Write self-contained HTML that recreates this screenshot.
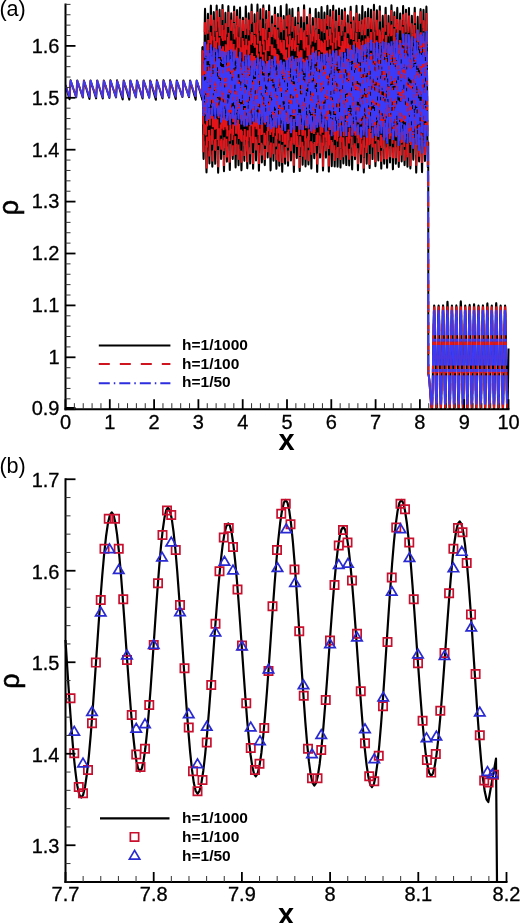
<!DOCTYPE html><html><head><meta charset="utf-8"><title>Density profiles</title><style>html,body{margin:0;padding:0;background:#fff;}svg{display:block;}</style></head><body><svg width="520" height="923" viewBox="0 0 520 923">
<rect width="520" height="923" fill="#fff"/>
<clipPath id="clipA"><rect x="65" y="0" width="445" height="409.2"/></clipPath>
<g fill="none" stroke-linejoin="round" clip-path="url(#clipA)">
<polyline points="65.5,85.52 65.57,85.74 65.63,85.97 65.7,86.2 65.77,86.42 65.83,86.65 65.9,86.87 65.97,87.1 66.03,87.32 66.1,87.55 66.16,87.78 66.23,88 66.3,88.23 66.36,88.45 66.43,88.68 66.5,88.9 66.56,89.13 66.63,89.36 66.7,89.58 66.76,89.81 66.83,90.03 66.9,90.26 66.96,90.48 67.03,90.71 67.09,90.94 67.16,91.16 67.23,91.39 67.29,91.61 67.36,91.84 67.43,92.06 67.49,92.29 67.56,92.52 67.63,92.74 67.69,92.97 67.76,93.19 67.83,93.42 67.89,93.65 67.96,93.87 68.03,94.1 68.09,94.32 68.16,94.55 68.22,94.77 68.29,95 68.36,95.23 68.42,95.45 68.49,95.68 68.56,95.9 68.62,96.13 68.69,96.35 68.76,96.58 68.82,96.81 68.89,97.03 68.96,97.26 69.02,97.48 69.09,97.71 69.15,97.93 69.22,98.16 69.29,98.39 69.35,98.61 69.42,98.84 69.49,99.06 69.55,99.29 69.62,99.17 69.69,97.89 69.75,96.61 69.82,95.33 69.89,94.05 69.95,92.77 70.02,91.49 70.09,90.21 70.15,88.93 70.22,87.65 70.28,86.38 70.35,85.1 70.42,83.82 70.48,82.54 70.55,81.26 70.62,80.35 70.68,80.55 70.75,80.75 70.82,80.95 70.88,81.16 70.95,81.36 71.02,81.56 71.08,81.76 71.15,81.96 71.21,82.16 71.28,82.36 71.35,82.57 71.41,82.77 71.48,82.97 71.55,83.17 71.61,83.37 71.68,83.57 71.75,83.77 71.81,83.97 71.88,84.18 71.95,84.38 72.01,84.58 72.08,84.78 72.14,84.98 72.21,85.18 72.28,85.38 72.34,85.59 72.41,85.79 72.48,85.99 72.54,86.19 72.61,86.39 72.68,86.59 72.74,86.79 72.81,86.99 72.88,87.2 72.94,87.4 73.01,87.6 73.08,87.8 73.14,88 73.21,88.2 73.27,88.4 73.34,88.61 73.41,88.81 73.47,89.01 73.54,89.21 73.61,89.41 73.67,89.61 73.74,89.81 73.81,90.01 73.87,90.22 73.94,90.42 74.01,90.62 74.07,90.82 74.14,91.02 74.2,91.22 74.27,91.42 74.34,91.63 74.4,91.83 74.47,92.03 74.54,92.23 74.6,92.43 74.67,92.63 74.74,92.83 74.8,93.03 74.87,93.24 74.94,93.44 75,93.64 75.07,93.84 75.14,94.04 75.2,94.24 75.27,94.44 75.33,94.65 75.4,94.85 75.47,95.05 75.53,95.25 75.6,95.45 75.67,95.65 75.73,95.85 75.8,96.05 75.87,96.26 75.93,96.46 76,96.66 76.07,96.86 76.13,97.06 76.2,97.26 76.26,96.97 76.33,95.83 76.4,94.69 76.46,93.55 76.53,92.41 76.6,91.27 76.66,90.13 76.73,88.99 76.8,87.85 76.86,86.7 76.93,85.56 77,84.42 77.06,83.28 77.13,82.14 77.2,81 77.26,80.38 77.33,80.58 77.39,80.79 77.46,80.99 77.53,81.2 77.59,81.4 77.66,81.6 77.73,81.81 77.79,82.01 77.86,82.22 77.93,82.42 77.99,82.63 78.06,82.83 78.13,83.03 78.19,83.24 78.26,83.44 78.32,83.65 78.39,83.85 78.46,84.05 78.52,84.26 78.59,84.46 78.66,84.67 78.72,84.87 78.79,85.08 78.86,85.28 78.92,85.48 78.99,85.69 79.06,85.89 79.12,86.1 79.19,86.3 79.26,86.5 79.32,86.71 79.39,86.91 79.45,87.12 79.52,87.32 79.59,87.53 79.65,87.73 79.72,87.93 79.79,88.14 79.85,88.34 79.92,88.55 79.99,88.75 80.05,88.96 80.12,89.16 80.19,89.36 80.25,89.57 80.32,89.77 80.38,89.98 80.45,90.18 80.52,90.38 80.58,90.59 80.65,90.79 80.72,91 80.78,91.2 80.85,91.41 80.92,91.61 80.98,91.81 81.05,92.02 81.12,92.22 81.18,92.43 81.25,92.63 81.32,92.83 81.38,93.04 81.45,93.24 81.51,93.45 81.58,93.65 81.65,93.86 81.71,94.06 81.78,94.26 81.85,94.47 81.91,94.67 81.98,94.88 82.05,95.08 82.11,95.29 82.18,95.49 82.25,95.69 82.31,95.9 82.38,96.1 82.44,96.31 82.51,96.51 82.58,96.71 82.64,96.92 82.71,97.12 82.78,97.33 82.84,97.53 82.91,97.05 82.98,95.9 83.04,94.74 83.11,93.58 83.18,92.42 83.24,91.27 83.31,90.11 83.38,88.95 83.44,87.8 83.51,86.64 83.57,85.48 83.64,84.33 83.71,83.17 83.77,82.01 83.84,80.85 83.91,80.42 83.97,80.64 84.04,80.86 84.11,81.08 84.17,81.3 84.24,81.52 84.31,81.75 84.37,81.97 84.44,82.19 84.5,82.41 84.57,82.63 84.64,82.85 84.7,83.07 84.77,83.3 84.84,83.52 84.9,83.74 84.97,83.96 85.04,84.18 85.1,84.4 85.17,84.63 85.24,84.85 85.3,85.07 85.37,85.29 85.44,85.51 85.5,85.73 85.57,85.96 85.63,86.18 85.7,86.4 85.77,86.62 85.83,86.84 85.9,87.06 85.97,87.29 86.03,87.51 86.1,87.73 86.17,87.95 86.23,88.17 86.3,88.39 86.37,88.62 86.43,88.84 86.5,89.06 86.56,89.28 86.63,89.5 86.7,89.72 86.76,89.95 86.83,90.17 86.9,90.39 86.96,90.61 87.03,90.83 87.1,91.05 87.16,91.27 87.23,91.5 87.3,91.72 87.36,91.94 87.43,92.16 87.49,92.38 87.56,92.6 87.63,92.83 87.69,93.05 87.76,93.27 87.83,93.49 87.89,93.71 87.96,93.93 88.03,94.16 88.09,94.38 88.16,94.6 88.23,94.82 88.29,95.04 88.36,95.26 88.43,95.49 88.49,95.71 88.56,95.93 88.62,96.15 88.69,96.37 88.76,96.59 88.82,96.82 88.89,97.04 88.96,97.26 89.02,97.48 89.09,97.7 89.16,97.92 89.22,98.14 89.29,98.37 89.36,98.59 89.42,98.81 89.49,99.03 89.55,98.31 89.62,97.06 89.69,95.8 89.75,94.54 89.82,93.29 89.89,92.03 89.95,90.78 90.02,89.52 90.09,88.27 90.15,87.01 90.22,85.75 90.29,84.5 90.35,83.24 90.42,81.99 90.49,80.73 90.55,80.44 90.62,80.65 90.68,80.87 90.75,81.08 90.82,81.29 90.88,81.51 90.95,81.72 91.02,81.93 91.08,82.15 91.15,82.36 91.22,82.57 91.28,82.79 91.35,83 91.42,83.21 91.48,83.43 91.55,83.64 91.61,83.85 91.68,84.07 91.75,84.28 91.81,84.49 91.88,84.71 91.95,84.92 92.01,85.13 92.08,85.35 92.15,85.56 92.21,85.77 92.28,85.99 92.35,86.2 92.41,86.41 92.48,86.63 92.55,86.84 92.61,87.06 92.68,87.27 92.74,87.48 92.81,87.7 92.88,87.91 92.94,88.12 93.01,88.34 93.08,88.55 93.14,88.76 93.21,88.98 93.28,89.19 93.34,89.4 93.41,89.62 93.48,89.83 93.54,90.04 93.61,90.26 93.67,90.47 93.74,90.68 93.81,90.9 93.87,91.11 93.94,91.32 94.01,91.54 94.07,91.75 94.14,91.96 94.21,92.18 94.27,92.39 94.34,92.6 94.41,92.82 94.47,93.03 94.54,93.24 94.61,93.46 94.67,93.67 94.74,93.88 94.8,94.1 94.87,94.31 94.94,94.52 95,94.74 95.07,94.95 95.14,95.16 95.2,95.38 95.27,95.59 95.34,95.8 95.4,96.02 95.47,96.23 95.54,96.44 95.6,96.66 95.67,96.87 95.73,97.08 95.8,97.3 95.87,97.51 95.93,97.72 96,97.94 96.07,98.15 96.13,98.36 96.2,97.48 96.27,96.27 96.33,95.06 96.4,93.85 96.47,92.64 96.53,91.43 96.6,90.22 96.67,89.02 96.73,87.81 96.8,86.6 96.86,85.39 96.93,84.18 97,82.97 97.06,81.76 97.13,80.55 97.2,80.47 97.26,80.69 97.33,80.9 97.4,81.12 97.46,81.33 97.53,81.55 97.6,81.76 97.66,81.98 97.73,82.19 97.79,82.4 97.86,82.62 97.93,82.83 97.99,83.05 98.06,83.26 98.13,83.48 98.19,83.69 98.26,83.91 98.33,84.12 98.39,84.34 98.46,84.55 98.53,84.77 98.59,84.98 98.66,85.2 98.72,85.41 98.79,85.63 98.86,85.84 98.92,86.06 98.99,86.27 99.06,86.49 99.12,86.7 99.19,86.92 99.26,87.13 99.32,87.35 99.39,87.56 99.46,87.78 99.52,87.99 99.59,88.21 99.66,88.42 99.72,88.64 99.79,88.85 99.85,89.07 99.92,89.28 99.99,89.5 100.05,89.71 100.12,89.93 100.19,90.14 100.25,90.36 100.32,90.57 100.39,90.79 100.45,91 100.52,91.22 100.59,91.43 100.65,91.65 100.72,91.86 100.78,92.08 100.85,92.29 100.92,92.51 100.98,92.72 101.05,92.94 101.12,93.15 101.18,93.37 101.25,93.58 101.32,93.8 101.38,94.01 101.45,94.23 101.52,94.44 101.58,94.66 101.65,94.87 101.72,95.09 101.78,95.3 101.85,95.52 101.91,95.73 101.98,95.95 102.05,96.16 102.11,96.38 102.18,96.59 102.25,96.81 102.31,97.02 102.38,97.24 102.45,97.45 102.51,97.67 102.58,97.88 102.65,98.1 102.71,98.31 102.78,98.53 102.84,97.44 102.91,96.22 102.98,95.01 103.04,93.79 103.11,92.57 103.18,91.35 103.24,90.13 103.31,88.91 103.38,87.7 103.44,86.48 103.51,85.26 103.58,84.04 103.64,82.82 103.71,81.61 103.78,80.39 103.84,80.49 103.91,80.7 103.97,80.91 104.04,81.12 104.11,81.33 104.17,81.53 104.24,81.74 104.31,81.95 104.37,82.16 104.44,82.37 104.51,82.57 104.57,82.78 104.64,82.99 104.71,83.2 104.77,83.41 104.84,83.61 104.9,83.82 104.97,84.03 105.04,84.24 105.1,84.45 105.17,84.65 105.24,84.86 105.3,85.07 105.37,85.28 105.44,85.49 105.5,85.69 105.57,85.9 105.64,86.11 105.7,86.32 105.77,86.53 105.84,86.73 105.9,86.94 105.97,87.15 106.03,87.36 106.1,87.57 106.17,87.77 106.23,87.98 106.3,88.19 106.37,88.4 106.43,88.61 106.5,88.81 106.57,89.02 106.63,89.23 106.7,89.44 106.77,89.65 106.83,89.85 106.9,90.06 106.96,90.27 107.03,90.48 107.1,90.69 107.16,90.89 107.23,91.1 107.3,91.31 107.36,91.52 107.43,91.73 107.5,91.94 107.56,92.14 107.63,92.35 107.7,92.56 107.76,92.77 107.83,92.98 107.9,93.18 107.96,93.39 108.03,93.6 108.09,93.81 108.16,94.02 108.23,94.22 108.29,94.43 108.36,94.64 108.43,94.85 108.49,95.06 108.56,95.26 108.63,95.47 108.69,95.68 108.76,95.89 108.83,96.1 108.89,96.3 108.96,96.51 109.02,96.72 109.09,96.93 109.16,97.14 109.22,97.34 109.29,97.55 109.36,97.76 109.42,97.91 109.49,96.73 109.56,95.55 109.62,94.37 109.69,93.19 109.76,92.01 109.82,90.84 109.89,89.66 109.96,88.48 110.02,87.3 110.09,86.12 110.15,84.94 110.22,83.76 110.29,82.58 110.35,81.4 110.42,80.31 110.49,80.52 110.55,80.72 110.62,80.92 110.69,81.13 110.75,81.33 110.82,81.53 110.89,81.74 110.95,81.94 111.02,82.14 111.08,82.35 111.15,82.55 111.22,82.75 111.28,82.96 111.35,83.16 111.42,83.36 111.48,83.57 111.55,83.77 111.62,83.97 111.68,84.18 111.75,84.38 111.82,84.58 111.88,84.79 111.95,84.99 112.02,85.19 112.08,85.4 112.15,85.6 112.21,85.8 112.28,86.01 112.35,86.21 112.41,86.41 112.48,86.62 112.55,86.82 112.61,87.02 112.68,87.23 112.75,87.43 112.81,87.63 112.88,87.84 112.95,88.04 113.01,88.24 113.08,88.45 113.14,88.65 113.21,88.85 113.28,89.06 113.34,89.26 113.41,89.46 113.48,89.67 113.54,89.87 113.61,90.07 113.68,90.28 113.74,90.48 113.81,90.68 113.88,90.89 113.94,91.09 114.01,91.29 114.07,91.5 114.14,91.7 114.21,91.9 114.27,92.11 114.34,92.31 114.41,92.51 114.47,92.72 114.54,92.92 114.61,93.12 114.67,93.33 114.74,93.53 114.81,93.73 114.87,93.94 114.94,94.14 115.01,94.34 115.07,94.55 115.14,94.75 115.2,94.95 115.27,95.16 115.34,95.36 115.4,95.56 115.47,95.77 115.54,95.97 115.6,96.17 115.67,96.38 115.74,96.58 115.8,96.78 115.87,96.99 115.94,97.19 116,97.39 116.07,97.36 116.13,96.2 116.2,95.05 116.27,93.9 116.33,92.75 116.4,91.59 116.47,90.44 116.53,89.29 116.6,88.14 116.67,86.98 116.73,85.83 116.8,84.68 116.87,83.53 116.93,82.38 117,81.22 117.07,80.35 117.13,80.57 117.2,80.8 117.26,81.03 117.33,81.25 117.4,81.48 117.46,81.71 117.53,81.94 117.6,82.16 117.66,82.39 117.73,82.62 117.8,82.84 117.86,83.07 117.93,83.3 118,83.53 118.06,83.75 118.13,83.98 118.19,84.21 118.26,84.43 118.33,84.66 118.39,84.89 118.46,85.11 118.53,85.34 118.59,85.57 118.66,85.8 118.73,86.02 118.79,86.25 118.86,86.48 118.93,86.7 118.99,86.93 119.06,87.16 119.13,87.39 119.19,87.61 119.26,87.84 119.32,88.07 119.39,88.29 119.46,88.52 119.52,88.75 119.59,88.98 119.66,89.2 119.72,89.43 119.79,89.66 119.86,89.88 119.92,90.11 119.99,90.34 120.06,90.57 120.12,90.79 120.19,91.02 120.25,91.25 120.32,91.47 120.39,91.7 120.45,91.93 120.52,92.16 120.59,92.38 120.65,92.61 120.72,92.84 120.79,93.06 120.85,93.29 120.92,93.52 120.99,93.75 121.05,93.97 121.12,94.2 121.19,94.43 121.25,94.65 121.32,94.88 121.38,95.11 121.45,95.34 121.52,95.56 121.58,95.79 121.65,96.02 121.72,96.24 121.78,96.47 121.85,96.7 121.92,96.93 121.98,97.15 122.05,97.38 122.12,97.61 122.18,97.83 122.25,98.06 122.31,98.29 122.38,98.52 122.45,98.74 122.51,98.97 122.58,99.2 122.65,99.42 122.71,99.18 122.78,97.89 122.85,96.6 122.91,95.32 122.98,94.03 123.05,92.74 123.11,91.45 123.18,90.17 123.25,88.88 123.31,87.59 123.38,86.31 123.44,85.02 123.51,83.73 123.58,82.44 123.64,81.16 123.71,80.38 123.78,80.61 123.84,80.84 123.91,81.06 123.98,81.29 124.04,81.52 124.11,81.75 124.18,81.98 124.24,82.21 124.31,82.44 124.37,82.67 124.44,82.9 124.51,83.13 124.57,83.36 124.64,83.59 124.71,83.82 124.77,84.05 124.84,84.28 124.91,84.51 124.97,84.73 125.04,84.96 125.11,85.19 125.17,85.42 125.24,85.65 125.31,85.88 125.37,86.11 125.44,86.34 125.5,86.57 125.57,86.8 125.64,87.03 125.7,87.26 125.77,87.49 125.84,87.72 125.9,87.95 125.97,88.18 126.04,88.4 126.1,88.63 126.17,88.86 126.24,89.09 126.3,89.32 126.37,89.55 126.43,89.78 126.5,90.01 126.57,90.24 126.63,90.47 126.7,90.7 126.77,90.93 126.83,91.16 126.9,91.39 126.97,91.62 127.03,91.85 127.1,92.07 127.17,92.3 127.23,92.53 127.3,92.76 127.36,92.99 127.43,93.22 127.5,93.45 127.56,93.68 127.63,93.91 127.7,94.14 127.76,94.37 127.83,94.6 127.9,94.83 127.96,95.06 128.03,95.29 128.1,95.52 128.16,95.75 128.23,95.97 128.3,96.2 128.36,96.43 128.43,96.66 128.49,96.89 128.56,97.12 128.63,97.35 128.69,97.58 128.76,97.81 128.83,98.04 128.89,98.27 128.96,98.5 129.03,98.73 129.09,98.96 129.16,99.19 129.23,99.42 129.29,99.64 129.36,99.19 129.42,97.89 129.49,96.59 129.56,95.29 129.62,93.99 129.69,92.69 129.76,91.39 129.82,90.09 129.89,88.79 129.96,87.49 130.02,86.19 130.09,84.89 130.16,83.59 130.22,82.29 130.29,80.99 130.36,80.39 130.42,80.6 130.49,80.8 130.55,81 130.62,81.2 130.69,81.4 130.75,81.61 130.82,81.81 130.89,82.01 130.95,82.21 131.02,82.41 131.09,82.61 131.15,82.82 131.22,83.02 131.29,83.22 131.35,83.42 131.42,83.62 131.48,83.82 131.55,84.03 131.62,84.23 131.68,84.43 131.75,84.63 131.82,84.83 131.88,85.03 131.95,85.24 132.02,85.44 132.08,85.64 132.15,85.84 132.22,86.04 132.28,86.24 132.35,86.45 132.42,86.65 132.48,86.85 132.55,87.05 132.61,87.25 132.68,87.46 132.75,87.66 132.81,87.86 132.88,88.06 132.95,88.26 133.01,88.46 133.08,88.67 133.15,88.87 133.21,89.07 133.28,89.27 133.35,89.47 133.41,89.67 133.48,89.88 133.54,90.08 133.61,90.28 133.68,90.48 133.74,90.68 133.81,90.88 133.88,91.09 133.94,91.29 134.01,91.49 134.08,91.69 134.14,91.89 134.21,92.1 134.28,92.3 134.34,92.5 134.41,92.7 134.48,92.9 134.54,93.1 134.61,93.31 134.67,93.51 134.74,93.71 134.81,93.91 134.87,94.11 134.94,94.31 135.01,94.52 135.07,94.72 135.14,94.92 135.21,95.12 135.27,95.32 135.34,95.52 135.41,95.73 135.47,95.93 135.54,96.13 135.6,96.33 135.67,96.53 135.74,96.74 135.8,96.94 135.87,97.14 135.94,97.34 136,96.76 136.07,95.61 136.14,94.47 136.2,93.33 136.27,92.18 136.34,91.04 136.4,89.9 136.47,88.75 136.54,87.61 136.6,86.47 136.67,85.32 136.73,84.18 136.8,83.04 136.87,81.89 136.93,80.75 137,80.43 137.07,80.65 137.13,80.86 137.2,81.08 137.27,81.29 137.33,81.51 137.4,81.72 137.47,81.94 137.53,82.15 137.6,82.37 137.66,82.59 137.73,82.8 137.8,83.02 137.86,83.23 137.93,83.45 138,83.66 138.06,83.88 138.13,84.09 138.2,84.31 138.26,84.53 138.33,84.74 138.4,84.96 138.46,85.17 138.53,85.39 138.59,85.6 138.66,85.82 138.73,86.03 138.79,86.25 138.86,86.47 138.93,86.68 138.99,86.9 139.06,87.11 139.13,87.33 139.19,87.54 139.26,87.76 139.33,87.97 139.39,88.19 139.46,88.41 139.53,88.62 139.59,88.84 139.66,89.05 139.72,89.27 139.79,89.48 139.86,89.7 139.92,89.91 139.99,90.13 140.06,90.34 140.12,90.56 140.19,90.78 140.26,90.99 140.32,91.21 140.39,91.42 140.46,91.64 140.52,91.85 140.59,92.07 140.65,92.28 140.72,92.5 140.79,92.72 140.85,92.93 140.92,93.15 140.99,93.36 141.05,93.58 141.12,93.79 141.19,94.01 141.25,94.22 141.32,94.44 141.39,94.66 141.45,94.87 141.52,95.09 141.59,95.3 141.65,95.52 141.72,95.73 141.78,95.95 141.85,96.16 141.92,96.38 141.98,96.6 142.05,96.81 142.12,97.03 142.18,97.24 142.25,97.46 142.32,97.67 142.38,97.89 142.45,98.1 142.52,98.32 142.58,98.54 142.65,97.72 142.71,96.49 142.78,95.27 142.85,94.05 142.91,92.83 142.98,91.61 143.05,90.39 143.11,89.17 143.18,87.95 143.25,86.72 143.31,85.5 143.38,84.28 143.45,83.06 143.51,81.84 143.58,80.62 143.65,80.45 143.71,80.66 143.78,80.86 143.84,81.06 143.91,81.27 143.98,81.47 144.04,81.68 144.11,81.88 144.18,82.09 144.24,82.29 144.31,82.49 144.38,82.7 144.44,82.9 144.51,83.11 144.58,83.31 144.64,83.51 144.71,83.72 144.77,83.92 144.84,84.13 144.91,84.33 144.97,84.54 145.04,84.74 145.11,84.94 145.17,85.15 145.24,85.35 145.31,85.56 145.37,85.76 145.44,85.97 145.51,86.17 145.57,86.37 145.64,86.58 145.71,86.78 145.77,86.99 145.84,87.19 145.9,87.4 145.97,87.6 146.04,87.8 146.1,88.01 146.17,88.21 146.24,88.42 146.3,88.62 146.37,88.83 146.44,89.03 146.5,89.23 146.57,89.44 146.64,89.64 146.7,89.85 146.77,90.05 146.83,90.26 146.9,90.46 146.97,90.66 147.03,90.87 147.1,91.07 147.17,91.28 147.23,91.48 147.3,91.68 147.37,91.89 147.43,92.09 147.5,92.3 147.57,92.5 147.63,92.71 147.7,92.91 147.77,93.11 147.83,93.32 147.9,93.52 147.96,93.73 148.03,93.93 148.1,94.14 148.16,94.34 148.23,94.54 148.3,94.75 148.36,94.95 148.43,95.16 148.5,95.36 148.56,95.57 148.63,95.77 148.7,95.97 148.76,96.18 148.83,96.38 148.89,96.59 148.96,96.79 149.03,97 149.09,97.2 149.16,97.4 149.23,97.61 149.29,96.65 149.36,95.49 149.43,94.33 149.49,93.18 149.56,92.02 149.63,90.86 149.69,89.7 149.76,88.55 149.83,87.39 149.89,86.23 149.96,85.07 150.02,83.92 150.09,82.76 150.16,81.6 150.22,80.44 150.29,80.5 150.36,80.73 150.42,80.96 150.49,81.19 150.56,81.42 150.62,81.65 150.69,81.88 150.76,82.11 150.82,82.34 150.89,82.57 150.95,82.8 151.02,83.03 151.09,83.27 151.15,83.5 151.22,83.73 151.29,83.96 151.35,84.19 151.42,84.42 151.49,84.65 151.55,84.88 151.62,85.11 151.69,85.34 151.75,85.57 151.82,85.8 151.88,86.03 151.95,86.26 152.02,86.49 152.08,86.72 152.15,86.95 152.22,87.18 152.28,87.41 152.35,87.64 152.42,87.87 152.48,88.1 152.55,88.33 152.62,88.56 152.68,88.79 152.75,89.02 152.82,89.25 152.88,89.48 152.95,89.71 153.01,89.94 153.08,90.17 153.15,90.4 153.21,90.63 153.28,90.86 153.35,91.09 153.41,91.32 153.48,91.56 153.55,91.79 153.61,92.02 153.68,92.25 153.75,92.48 153.81,92.71 153.88,92.94 153.94,93.17 154.01,93.4 154.08,93.63 154.14,93.86 154.21,94.09 154.28,94.32 154.34,94.55 154.41,94.78 154.48,95.01 154.54,95.24 154.61,95.47 154.68,95.7 154.74,95.93 154.81,96.16 154.88,96.39 154.94,96.62 155.01,96.85 155.07,97.08 155.14,97.31 155.21,97.54 155.27,97.77 155.34,98 155.41,98.23 155.47,98.46 155.54,98.69 155.61,98.92 155.67,99.15 155.74,99.38 155.81,99.61 155.87,99.84 155.94,98.55 156,97.25 156.07,95.94 156.14,94.64 156.2,93.33 156.27,92.03 156.34,90.72 156.4,89.42 156.47,88.11 156.54,86.81 156.6,85.5 156.67,84.2 156.74,82.9 156.8,81.59 156.87,80.3 156.94,80.52 157,80.73 157.07,80.95 157.13,81.16 157.2,81.38 157.27,81.59 157.33,81.81 157.4,82.02 157.47,82.24 157.53,82.45 157.6,82.67 157.67,82.88 157.73,83.1 157.8,83.31 157.87,83.53 157.93,83.74 158,83.96 158.06,84.17 158.13,84.39 158.2,84.6 158.26,84.82 158.33,85.03 158.4,85.25 158.46,85.46 158.53,85.68 158.6,85.9 158.66,86.11 158.73,86.33 158.8,86.54 158.86,86.76 158.93,86.97 159,87.19 159.06,87.4 159.13,87.62 159.19,87.83 159.26,88.05 159.33,88.26 159.39,88.48 159.46,88.69 159.53,88.91 159.59,89.12 159.66,89.34 159.73,89.55 159.79,89.77 159.86,89.98 159.93,90.2 159.99,90.41 160.06,90.63 160.12,90.84 160.19,91.06 160.26,91.27 160.32,91.49 160.39,91.7 160.46,91.92 160.52,92.13 160.59,92.35 160.66,92.56 160.72,92.78 160.79,92.99 160.86,93.21 160.92,93.42 160.99,93.64 161.06,93.85 161.12,94.07 161.19,94.28 161.25,94.5 161.32,94.71 161.39,94.93 161.45,95.14 161.52,95.36 161.59,95.57 161.65,95.79 161.72,96 161.79,96.22 161.85,96.43 161.92,96.65 161.99,96.87 162.05,97.08 162.12,97.3 162.18,97.51 162.25,97.73 162.32,97.94 162.38,98.16 162.45,98.37 162.52,98.4 162.58,97.19 162.65,95.97 162.72,94.75 162.78,93.53 162.85,92.31 162.92,91.09 162.98,89.87 163.05,88.65 163.12,87.43 163.18,86.22 163.25,85 163.31,83.78 163.38,82.56 163.45,81.34 163.51,80.33 163.58,80.54 163.65,80.74 163.71,80.95 163.78,81.15 163.85,81.36 163.91,81.56 163.98,81.77 164.05,81.98 164.11,82.18 164.18,82.39 164.24,82.59 164.31,82.8 164.38,83 164.44,83.21 164.51,83.41 164.58,83.62 164.64,83.83 164.71,84.03 164.78,84.24 164.84,84.44 164.91,84.65 164.98,84.85 165.04,85.06 165.11,85.27 165.18,85.47 165.24,85.68 165.31,85.88 165.37,86.09 165.44,86.29 165.51,86.5 165.57,86.71 165.64,86.91 165.71,87.12 165.77,87.32 165.84,87.53 165.91,87.73 165.97,87.94 166.04,88.14 166.11,88.35 166.17,88.56 166.24,88.76 166.3,88.97 166.37,89.17 166.44,89.38 166.5,89.58 166.57,89.79 166.64,90 166.7,90.2 166.77,90.41 166.84,90.61 166.9,90.82 166.97,91.02 167.04,91.23 167.1,91.43 167.17,91.64 167.23,91.85 167.3,92.05 167.37,92.26 167.43,92.46 167.5,92.67 167.57,92.87 167.63,93.08 167.7,93.29 167.77,93.49 167.83,93.7 167.9,93.9 167.97,94.11 168.03,94.31 168.1,94.52 168.17,94.73 168.23,94.93 168.3,95.14 168.36,95.34 168.43,95.55 168.5,95.75 168.56,95.96 168.63,96.16 168.7,96.37 168.76,96.58 168.83,96.78 168.9,96.99 168.96,97.19 169.03,97.4 169.1,97.6 169.16,97.45 169.23,96.29 169.29,95.12 169.36,93.96 169.43,92.79 169.49,91.62 169.56,90.46 169.63,89.29 169.69,88.13 169.76,86.96 169.83,85.8 169.89,84.63 169.96,83.47 170.03,82.3 170.09,81.14 170.16,80.36 170.23,80.59 170.29,80.81 170.36,81.03 170.42,81.25 170.49,81.48 170.56,81.7 170.62,81.92 170.69,82.14 170.76,82.37 170.82,82.59 170.89,82.81 170.96,83.03 171.02,83.26 171.09,83.48 171.16,83.7 171.22,83.92 171.29,84.15 171.35,84.37 171.42,84.59 171.49,84.81 171.55,85.04 171.62,85.26 171.69,85.48 171.75,85.7 171.82,85.93 171.89,86.15 171.95,86.37 172.02,86.59 172.09,86.82 172.15,87.04 172.22,87.26 172.29,87.48 172.35,87.71 172.42,87.93 172.48,88.15 172.55,88.37 172.62,88.6 172.68,88.82 172.75,89.04 172.82,89.26 172.88,89.49 172.95,89.71 173.02,89.93 173.08,90.15 173.15,90.38 173.22,90.6 173.28,90.82 173.35,91.04 173.41,91.27 173.48,91.49 173.55,91.71 173.61,91.93 173.68,92.16 173.75,92.38 173.81,92.6 173.88,92.82 173.95,93.05 174.01,93.27 174.08,93.49 174.15,93.71 174.21,93.94 174.28,94.16 174.35,94.38 174.41,94.6 174.48,94.83 174.54,95.05 174.61,95.27 174.68,95.49 174.74,95.72 174.81,95.94 174.88,96.16 174.94,96.38 175.01,96.61 175.08,96.83 175.14,97.05 175.21,97.27 175.28,97.5 175.34,97.72 175.41,97.94 175.47,98.16 175.54,98.39 175.61,98.61 175.67,98.83 175.74,99.05 175.81,98.69 175.87,97.43 175.94,96.17 176.01,94.9 176.07,93.64 176.14,92.38 176.21,91.12 176.27,89.86 176.34,88.6 176.41,87.34 176.47,86.08 176.54,84.82 176.6,83.56 176.67,82.3 176.74,81.03 176.8,80.38 176.87,80.58 176.94,80.78 177,80.98 177.07,81.17 177.14,81.37 177.2,81.57 177.27,81.77 177.34,81.97 177.4,82.16 177.47,82.36 177.53,82.56 177.6,82.76 177.67,82.96 177.73,83.15 177.8,83.35 177.87,83.55 177.93,83.75 178,83.95 178.07,84.14 178.13,84.34 178.2,84.54 178.27,84.74 178.33,84.94 178.4,85.13 178.47,85.33 178.53,85.53 178.6,85.73 178.66,85.93 178.73,86.12 178.8,86.32 178.86,86.52 178.93,86.72 179,86.92 179.06,87.11 179.13,87.31 179.2,87.51 179.26,87.71 179.33,87.91 179.4,88.1 179.46,88.3 179.53,88.5 179.59,88.7 179.66,88.9 179.73,89.09 179.79,89.29 179.86,89.49 179.93,89.69 179.99,89.89 180.06,90.08 180.13,90.28 180.19,90.48 180.26,90.68 180.33,90.88 180.39,91.07 180.46,91.27 180.52,91.47 180.59,91.67 180.66,91.87 180.72,92.06 180.79,92.26 180.86,92.46 180.92,92.66 180.99,92.86 181.06,93.05 181.12,93.25 181.19,93.45 181.26,93.65 181.32,93.85 181.39,94.04 181.46,94.24 181.52,94.44 181.59,94.64 181.65,94.84 181.72,95.03 181.79,95.23 181.85,95.43 181.92,95.63 181.99,95.83 182.05,96.02 182.12,96.22 182.19,96.42 182.25,96.62 182.32,96.82 182.39,97.01 182.45,96.51 182.52,95.39 182.58,94.26 182.65,93.14 182.72,92.02 182.78,90.9 182.85,89.78 182.92,88.65 182.98,87.53 183.05,86.41 183.12,85.29 183.18,84.17 183.25,83.05 183.32,81.92 183.38,80.8 183.45,80.41 183.52,80.61 183.58,80.81 183.65,81.01 183.71,81.21 183.78,81.41 183.85,81.61 183.91,81.81 183.98,82.01 184.05,82.21 184.11,82.41 184.18,82.6 184.25,82.8 184.31,83 184.38,83.2 184.45,83.4 184.51,83.6 184.58,83.8 184.64,84 184.71,84.2 184.78,84.4 184.84,84.6 184.91,84.8 184.98,85 185.04,85.2 185.11,85.4 185.18,85.6 185.24,85.8 185.31,86 185.38,86.2 185.44,86.39 185.51,86.59 185.58,86.79 185.64,86.99 185.71,87.19 185.77,87.39 185.84,87.59 185.91,87.79 185.97,87.99 186.04,88.19 186.11,88.39 186.17,88.59 186.24,88.79 186.31,88.99 186.37,89.19 186.44,89.39 186.51,89.59 186.57,89.79 186.64,89.99 186.7,90.19 186.77,90.38 186.84,90.58 186.9,90.78 186.97,90.98 187.04,91.18 187.1,91.38 187.17,91.58 187.24,91.78 187.3,91.98 187.37,92.18 187.44,92.38 187.5,92.58 187.57,92.78 187.64,92.98 187.7,93.18 187.77,93.38 187.83,93.58 187.9,93.78 187.97,93.98 188.03,94.17 188.1,94.37 188.17,94.57 188.23,94.77 188.3,94.97 188.37,95.17 188.43,95.37 188.5,95.57 188.57,95.77 188.63,95.97 188.7,96.17 188.76,96.37 188.83,96.57 188.9,96.77 188.96,96.97 189.03,97.17 189.1,96.48 189.16,95.35 189.23,94.22 189.3,93.09 189.36,91.96 189.43,90.83 189.5,89.7 189.56,88.57 189.63,87.43 189.7,86.3 189.76,85.17 189.83,84.04 189.89,82.91 189.96,81.78 190.03,80.65 190.09,80.46 190.16,80.69 190.23,80.92 190.29,81.15 190.36,81.38 190.43,81.6 190.49,81.83 190.56,82.06 190.63,82.29 190.69,82.52 190.76,82.75 190.82,82.98 190.89,83.21 190.96,83.44 191.02,83.67 191.09,83.9 191.16,84.13 191.22,84.36 191.29,84.59 191.36,84.81 191.42,85.04 191.49,85.27 191.56,85.5 191.62,85.73 191.69,85.96 191.75,86.19 191.82,86.42 191.89,86.65 191.95,86.88 192.02,87.11 192.09,87.34 192.15,87.57 192.22,87.8 192.29,88.02 192.35,88.25 192.42,88.48 192.49,88.71 192.55,88.94 192.62,89.17 192.69,89.4 192.75,89.63 192.82,89.86 192.88,90.09 192.95,90.32 193.02,90.55 193.08,90.78 193.15,91.01 193.22,91.24 193.28,91.46 193.35,91.69 193.42,91.92 193.48,92.15 193.55,92.38 193.62,92.61 193.68,92.84 193.75,93.07 193.81,93.3 193.88,93.53 193.95,93.76 194.01,93.99 194.08,94.22 194.15,94.45 194.21,94.67 194.28,94.9 194.35,95.13 194.41,95.36 194.48,95.59 194.55,95.82 194.61,96.05 194.68,96.28 194.75,96.51 194.81,96.74 194.88,96.97 194.94,97.2 195.01,97.43 195.08,97.66 195.14,97.88 195.21,98.11 195.28,98.34 195.34,98.57 195.41,98.8 195.48,99.03 195.54,99.26 195.61,99.49 195.68,99.72 195.74,98.72 195.81,97.42 195.87,96.12 195.94,94.82 196.01,93.52 196.07,92.22 196.14,90.92 196.21,89.62 196.27,88.33 196.34,87.03 196.41,85.73 196.47,84.43 196.54,83.13 196.61,81.83 196.67,80.53 196.74,80.49 196.81,80.72 196.87,80.95 196.94,81.18 197,81.41 197.07,81.64 197.14,81.87 197.2,82.1 197.27,82.32 197.34,82.55 197.4,82.78 197.47,83.01 197.54,83.24 197.6,83.47 197.67,83.7 197.74,83.93 197.8,84.16 197.87,84.39 197.93,84.62 198,84.85 198.07,85.08 198.13,85.31 198.2,85.54 198.27,85.77 198.33,86 198.4,86.23 198.47,86.46 198.53,86.68 198.6,86.91 198.67,87.14 198.73,87.37 198.8,87.6 198.87,87.83 198.93,88.06 199,88.29 199.06,88.52 199.13,88.75 199.2,88.98 199.26,89.21 199.33,89.44 199.4,89.67 199.46,89.9 199.53,90.13 199.6,90.36 199.66,90.59 199.73,90.82 199.8,91.05 199.86,91.27 199.93,91.5 199.99,91.73 200.06,91.96 200.13,92.19 200.19,92.42 200.26,92.65 200.33,92.88 200.39,93.11 200.46,93.34 200.53,93.57 200.59,93.8 200.66,94.03 200.73,94.26 200.79,94.49 200.86,94.72 200.93,94.95 200.99,95.18 201.06,95.41 201.12,95.63 201.19,95.86 201.26,96.09 201.32,96.32 201.39,96.55 201.46,96.78 201.52,97.01 201.59,97.24 201.66,97.47 201.72,97.7 201.79,97.93 201.86,98.16 201.92,98.39 201.99,98.62 202.05,98.85 202.12,99.08 202.19,99.31 202.25,99.54 202.32,99.77 202.39,98.56 202.45,97.26 202.52,95.96 202.59,47.28 202.65,56.29 202.72,65.92 202.79,75.99 202.85,86.28 202.92,96.58 202.99,106.68 203.05,116.38" stroke="#000" stroke-width="2.0"/>
<polyline points="202.12,99.08 202.19,99.31 202.25,99.54 202.32,99.77 202.39,98.56 202.45,97.26 202.52,95.96 202.59,47.28 202.65,56.29 202.72,65.92 202.79,75.99 202.85,86.28 202.92,96.58 202.99,106.68 203.05,116.38 203.12,125.47 203.18,133.77 203.25,141.1 203.32,147.33 203.38,152.31 203.45,155.96 203.52,158.18 203.58,158.95 203.65,158.2 203.72,155.93 203.78,152.19 203.85,147.04 203.92,140.6 203.98,132.99 204.05,124.38 204.11,114.94 204.18,104.86 204.25,94.35 204.31,83.63 204.38,72.91 204.45,62.41 204.51,52.36 204.58,42.96 204.65,34.39 204.71,26.84 204.78,20.46 204.85,15.38 204.91,11.71 204.98,9.51 205.04,8.85 205.11,9.8 205.18,12.41 205.24,16.62 205.31,22.35 205.38,29.48 205.44,37.86 205.51,47.33 205.58,57.68 205.64,68.71 205.71,80.19 205.78,91.89 205.84,103.55 205.91,114.96 205.98,125.86 206.04,136.04 206.11,145.29 206.17,153.41 206.24,160.25 206.31,165.66 206.37,169.53 206.44,171.79 206.51,172.37 206.57,171.32 206.64,168.65 206.71,164.44 206.77,158.76 206.84,151.73 206.91,143.5 206.97,134.23 207.04,124.12 207.1,113.37 207.17,102.21 207.24,90.85 207.3,79.54 207.37,68.51 207.44,57.98 207.5,48.17 207.57,39.28 207.64,31.49 207.7,24.96 207.77,19.83 207.84,16.2 207.9,14.15 207.97,13.71 208.04,14.84 208.1,17.48 208.17,21.58 208.23,27.06 208.3,33.8 208.37,41.66 208.43,50.49 208.5,60.1 208.57,70.3 208.63,80.87 208.7,91.61 208.77,102.28 208.83,112.67 208.9,122.57 208.97,131.78 209.03,140.1 209.1,147.36 209.16,153.42 209.23,158.16 209.3,161.46 209.36,163.28 209.43,163.55 209.5,162.23 209.56,159.31 209.63,154.86 209.7,148.97 209.76,141.76 209.83,133.37 209.9,123.98 209.96,113.79 210.03,102.99 210.1,91.81 210.16,80.49 210.23,69.25 210.29,58.32 210.36,47.93 210.43,38.29 210.49,29.61 210.56,22.04 210.63,15.76 210.69,10.89 210.76,7.54 210.83,5.76 210.89,5.6 210.96,7.08 211.03,10.19 211.09,14.86 211.16,20.98 211.22,28.44 211.29,37.09 211.36,46.74 211.42,57.2 211.49,68.25 211.56,79.67 211.62,91.22 211.69,102.67 211.76,113.78 211.82,124.31 211.89,134.07 211.96,142.84 212.02,150.45 212.09,156.74 212.16,161.58 212.22,164.88 212.29,166.55 212.35,166.59 212.42,165.03 212.49,161.92 212.55,157.32 212.62,151.32 212.69,144.06 212.75,135.67 212.82,126.33 212.89,116.23 212.95,105.58 213.02,94.6 213.09,83.51 213.15,72.53 213.22,61.91 213.28,51.84 213.35,42.55 213.42,34.21 213.48,27 213.55,21.08 213.62,16.55 213.68,13.51 213.75,12.03 213.82,12.14 213.88,13.79 213.95,16.97 214.02,21.61 214.08,27.6 214.15,34.83 214.22,43.15 214.28,52.39 214.35,62.35 214.41,72.84 214.48,83.64 214.55,94.53 214.61,105.28 214.68,115.67 214.75,125.49 214.81,134.55 214.88,142.64 214.95,149.62 215.01,155.33 215.08,159.65 215.15,162.51 215.21,163.83 215.28,163.58 215.34,161.72 215.41,158.28 215.48,153.32 215.54,146.97 215.61,139.33 215.68,130.57 215.74,120.87 215.81,110.43 215.88,99.46 215.94,88.19 216.01,76.85 216.08,65.66 216.14,54.87 216.21,44.69 216.28,35.33 216.34,26.98 216.41,19.82 216.47,13.98 216.54,9.6 216.61,6.76 216.67,5.51 216.74,5.92 216.81,8.02 216.87,11.8 216.94,17.15 217.01,23.98 217.07,32.15 217.14,41.49 217.21,51.8 217.27,62.88 217.34,74.5 217.4,86.41 217.47,98.39 217.54,110.17 217.6,121.52 217.67,132.2 217.74,142 217.8,150.72 217.87,158.17 217.94,164.21 218,168.71 218.07,171.57 218.14,172.74 218.2,172.21 218.27,170.02 218.34,166.21 218.4,160.87 218.47,154.1 218.53,146.03 218.6,136.85 218.67,126.72 218.73,115.87 218.8,104.52 218.87,92.89 218.93,81.23 219,69.77 219.07,58.76 219.13,48.41 219.2,38.94 219.27,30.54 219.33,23.38 219.4,17.62 219.46,13.37 219.53,10.71 219.6,9.71 219.66,10.32 219.73,12.45 219.8,16.06 219.86,21.06 219.93,27.36 220,34.83 220.06,43.32 220.13,52.65 220.2,62.62 220.26,73.04 220.33,83.69 220.39,94.36 220.46,104.82 220.53,114.86 220.59,124.27 220.66,132.86 220.73,140.46 220.79,146.9 220.86,152.07 220.93,155.84 220.99,158.14 221.06,158.93 221.13,158.17 221.19,155.84 221.26,152 221.33,146.72 221.39,140.11 221.46,132.3 221.52,123.46 221.59,113.77 221.66,103.43 221.72,92.65 221.79,81.64 221.86,70.64 221.92,59.87 221.99,49.56 222.06,39.91 222.12,31.12 222.19,23.37 222.26,16.82 222.32,11.61 222.39,7.84 222.45,5.59 222.52,4.9 222.59,5.87 222.65,8.52 222.72,12.8 222.79,18.63 222.85,25.88 222.92,34.4 222.99,44.02 223.05,54.55 223.12,65.76 223.19,77.43 223.25,89.32 223.32,101.18 223.39,112.77 223.45,123.86 223.52,134.2 223.58,143.6 223.65,151.87 223.72,158.82 223.78,164.32 223.85,168.25 223.92,170.54 223.98,171.14 224.05,170.08 224.12,167.43 224.18,163.22 224.25,157.55 224.32,150.53 224.38,142.31 224.45,133.06 224.51,122.96 224.58,112.22 224.65,101.07 224.71,89.74 224.78,78.44 224.85,67.42 224.91,56.91 224.98,47.11 225.05,38.23 225.11,30.45 225.18,23.94 225.25,18.82 225.31,15.19 225.38,13.14 225.45,12.71 225.51,13.83 225.58,16.45 225.64,20.53 225.71,25.97 225.78,32.67 225.84,40.49 225.91,49.26 225.98,58.82 226.04,68.95 226.11,79.46 226.18,90.13 226.24,100.74 226.31,111.07 226.38,120.91 226.44,130.05 226.51,138.32 226.57,145.54 226.64,151.57 226.71,156.27 226.77,159.56 226.84,161.36 226.91,161.64 226.97,160.33 227.04,157.46 227.11,153.08 227.17,147.28 227.24,140.18 227.31,131.92 227.37,122.67 227.44,112.63 227.51,102 227.57,90.99 227.64,79.84 227.7,68.77 227.77,58.01 227.84,47.78 227.9,38.29 227.97,29.74 228.04,22.29 228.1,16.11 228.17,11.31 228.24,8.01 228.3,6.25 228.37,6.1 228.44,7.61 228.5,10.78 228.57,15.52 228.63,21.76 228.7,29.35 228.77,38.15 228.83,47.97 228.9,58.61 228.97,69.85 229.03,81.47 229.1,93.23 229.17,104.87 229.23,116.17 229.3,126.9 229.37,136.82 229.43,145.75 229.5,153.49 229.57,159.89 229.63,164.82 229.7,168.17 229.76,169.87 229.83,169.91 229.9,168.33 229.96,165.18 230.03,160.51 230.1,154.43 230.16,147.07 230.23,138.56 230.3,129.09 230.36,118.85 230.43,108.05 230.5,96.91 230.56,85.66 230.63,74.54 230.69,63.76 230.76,53.56 230.83,44.13 230.89,35.68 230.96,28.37 231.03,22.36 231.09,17.77 231.16,14.69 231.23,13.19 231.29,13.28 231.36,14.87 231.43,17.93 231.49,22.38 231.56,28.13 231.62,35.08 231.69,43.07 231.76,51.94 231.82,61.51 231.89,71.59 231.96,81.96 232.02,92.42 232.09,102.75 232.16,112.73 232.22,122.17 232.29,130.86 232.36,138.64 232.42,145.34 232.49,150.82 232.56,154.98 232.62,157.72 232.69,158.99 232.75,158.75 232.82,156.96 232.89,153.64 232.95,148.87 233.02,142.75 233.09,135.39 233.15,126.95 233.22,117.61 233.29,107.55 233.35,96.99 233.42,86.13 233.49,75.2 233.55,64.43 233.62,54.04 233.68,44.23 233.75,35.21 233.82,27.17 233.88,20.27 233.95,14.65 234.02,10.43 234.08,7.69 234.15,6.49 234.22,6.88 234.28,8.91 234.35,12.54 234.42,17.69 234.48,24.26 234.55,32.12 234.62,41.11 234.68,51.03 234.75,61.69 234.81,72.87 234.88,84.34 234.95,95.86 235.01,107.2 235.08,118.12 235.15,128.4 235.21,137.83 235.28,146.22 235.35,153.39 235.41,159.2 235.48,163.52 235.55,166.28 235.61,167.41 235.68,166.9 235.74,164.78 235.81,161.11 235.88,155.95 235.94,149.42 236.01,141.64 236.08,132.78 236.14,123.01 236.21,112.54 236.28,101.59 236.34,90.37 236.41,79.12 236.48,68.06 236.54,57.44 236.61,47.45 236.68,38.31 236.74,30.21 236.81,23.31 236.87,17.75 236.94,13.65 237.01,11.08 237.07,10.12 237.14,10.75 237.21,12.97 237.27,16.71 237.34,21.92 237.41,28.47 237.47,36.23 237.54,45.05 237.61,54.75 237.67,65.12 237.74,75.95 237.8,87.02 237.87,98.11 237.94,108.98 238,119.42 238.07,129.2 238.14,138.13 238.2,146.03 238.27,152.73 238.34,158.09 238.4,162.02 238.47,164.41 238.54,165.23 238.6,164.45 238.67,162.07 238.74,158.13 238.8,152.73 238.87,145.96 238.93,137.97 239,128.93 239.07,119.01 239.13,108.42 239.2,97.38 239.27,86.11 239.33,74.86 239.4,63.83 239.47,53.27 239.53,43.39 239.6,34.4 239.67,26.46 239.73,19.76 239.8,14.43 239.86,10.57 239.93,8.27 240,7.56 240.06,8.51 240.13,11.11 240.2,15.3 240.26,21 240.33,28.1 240.4,36.44 240.46,45.86 240.53,56.17 240.6,67.14 240.66,78.57 240.73,90.2 240.8,101.81 240.86,113.16 240.93,124.01 240.99,134.14 241.06,143.34 241.13,151.43 241.19,158.24 241.26,163.62 241.33,167.47 241.39,169.72 241.46,170.3 241.53,169.28 241.59,166.73 241.66,162.68 241.73,157.22 241.79,150.47 241.86,142.56 241.92,133.66 241.99,123.94 242.06,113.61 242.12,102.89 242.19,91.98 242.26,81.11 242.32,70.51 242.39,60.39 242.46,50.97 242.52,42.42 242.59,34.94 242.66,28.67 242.72,23.74 242.79,20.26 242.86,18.28 242.92,17.86 242.99,18.94 243.05,21.46 243.12,25.37 243.19,30.6 243.25,37.03 243.32,44.54 243.39,52.97 243.45,62.14 243.52,71.87 243.59,81.96 243.65,92.21 243.72,102.39 243.79,112.31 243.85,121.76 243.92,130.54 243.98,138.48 244.05,145.42 244.12,151.2 244.18,155.72 244.25,158.87 244.32,160.6 244.38,160.87 244.45,159.57 244.52,156.72 244.58,152.37 244.65,146.6 244.72,139.54 244.78,131.34 244.85,122.15 244.91,112.18 244.98,101.62 245.05,90.68 245.11,79.6 245.18,68.61 245.25,57.92 245.31,47.75 245.38,38.32 245.45,29.82 245.51,22.43 245.58,16.28 245.65,11.52 245.71,8.23 245.78,6.49 245.85,6.34 245.91,7.83 245.98,10.96 246.04,15.65 246.11,21.81 246.18,29.31 246.24,38 246.31,47.71 246.38,58.22 246.44,69.33 246.51,80.81 246.58,92.43 246.64,103.93 246.71,115.1 246.78,125.7 246.84,135.5 246.91,144.32 246.97,151.97 247.04,158.3 247.11,163.16 247.17,166.47 247.24,168.16 247.31,168.2 247.37,166.63 247.44,163.51 247.51,158.9 247.57,152.89 247.64,145.6 247.71,137.19 247.77,127.82 247.84,117.7 247.91,107.01 247.97,96 248.04,84.88 248.1,73.87 248.17,63.21 248.24,53.12 248.3,43.8 248.37,35.43 248.44,28.21 248.5,22.26 248.57,17.72 248.64,14.68 248.7,13.2 248.77,13.29 248.84,14.94 248.9,18.09 248.97,22.68 249.03,28.62 249.1,35.78 249.17,44.02 249.23,53.17 249.3,63.05 249.37,73.44 249.43,84.14 249.5,94.93 249.57,105.58 249.63,115.88 249.7,125.61 249.77,134.58 249.83,142.61 249.9,149.51 249.97,155.17 250.03,159.46 250.1,162.28 250.16,163.59 250.23,163.34 250.3,161.47 250.36,158.02 250.43,153.04 250.5,146.66 250.56,138.99 250.63,130.19 250.7,120.45 250.76,109.96 250.83,98.95 250.9,87.63 250.96,76.23 251.03,65 251.09,54.16 251.16,43.94 251.23,34.53 251.29,26.15 251.36,18.95 251.43,13.1 251.49,8.69 251.56,5.84 251.63,4.59 251.69,4.98 251.76,7.05 251.83,10.75 251.89,16.01 251.96,22.71 252.03,30.73 252.09,39.89 252.16,50.01 252.22,60.88 252.29,72.28 252.36,83.97 252.42,95.72 252.49,107.28 252.56,118.42 252.62,128.91 252.69,138.52 252.76,147.08 252.82,154.39 252.89,160.31 252.96,164.73 253.02,167.53 253.09,168.68 253.15,168.18 253.22,166.11 253.29,162.51 253.35,157.45 253.42,151.04 253.49,143.4 253.55,134.71 253.62,125.13 253.69,114.86 253.75,104.11 253.82,93.1 253.89,82.06 253.95,71.21 254.02,60.79 254.09,50.99 254.15,42.02 254.22,34.07 254.28,27.3 254.35,21.85 254.42,17.82 254.48,15.31 254.55,14.36 254.62,14.96 254.68,17.04 254.75,20.57 254.82,25.47 254.88,31.64 254.95,38.96 255.02,47.26 255.08,56.39 255.15,66.16 255.21,76.36 255.28,86.79 255.35,97.23 255.41,107.47 255.48,117.3 255.55,126.52 255.61,134.93 255.68,142.37 255.75,148.68 255.81,153.73 255.88,157.42 255.95,159.68 256.01,160.45 256.08,159.68 256.15,157.33 256.21,153.44 256.28,148.09 256.34,141.4 256.41,133.51 256.48,124.57 256.54,114.76 256.61,104.29 256.68,93.38 256.74,82.25 256.81,71.12 256.88,60.22 256.94,49.79 257.01,40.02 257.08,31.12 257.14,23.28 257.21,16.66 257.27,11.39 257.34,7.57 257.41,5.29 257.47,4.6 257.54,5.57 257.61,8.21 257.67,12.49 257.74,18.31 257.81,25.55 257.87,34.06 257.94,43.67 258.01,54.18 258.07,65.38 258.14,77.04 258.21,88.91 258.27,100.75 258.34,112.33 258.4,123.4 258.47,133.73 258.54,143.12 258.6,151.37 258.67,158.31 258.74,163.8 258.8,167.73 258.87,170.02 258.94,170.62 259,169.54 259.07,166.83 259.14,162.54 259.2,156.76 259.27,149.61 259.33,141.23 259.4,131.8 259.47,121.51 259.53,110.57 259.6,99.2 259.67,87.65 259.73,76.14 259.8,64.91 259.87,54.19 259.93,44.2 260,35.15 260.07,27.23 260.13,20.58 260.2,15.36 260.26,11.67 260.33,9.58 260.4,9.14 260.46,10.29 260.53,13 260.6,17.19 260.66,22.8 260.73,29.7 260.8,37.76 260.86,46.8 260.93,56.64 261,67.08 261.06,77.9 261.13,88.89 261.2,99.82 261.26,110.46 261.33,120.6 261.39,130.03 261.46,138.55 261.53,145.98 261.59,152.19 261.66,157.03 261.73,160.42 261.79,162.28 261.86,162.56 261.93,161.25 261.99,158.34 262.06,153.91 262.13,148.05 262.19,140.87 262.26,132.52 262.32,123.17 262.39,113.02 262.46,102.27 262.52,91.15 262.59,79.88 262.66,68.69 262.72,57.81 262.79,47.47 262.86,37.87 262.92,29.22 262.99,21.69 263.06,15.44 263.12,10.59 263.19,7.25 263.26,5.48 263.32,5.32 263.39,6.8 263.45,9.88 263.52,14.51 263.59,20.59 263.65,28 263.72,36.58 263.79,46.15 263.85,56.53 263.92,67.5 263.99,78.83 264.05,90.3 264.12,101.66 264.19,112.68 264.25,123.14 264.32,132.82 264.38,141.53 264.45,149.08 264.52,155.32 264.58,160.12 264.65,163.39 264.72,165.06 264.78,165.09 264.85,163.54 264.92,160.43 264.98,155.85 265.05,149.87 265.12,142.62 265.18,134.26 265.25,124.94 265.32,114.87 265.38,104.25 265.45,93.3 265.51,82.24 265.58,71.29 265.65,60.69 265.71,50.66 265.78,41.39 265.85,33.07 265.91,25.89 265.98,19.97 266.05,15.46 266.11,12.43 266.18,10.96 266.25,11.05 266.31,12.65 266.38,15.72 266.44,20.2 266.51,25.99 266.58,32.97 266.64,41 266.71,49.93 266.78,59.55 266.84,69.68 266.91,80.11 266.98,90.63 267.04,101.01 267.11,111.05 267.18,120.54 267.24,129.28 267.31,137.1 267.38,143.84 267.44,149.35 267.51,153.53 267.57,156.29 267.64,157.57 267.71,157.33 267.77,155.53 267.84,152.22 267.91,147.46 267.97,141.34 268.04,133.99 268.11,125.56 268.17,116.23 268.24,106.19 268.31,95.63 268.37,84.79 268.44,73.87 268.5,63.11 268.57,52.73 268.64,42.93 268.7,33.92 268.77,25.89 268.84,19 268.9,13.38 268.97,9.17 269.04,6.43 269.1,5.23 269.17,5.63 269.24,7.72 269.3,11.44 269.37,16.73 269.44,23.48 269.5,31.55 269.57,40.78 269.63,50.97 269.7,61.91 269.77,73.39 269.83,85.16 269.9,96.99 269.97,108.63 270.03,119.84 270.1,130.4 270.17,140.08 270.23,148.7 270.3,156.06 270.37,162.02 270.43,166.46 270.5,169.29 270.56,170.45 270.63,169.95 270.7,167.88 270.76,164.28 270.83,159.23 270.9,152.82 270.96,145.2 271.03,136.51 271.1,126.94 271.16,116.68 271.23,105.94 271.3,94.95 271.36,83.92 271.43,73.09 271.5,62.67 271.56,52.88 271.63,43.93 271.69,35.98 271.76,29.22 271.83,23.77 271.89,19.75 271.96,17.24 272.03,16.29 272.09,16.88 272.16,18.94 272.23,22.43 272.29,27.27 272.36,33.37 272.43,40.59 272.49,48.8 272.56,57.82 272.62,67.47 272.69,77.55 272.76,87.85 272.82,98.17 272.89,108.28 272.96,117.99 273.02,127.1 273.09,135.41 273.16,142.76 273.22,148.99 273.29,153.98 273.36,157.63 273.42,159.86 273.49,160.63 273.55,159.87 273.62,157.55 273.69,153.73 273.75,148.48 273.82,141.9 273.89,134.14 273.95,125.35 274.02,115.71 274.09,105.43 274.15,94.7 274.22,83.76 274.29,72.82 274.35,62.11 274.42,51.85 274.49,42.25 274.55,33.51 274.62,25.8 274.68,19.29 274.75,14.11 274.82,10.36 274.88,8.12 274.95,7.44 275.02,8.38 275.08,10.95 275.15,15.11 275.22,20.76 275.28,27.8 275.35,36.07 275.42,45.41 275.48,55.62 275.55,66.51 275.61,77.83 275.68,89.37 275.75,100.88 275.81,112.13 275.88,122.89 275.95,132.93 276.01,142.06 276.08,150.08 276.15,156.82 276.21,162.16 276.28,165.98 276.35,168.2 276.41,168.78 276.48,167.75 276.55,165.15 276.61,161.04 276.68,155.5 276.74,148.65 276.81,140.62 276.88,131.58 276.94,121.72 277.01,111.23 277.08,100.34 277.14,89.27 277.21,78.23 277.28,67.47 277.34,57.2 277.41,47.63 277.48,38.96 277.54,31.36 277.61,25 277.67,19.99 277.74,16.45 277.81,14.45 277.87,14.03 277.94,15.17 278.01,17.84 278.07,21.99 278.14,27.53 278.21,34.35 278.27,42.31 278.34,51.25 278.41,60.98 278.47,71.3 278.54,82 278.61,92.86 278.67,103.66 278.74,114.18 278.8,124.2 278.87,133.52 278.94,141.94 279,149.29 279.07,155.43 279.14,160.21 279.2,163.56 279.27,165.4 279.34,165.68 279.4,164.34 279.47,161.39 279.54,156.89 279.6,150.94 279.67,143.65 279.73,135.17 279.8,125.68 279.87,115.38 279.93,104.47 280,93.17 280.07,81.73 280.13,70.37 280.2,59.32 280.27,48.82 280.33,39.08 280.4,30.3 280.47,22.66 280.53,16.31 280.6,11.39 280.67,7.99 280.73,6.2 280.8,6.04 280.86,7.57 280.93,10.77 281,15.57 281.06,21.87 281.13,29.56 281.2,38.46 281.26,48.39 281.33,59.16 281.4,70.54 281.46,82.29 281.53,94.18 281.6,105.97 281.66,117.4 281.73,128.25 281.79,138.29 281.86,147.32 281.93,155.16 281.99,161.63 282.06,166.62 282.13,170.01 282.19,171.73 282.26,171.77 282.33,170.2 282.39,167.07 282.46,162.43 282.53,156.39 282.59,149.07 282.66,140.62 282.73,131.21 282.79,121.04 282.86,110.31 282.92,99.24 282.99,88.07 283.06,77.01 283.12,66.31 283.19,56.17 283.26,46.8 283.32,38.4 283.39,31.14 283.46,25.17 283.52,20.61 283.59,17.55 283.66,16.06 283.72,16.15 283.79,17.77 283.85,20.86 283.92,25.37 283.99,31.2 284.05,38.23 284.12,46.33 284.19,55.31 284.25,65.01 284.32,75.22 284.39,85.72 284.45,96.31 284.52,106.77 284.59,116.89 284.65,126.44 284.72,135.25 284.78,143.13 284.85,149.92 284.92,155.47 284.98,159.68 285.05,162.45 285.12,163.74 285.18,163.49 285.25,161.62 285.32,158.16 285.38,153.18 285.45,146.79 285.52,139.11 285.58,130.3 285.65,120.55 285.72,110.06 285.78,99.03 285.85,87.7 285.91,76.3 285.98,65.05 286.05,54.2 286.11,43.97 286.18,34.56 286.25,26.17 286.31,18.97 286.38,13.1 286.45,8.69 286.51,5.84 286.58,4.58 286.65,4.97 286.71,7 286.78,10.63 286.84,15.79 286.91,22.37 286.98,30.24 287.04,39.23 287.11,49.16 287.18,59.84 287.24,71.02 287.31,82.5 287.38,94.03 287.44,105.38 287.51,116.31 287.58,126.6 287.64,136.04 287.71,144.44 287.78,151.62 287.84,157.43 287.91,161.76 287.97,164.52 288.04,165.64 288.11,165.14 288.17,163.04 288.24,159.39 288.31,154.26 288.37,147.77 288.44,140.04 288.51,131.23 288.57,121.52 288.64,111.12 288.71,100.23 288.77,89.08 288.84,77.9 288.9,66.92 288.97,56.35 289.04,46.43 289.1,37.35 289.17,29.3 289.24,22.44 289.3,16.91 289.37,12.84 289.44,10.29 289.5,9.33 289.57,9.95 289.64,12.11 289.7,15.76 289.77,20.82 289.84,27.21 289.9,34.77 289.97,43.37 290.03,52.81 290.1,62.91 290.17,73.47 290.23,84.26 290.3,95.06 290.37,105.65 290.43,115.82 290.5,125.35 290.57,134.05 290.63,141.75 290.7,148.27 290.77,153.5 290.83,157.32 290.9,159.66 290.96,160.46 291.03,159.71 291.1,157.41 291.16,153.63 291.23,148.43 291.3,141.92 291.36,134.23 291.43,125.53 291.5,115.98 291.56,105.8 291.63,95.17 291.7,84.34 291.76,73.5 291.83,62.9 291.9,52.74 291.96,43.23 292.03,34.58 292.09,26.95 292.16,20.5 292.23,15.36 292.29,11.65 292.36,9.44 292.43,8.76 292.49,9.71 292.56,12.31 292.63,16.52 292.69,22.24 292.76,29.35 292.83,37.72 292.89,47.17 292.96,57.51 293.02,68.52 293.09,79.98 293.16,91.65 293.22,103.29 293.29,114.68 293.36,125.56 293.42,135.72 293.49,144.95 293.56,153.06 293.62,159.89 293.69,165.29 293.76,169.15 293.82,171.4 293.89,171.99 293.96,170.96 294.02,168.36 294.09,164.26 294.15,158.73 294.22,151.88 294.29,143.86 294.35,134.83 294.42,124.98 294.49,114.51 294.55,103.63 294.62,92.57 294.69,81.55 294.75,70.81 294.82,60.55 294.89,50.99 294.95,42.33 295.02,34.74 295.08,28.38 295.15,23.39 295.22,19.85 295.28,17.85 295.35,17.43 295.42,18.48 295.48,20.96 295.55,24.81 295.62,29.95 295.68,36.28 295.75,43.67 295.82,51.96 295.88,60.98 295.95,70.56 296.02,80.48 296.08,90.56 296.15,100.58 296.21,110.34 296.28,119.64 296.35,128.28 296.41,136.09 296.48,142.91 296.55,148.6 296.61,153.04 296.68,156.15 296.75,157.85 296.81,158.11 296.88,156.85 296.95,154.08 297.01,149.84 297.08,144.24 297.14,137.37 297.21,129.39 297.28,120.46 297.34,110.75 297.41,100.48 297.48,89.84 297.54,79.07 297.61,68.37 297.68,57.97 297.74,48.09 297.81,38.92 297.88,30.65 297.94,23.45 298.01,17.48 298.07,12.84 298.14,9.65 298.21,7.95 298.27,7.81 298.34,9.32 298.41,12.47 298.47,17.2 298.54,23.41 298.61,30.97 298.67,39.73 298.74,49.52 298.81,60.12 298.87,71.32 298.94,82.9 299.01,94.61 299.07,106.21 299.14,117.47 299.2,128.15 299.27,138.04 299.34,146.94 299.4,154.65 299.47,161.03 299.54,165.93 299.6,169.27 299.67,170.97 299.74,171.01 299.8,169.46 299.87,166.37 299.94,161.79 300,155.82 300.07,148.6 300.13,140.25 300.2,130.96 300.27,120.91 300.33,110.31 300.4,99.39 300.47,88.35 300.53,77.43 300.6,66.86 300.67,56.85 300.73,47.6 300.8,39.3 300.87,32.13 300.93,26.24 301,21.73 301.07,18.71 301.13,17.24 301.2,17.34 301.26,18.95 301.33,22.04 301.4,26.54 301.46,32.37 301.53,39.4 301.6,47.49 301.66,56.47 301.73,66.16 301.8,76.36 301.86,86.86 301.93,97.44 302,107.9 302.06,118 302.13,127.56 302.19,136.36 302.26,144.23 302.33,151.01 302.39,156.56 302.46,160.77 302.53,163.54 302.59,164.83 302.66,164.58 302.73,162.7 302.79,159.23 302.86,154.23 302.93,147.82 302.99,140.12 303.06,131.29 303.13,121.51 303.19,110.98 303.26,99.92 303.32,88.56 303.39,77.12 303.46,65.84 303.52,54.96 303.59,44.69 303.66,35.26 303.72,26.84 303.79,19.61 303.86,13.73 303.92,9.31 303.99,6.44 304.06,5.19 304.12,5.58 304.19,7.61 304.25,11.24 304.32,16.41 304.39,22.99 304.45,30.87 304.52,39.87 304.59,49.81 304.65,60.49 304.72,71.69 304.79,83.18 304.85,94.72 304.92,106.08 304.99,117.02 305.05,127.32 305.12,136.77 305.19,145.18 305.25,152.36 305.32,158.18 305.38,162.51 305.45,165.27 305.52,166.4 305.58,165.92 305.65,163.91 305.72,160.42 305.78,155.52 305.85,149.31 305.92,141.92 305.98,133.5 306.05,124.22 306.12,114.27 306.18,103.86 306.25,93.2 306.31,82.5 306.38,72 306.45,61.9 306.51,52.41 306.58,43.73 306.65,36.03 306.71,29.47 306.78,24.19 306.85,20.29 306.91,17.85 306.98,16.93 307.05,17.54 307.11,19.64 307.18,23.2 307.25,28.15 307.31,34.38 307.38,41.76 307.44,50.14 307.51,59.36 307.58,69.21 307.64,79.51 307.71,90.04 307.78,100.58 307.84,110.91 307.91,120.83 307.98,130.13 308.04,138.62 308.11,146.13 308.18,152.5 308.24,157.6 308.31,161.32 308.37,163.6 308.44,164.38 308.51,163.61 308.57,161.25 308.64,157.36 308.71,152.02 308.77,145.33 308.84,137.43 308.91,128.49 308.97,118.69 309.04,108.22 309.11,97.31 309.17,86.17 309.24,75.04 309.31,64.14 309.37,53.71 309.44,43.94 309.5,35.04 309.57,27.2 309.64,20.58 309.7,15.3 309.77,11.49 309.84,9.21 309.9,8.52 309.97,9.45 310.04,12 310.1,16.12 310.17,21.73 310.24,28.71 310.3,36.92 310.37,46.18 310.43,56.31 310.5,67.11 310.57,78.34 310.63,89.79 310.7,101.2 310.77,112.36 310.83,123.03 310.9,133 310.97,142.05 311.03,150 311.1,156.69 311.17,161.99 311.23,165.77 311.3,167.98 311.37,168.55 311.43,167.55 311.5,165.02 311.56,161.02 311.63,155.63 311.7,148.96 311.76,141.15 311.83,132.35 311.9,122.75 311.96,112.54 312.03,101.94 312.1,91.16 312.16,80.43 312.23,69.95 312.3,59.96 312.36,50.64 312.43,42.2 312.49,34.81 312.56,28.61 312.63,23.74 312.69,20.3 312.76,18.35 312.83,17.94 312.89,18.99 312.96,21.46 313.03,25.31 313.09,30.44 313.16,36.75 313.23,44.12 313.29,52.39 313.36,61.4 313.42,70.95 313.49,80.86 313.56,90.91 313.62,100.91 313.69,110.65 313.76,119.93 313.82,128.55 313.89,136.34 313.96,143.15 314.02,148.83 314.09,153.26 314.16,156.36 314.22,158.06 314.29,158.32 314.36,157.07 314.42,154.31 314.49,150.1 314.55,144.53 314.62,137.71 314.69,129.77 314.75,120.89 314.82,111.25 314.89,101.04 314.95,90.47 315.02,79.76 315.09,69.13 315.15,58.8 315.22,48.97 315.29,39.86 315.35,31.64 315.42,24.49 315.48,18.55 315.55,13.94 315.62,10.77 315.68,9.08 315.75,8.94 315.82,10.45 315.88,13.59 315.95,18.31 316.02,24.51 316.08,32.07 316.15,40.82 316.22,50.59 316.28,61.17 316.35,72.36 316.42,83.91 316.48,95.61 316.55,107.19 316.61,118.43 316.68,129.1 316.75,138.98 316.81,147.85 316.88,155.56 316.95,161.92 317.01,166.82 317.08,170.15 317.15,171.85 317.21,171.88 317.28,170.28 317.35,167.07 317.41,162.33 317.48,156.15 317.54,148.65 317.61,140.01 317.68,130.38 317.74,119.96 317.81,108.98 317.88,97.66 317.94,86.22 318.01,74.91 318.08,63.95 318.14,53.57 318.21,43.99 318.28,35.39 318.34,27.96 318.41,21.85 318.48,17.18 318.54,14.05 318.61,12.53 318.67,12.62 318.74,14.2 318.81,17.24 318.87,21.67 318.94,27.39 319.01,34.3 319.07,42.25 319.14,51.08 319.21,60.6 319.27,70.63 319.34,80.95 319.41,91.35 319.47,101.63 319.54,111.56 319.6,120.95 319.67,129.6 319.74,137.34 319.8,144 319.87,149.46 319.94,153.59 320,156.32 320.07,157.58 320.14,157.35 320.2,155.58 320.27,152.3 320.34,147.6 320.4,141.55 320.47,134.28 320.54,125.96 320.6,116.73 320.67,106.8 320.73,96.37 320.8,85.65 320.87,74.86 320.93,64.23 321,53.96 321.07,44.28 321.13,35.38 321.2,27.44 321.27,20.63 321.33,15.08 321.4,10.91 321.47,8.21 321.53,7.02 321.6,7.42 321.66,9.48 321.73,13.16 321.8,18.4 321.86,25.08 321.93,33.06 322,42.19 322.06,52.27 322.13,63.1 322.2,74.46 322.26,86.1 322.33,97.81 322.4,109.32 322.46,120.42 322.53,130.86 322.6,140.44 322.66,148.96 322.73,156.25 322.79,162.15 322.86,166.54 322.93,169.34 322.99,170.49 323.06,169.97 323.13,167.85 323.19,164.16 323.26,158.98 323.33,152.42 323.39,144.61 323.46,135.71 323.53,125.9 323.59,115.38 323.66,104.38 323.72,93.11 323.79,81.81 323.86,70.71 323.92,60.04 323.99,50.01 324.06,40.83 324.12,32.69 324.19,25.76 324.26,20.18 324.32,16.06 324.39,13.48 324.46,12.51 324.52,13.11 324.59,15.18 324.66,18.68 324.72,23.55 324.79,29.67 324.85,36.93 324.92,45.18 324.99,54.25 325.05,63.95 325.12,74.08 325.19,84.43 325.25,94.8 325.32,104.97 325.39,114.73 325.45,123.88 325.52,132.23 325.59,139.61 325.65,145.88 325.72,150.9 325.78,154.57 325.85,156.81 325.92,157.57 325.98,156.82 326.05,154.53 326.12,150.74 326.18,145.53 326.25,139.02 326.32,131.33 326.38,122.61 326.45,113.06 326.52,102.87 326.58,92.24 326.65,81.39 326.71,70.55 326.78,59.94 326.85,49.77 326.91,40.26 326.98,31.59 327.05,23.96 327.11,17.5 327.18,12.37 327.25,8.65 327.31,6.43 327.38,5.76 327.45,6.72 327.51,9.37 327.58,13.64 327.65,19.45 327.71,26.68 327.78,35.18 327.84,44.78 327.91,55.28 327.98,66.46 328.04,78.11 328.11,89.96 328.18,101.79 328.24,113.36 328.31,124.41 328.38,134.73 328.44,144.11 328.51,152.35 328.58,159.29 328.64,164.77 328.71,168.7 328.77,170.98 328.84,171.58 328.91,170.5 328.97,167.79 329.04,163.49 329.11,157.71 329.17,150.55 329.24,142.16 329.31,132.72 329.37,122.42 329.44,111.47 329.51,100.1 329.57,88.53 329.64,77.01 329.71,65.77 329.77,55.04 329.84,45.05 329.9,35.99 329.97,28.05 330.04,21.41 330.1,16.18 330.17,12.48 330.24,10.39 330.3,9.95 330.37,11.13 330.44,13.88 330.5,18.16 330.57,23.87 330.64,30.91 330.7,39.11 330.77,48.32 330.83,58.35 330.9,68.99 330.97,80.02 331.03,91.22 331.1,102.36 331.17,113.2 331.23,123.53 331.3,133.14 331.37,141.82 331.43,149.4 331.5,155.72 331.57,160.66 331.63,164.11 331.7,166 331.77,166.29 331.83,164.95 331.9,161.98 331.96,157.46 332.03,151.47 332.1,144.14 332.16,135.62 332.23,126.07 332.3,115.71 332.36,104.74 332.43,93.38 332.5,81.87 332.56,70.45 332.63,59.34 332.7,48.78 332.76,38.99 332.83,30.16 332.89,22.47 332.96,16.09 333.03,11.14 333.09,7.73 333.16,5.92 333.23,5.76 333.29,7.24 333.36,10.34 333.43,15 333.49,21.11 333.56,28.56 333.63,37.19 333.69,46.83 333.76,57.26 333.83,68.3 333.89,79.69 333.96,91.22 334.02,102.65 334.09,113.73 334.16,124.25 334.22,133.99 334.29,142.75 334.36,150.34 334.42,156.62 334.49,161.45 334.56,164.74 334.62,166.41 334.69,166.45 334.76,164.87 334.82,161.73 334.89,157.08 334.95,151.02 335.02,143.68 335.09,135.2 335.15,125.77 335.22,115.56 335.29,104.8 335.35,93.7 335.42,82.5 335.49,71.41 335.55,60.67 335.62,50.5 335.69,41.1 335.75,32.68 335.82,25.4 335.89,19.41 335.95,14.83 336.02,11.77 336.08,10.27 336.15,10.38 336.22,12.09 336.28,15.36 336.35,20.14 336.42,26.32 336.48,33.77 336.55,42.34 336.62,51.86 336.68,62.13 336.75,72.94 336.82,84.07 336.88,95.29 336.95,106.37 337.01,117.08 337.08,127.21 337.15,136.54 337.21,144.88 337.28,152.07 337.35,157.95 337.41,162.41 337.48,165.35 337.55,166.71 337.61,166.47 337.68,164.61 337.75,161.17 337.81,156.22 337.88,149.87 337.94,142.25 338.01,133.5 338.08,123.82 338.14,113.39 338.21,102.44 338.28,91.18 338.34,79.85 338.41,68.68 338.48,57.9 338.54,47.74 338.61,38.39 338.68,30.05 338.74,22.9 338.81,17.07 338.88,12.69 338.94,9.86 339.01,8.61 339.07,8.99 339.14,11 339.21,14.58 339.27,19.67 339.34,26.16 339.41,33.92 339.47,42.8 339.54,52.6 339.61,63.13 339.67,74.17 339.74,85.49 339.81,96.87 339.87,108.06 339.94,118.85 340,129 340.07,138.32 340.14,146.6 340.2,153.68 340.27,159.42 340.34,163.69 340.4,166.41 340.47,167.53 340.54,167.01 340.6,164.9 340.67,161.22 340.74,156.05 340.8,149.51 340.87,141.71 340.94,132.84 341,123.05 341.07,112.57 341.13,101.59 341.2,90.35 341.27,79.08 341.33,68.01 341.4,57.37 341.47,47.36 341.53,38.21 341.6,30.09 341.67,23.18 341.73,17.61 341.8,13.5 341.87,10.93 341.93,9.96 342,10.59 342.06,12.79 342.13,16.5 342.2,21.65 342.26,28.13 342.33,35.82 342.4,44.55 342.46,54.15 342.53,64.42 342.6,75.14 342.66,86.1 342.73,97.08 342.8,107.84 342.86,118.17 342.93,127.86 343,136.7 343.06,144.52 343.13,151.15 343.19,156.47 343.26,160.35 343.33,162.72 343.39,163.53 343.46,162.76 343.53,160.42 343.59,156.55 343.66,151.24 343.73,144.58 343.79,136.73 343.86,127.83 343.93,118.08 343.99,107.67 344.06,96.81 344.12,85.74 344.19,74.66 344.26,63.83 344.32,53.44 344.39,43.73 344.46,34.88 344.52,27.08 344.59,20.49 344.66,15.25 344.72,11.45 344.79,9.19 344.86,8.5 344.92,9.41 344.99,11.9 345.06,15.94 345.12,21.43 345.19,28.25 345.25,36.28 345.32,45.35 345.39,55.26 345.45,65.82 345.52,76.81 345.59,88.01 345.65,99.18 345.72,110.1 345.79,120.54 345.85,130.29 345.92,139.14 345.99,146.92 346.05,153.47 346.12,158.65 346.18,162.36 346.25,164.52 346.32,165.08 346.38,164.08 346.45,161.57 346.52,157.59 346.58,152.23 346.65,145.6 346.72,137.84 346.78,129.09 346.85,119.55 346.92,109.41 346.98,98.87 347.05,88.16 347.12,77.48 347.18,67.07 347.25,57.14 347.31,47.88 347.38,39.49 347.45,32.14 347.51,25.98 347.58,21.14 347.65,17.72 347.71,15.78 347.78,15.37 347.85,16.5 347.91,19.15 347.98,23.26 348.05,28.74 348.11,35.49 348.18,43.37 348.24,52.22 348.31,61.85 348.38,72.06 348.44,82.66 348.51,93.41 348.58,104.1 348.64,114.51 348.71,124.43 348.78,133.65 348.84,141.99 348.91,149.27 348.98,155.34 349.04,160.08 349.11,163.39 349.18,165.21 349.24,165.49 349.31,164.16 349.37,161.22 349.44,156.75 349.51,150.83 349.57,143.58 349.64,135.14 349.71,125.71 349.77,115.46 349.84,104.6 349.91,93.37 349.97,81.98 350.04,70.68 350.11,59.7 350.17,49.26 350.24,39.57 350.3,30.83 350.37,23.23 350.44,16.92 350.5,12.02 350.57,8.65 350.64,6.86 350.7,6.7 350.77,8.2 350.84,11.34 350.9,16.05 350.97,22.24 351.04,29.78 351.1,38.52 351.17,48.27 351.24,58.84 351.3,70.01 351.37,81.54 351.43,93.22 351.5,104.78 351.57,116 351.63,126.65 351.7,136.51 351.77,145.38 351.83,153.06 351.9,159.42 351.97,164.31 352.03,167.64 352.1,169.33 352.17,169.37 352.23,167.84 352.3,164.77 352.36,160.25 352.43,154.34 352.5,147.19 352.56,138.93 352.63,129.73 352.7,119.79 352.76,109.3 352.83,98.49 352.9,87.57 352.96,76.76 353.03,66.3 353.1,56.39 353.16,47.23 353.23,39.02 353.29,31.93 353.36,26.09 353.43,21.63 353.49,18.65 353.56,17.19 353.63,17.28 353.69,18.83 353.76,21.81 353.83,26.14 353.89,31.75 353.96,38.52 354.03,46.31 354.09,54.96 354.16,64.29 354.23,74.11 354.29,84.22 354.36,94.41 354.42,104.48 354.49,114.21 354.56,123.41 354.62,131.88 354.69,139.46 354.76,145.99 354.82,151.34 354.89,155.39 354.96,158.06 355.02,159.3 355.09,159.05 355.16,157.25 355.22,153.91 355.29,149.11 355.35,142.94 355.42,135.54 355.49,127.04 355.55,117.64 355.62,107.52 355.69,96.88 355.75,85.95 355.82,74.95 355.89,64.11 355.95,53.64 356.02,43.77 356.09,34.7 356.15,26.6 356.22,19.66 356.29,14 356.35,9.75 356.42,6.99 356.48,5.79 356.55,6.18 356.62,8.26 356.68,11.96 356.75,17.23 356.82,23.95 356.88,31.99 356.95,41.17 357.02,51.31 357.08,62.21 357.15,73.63 357.22,85.35 357.28,97.13 357.35,108.72 357.41,119.88 357.48,130.39 357.55,140.03 357.61,148.6 357.68,155.93 357.75,161.87 357.81,166.29 357.88,169.1 357.95,170.25 358.01,169.75 358.08,167.66 358.15,164.02 358.21,158.92 358.28,152.45 358.35,144.75 358.41,135.97 358.48,126.3 358.54,115.94 358.61,105.09 358.68,93.98 358.74,82.85 358.81,71.9 358.88,61.38 358.94,51.49 359.01,42.45 359.08,34.42 359.14,27.59 359.21,22.09 359.28,18.03 359.34,15.49 359.41,14.53 359.47,15.14 359.54,17.25 359.61,20.82 359.67,25.78 359.74,32.02 359.81,39.42 359.87,47.82 359.94,57.06 360.01,66.95 360.07,77.27 360.14,87.82 360.21,98.39 360.27,108.75 360.34,118.69 360.41,128.01 360.47,136.53 360.54,144.05 360.6,150.44 360.67,155.55 360.74,159.29 360.8,161.57 360.87,162.35 360.94,161.58 361,159.22 361.07,155.31 361.14,149.95 361.2,143.24 361.27,135.32 361.34,126.35 361.4,116.51 361.47,106.02 361.53,95.07 361.6,83.9 361.67,72.73 361.73,61.8 361.8,51.33 361.87,41.54 361.93,32.61 362,24.75 362.07,18.1 362.13,12.81 362.2,8.99 362.27,6.7 362.33,6.01 362.4,6.98 362.47,9.63 362.53,13.92 362.6,19.75 362.66,27.01 362.73,35.55 362.8,45.18 362.86,55.72 362.93,66.95 363,78.64 363.06,90.54 363.13,102.42 363.2,114.03 363.26,125.13 363.33,135.49 363.4,144.9 363.46,153.18 363.53,160.14 363.59,165.65 363.66,169.59 363.73,171.88 363.79,172.48 363.86,171.41 363.93,168.71 363.99,164.45 364.06,158.7 364.13,151.59 364.19,143.26 364.26,133.88 364.33,123.65 364.39,112.77 364.46,101.47 364.52,89.98 364.59,78.54 364.66,67.37 364.72,56.72 364.79,46.79 364.86,37.79 364.92,29.91 364.99,23.31 365.06,18.11 365.12,14.44 365.19,12.37 365.26,11.92 365.32,13.07 365.39,15.74 365.46,19.89 365.52,25.44 365.59,32.27 365.65,40.24 365.72,49.18 365.79,58.92 365.85,69.25 365.92,79.96 365.99,90.83 366.05,101.64 366.12,112.17 366.19,122.2 366.25,131.52 366.32,139.95 366.39,147.31 366.45,153.45 366.52,158.24 366.58,161.59 366.65,163.42 366.72,163.71 366.78,162.41 366.85,159.55 366.92,155.18 366.98,149.4 367.05,142.31 367.12,134.08 367.18,124.87 367.25,114.86 367.32,104.26 367.38,93.29 367.45,82.17 367.52,71.14 367.58,60.41 367.65,50.21 367.71,40.75 367.78,32.22 367.85,24.8 367.91,18.63 367.98,13.85 368.05,10.56 368.11,8.81 368.18,8.65 368.25,10.13 368.31,13.2 368.38,17.82 368.45,23.88 368.51,31.27 368.58,39.83 368.64,49.38 368.71,59.74 368.78,70.68 368.84,81.98 368.91,93.42 368.98,104.75 369.04,115.74 369.11,126.18 369.18,135.83 369.24,144.52 369.31,152.05 369.38,158.28 369.44,163.07 369.51,166.33 369.58,167.99 369.64,168.02 369.71,166.42 369.77,163.23 369.84,158.52 369.91,152.38 369.97,144.94 370.04,136.34 370.11,126.78 370.17,116.43 370.24,105.52 370.31,94.27 370.37,82.91 370.44,71.67 370.51,60.78 370.57,50.47 370.64,40.95 370.7,32.41 370.77,25.03 370.84,18.96 370.9,14.32 370.97,11.21 371.04,9.7 371.1,9.79 371.17,11.42 371.24,14.55 371.3,19.11 371.37,25.01 371.44,32.13 371.5,40.32 371.57,49.41 371.64,59.22 371.7,69.54 371.77,80.17 371.83,90.89 371.9,101.47 371.97,111.7 372.03,121.38 372.1,130.29 372.17,138.26 372.23,145.12 372.3,150.74 372.37,155 372.43,157.81 372.5,159.11 372.57,158.87 372.63,157.05 372.7,153.7 372.76,148.88 372.83,142.68 372.9,135.24 372.96,126.71 373.03,117.26 373.1,107.08 373.16,96.4 373.23,85.41 373.3,74.36 373.36,63.46 373.43,52.95 373.5,43.03 373.56,33.91 373.63,25.77 373.7,18.79 373.76,13.11 373.83,8.84 373.89,6.07 373.96,4.85 374.03,5.24 374.09,7.28 374.16,10.91 374.23,16.08 374.29,22.67 374.36,30.55 374.43,39.56 374.49,49.5 374.56,60.19 374.63,71.4 374.69,82.89 374.76,94.44 374.82,105.8 374.89,116.75 374.96,127.06 375.02,136.51 375.09,144.92 375.16,152.11 375.22,157.93 375.29,162.27 375.36,165.03 375.42,166.16 375.49,165.65 375.56,163.56 375.62,159.91 375.69,154.8 375.76,148.32 375.82,140.61 375.89,131.82 375.95,122.14 376.02,111.76 376.09,100.9 376.15,89.78 376.22,78.62 376.29,67.66 376.35,57.13 376.42,47.23 376.49,38.17 376.55,30.13 376.62,23.29 376.69,17.78 376.75,13.71 376.82,11.17 376.88,10.21 376.95,10.83 377.02,12.97 377.08,16.6 377.15,21.64 377.22,27.98 377.28,35.5 377.35,44.04 377.42,53.43 377.48,63.47 377.55,73.96 377.62,84.69 377.68,95.42 377.75,105.95 377.81,116.06 377.88,125.53 377.95,134.18 378.01,141.83 378.08,148.32 378.15,153.51 378.21,157.31 378.28,159.63 378.35,160.42 378.41,159.66 378.48,157.33 378.55,153.48 378.61,148.19 378.68,141.57 378.75,133.75 378.81,124.9 378.88,115.2 378.94,104.84 379.01,94.04 379.08,83.02 379.14,72 379.21,61.22 379.28,50.89 379.34,41.22 379.41,32.42 379.48,24.66 379.54,18.1 379.61,12.88 379.68,9.11 379.74,6.85 379.81,6.17 379.87,7.11 379.94,9.7 380.01,13.89 380.07,19.58 380.14,26.66 380.21,34.98 380.27,44.38 380.34,54.67 380.41,65.62 380.47,77.02 380.54,88.63 380.61,100.22 380.67,111.54 380.74,122.37 380.81,132.48 380.87,141.66 380.94,149.73 381,156.52 381.07,161.9 381.14,165.74 381.2,167.98 381.27,168.56 381.34,167.54 381.4,164.98 381.47,160.92 381.54,155.44 381.6,148.67 381.67,140.74 381.74,131.81 381.8,122.07 381.87,111.71 381.93,100.95 382,90.01 382.07,79.12 382.13,68.49 382.2,58.34 382.27,48.89 382.33,40.32 382.4,32.82 382.47,26.53 382.53,21.59 382.6,18.09 382.67,16.11 382.73,15.69 382.8,16.81 382.87,19.41 382.93,23.46 383,28.87 383.06,35.53 383.13,43.3 383.2,52.02 383.26,61.51 383.33,71.58 383.4,82.03 383.46,92.63 383.53,103.17 383.6,113.43 383.66,123.21 383.73,132.3 383.8,140.52 383.86,147.7 383.93,153.68 383.99,158.36 384.06,161.62 384.13,163.41 384.19,163.69 384.26,162.38 384.33,159.5 384.39,155.11 384.46,149.29 384.53,142.17 384.59,133.89 384.66,124.62 384.73,114.55 384.79,103.89 384.86,92.85 384.93,81.67 384.99,70.57 385.06,59.78 385.12,49.52 385.19,40.01 385.26,31.43 385.32,23.96 385.39,17.76 385.46,12.95 385.52,9.64 385.59,7.88 385.66,7.72 385.72,9.2 385.79,12.29 385.86,16.93 385.92,23.01 385.99,30.43 386.05,39.02 386.12,48.62 386.19,59.01 386.25,70 386.32,81.35 386.39,92.83 386.45,104.2 386.52,115.24 386.59,125.72 386.65,135.41 386.72,144.13 386.79,151.69 386.85,157.94 386.92,162.76 386.99,166.03 387.05,167.7 387.12,167.73 387.18,166.2 387.25,163.14 387.32,158.62 387.38,152.72 387.45,145.58 387.52,137.33 387.58,128.15 387.65,118.22 387.72,107.75 387.78,96.95 387.85,86.05 387.92,75.26 387.98,64.81 388.05,54.91 388.11,45.77 388.18,37.58 388.25,30.49 388.31,24.67 388.38,20.21 388.45,17.23 388.51,15.78 388.58,15.87 388.65,17.47 388.71,20.54 388.78,25.02 388.85,30.81 388.91,37.79 388.98,45.83 389.05,54.75 389.11,64.38 389.18,74.51 389.24,84.94 389.31,95.46 389.38,105.84 389.44,115.88 389.51,125.37 389.58,134.12 389.64,141.94 389.71,148.68 389.78,154.19 389.84,158.37 389.91,161.13 389.98,162.41 390.04,162.16 390.11,160.31 390.17,156.89 390.24,151.97 390.31,145.65 390.37,138.06 390.44,129.36 390.51,119.73 390.57,109.36 390.64,98.46 390.71,87.26 390.77,75.99 390.84,64.89 390.91,54.16 390.97,44.05 391.04,34.75 391.11,26.46 391.17,19.34 391.24,13.55 391.3,9.19 391.37,6.37 391.44,5.13 391.5,5.53 391.57,7.6 391.64,11.3 391.7,16.56 391.77,23.27 391.84,31.29 391.9,40.46 391.97,50.58 392.04,61.46 392.1,72.87 392.17,84.57 392.23,96.33 392.3,107.9 392.37,119.04 392.43,129.53 392.5,139.16 392.57,147.72 392.63,155.03 392.7,160.96 392.77,165.38 392.83,168.19 392.9,169.34 392.97,168.83 393.03,166.72 393.1,163.05 393.16,157.9 393.23,151.37 393.3,143.6 393.36,134.74 393.43,124.98 393.5,114.52 393.56,103.58 393.63,92.37 393.7,81.13 393.76,70.09 393.83,59.47 393.9,49.49 393.96,40.36 394.03,32.27 394.1,25.37 394.16,19.82 394.23,15.72 394.29,13.16 394.36,12.19 394.43,12.81 394.49,14.98 394.56,18.64 394.63,23.72 394.69,30.12 394.76,37.71 394.83,46.33 394.89,55.8 394.96,65.93 395.03,76.52 395.09,87.34 395.16,98.17 395.22,108.79 395.29,118.99 395.36,128.55 395.42,137.28 395.49,144.99 395.56,151.54 395.62,156.78 395.69,160.61 395.76,162.96 395.82,163.76 395.89,162.99 395.96,160.63 396.02,156.74 396.09,151.39 396.16,144.7 396.22,136.8 396.29,127.85 396.35,118.04 396.42,107.56 396.49,96.65 396.55,85.5 396.62,74.37 396.69,63.47 396.75,53.02 396.82,43.25 396.89,34.35 396.95,26.5 397.02,19.88 397.09,14.6 397.15,10.78 397.22,8.5 397.28,7.81 397.35,8.73 397.42,11.27 397.48,15.37 397.55,20.95 397.62,27.88 397.68,36.04 397.75,45.25 397.82,55.32 397.88,66.06 397.95,77.22 398.02,88.6 398.08,99.95 398.15,111.05 398.22,121.65 398.28,131.56 398.35,140.55 398.41,148.46 398.48,155.11 398.55,160.38 398.61,164.14 398.68,166.34 398.75,166.91 398.81,165.88 398.88,163.31 398.95,159.23 399.01,153.74 399.08,146.94 399.15,138.97 399.21,130.01 399.28,120.22 399.34,109.82 399.41,99.02 399.48,88.03 399.54,77.09 399.61,66.41 399.68,56.22 399.74,46.73 399.81,38.12 399.88,30.59 399.94,24.27 400.01,19.31 400.08,15.8 400.14,13.81 400.21,13.39 400.28,14.51 400.34,17.12 400.41,21.17 400.47,26.58 400.54,33.24 400.61,41.01 400.67,49.74 400.74,59.24 400.81,69.31 400.87,79.76 400.94,90.37 401.01,100.92 401.07,111.19 401.14,120.97 401.21,130.07 401.27,138.29 401.34,145.47 401.4,151.46 401.47,156.13 401.54,159.4 401.6,161.19 401.67,161.47 401.74,160.17 401.8,157.3 401.87,152.91 401.94,147.11 402,140.01 402.07,131.76 402.14,122.51 402.2,112.47 402.27,101.85 402.34,90.84 402.4,79.7 402.47,68.63 402.53,57.87 402.6,47.64 402.67,38.16 402.73,29.6 402.8,22.16 402.87,15.97 402.93,11.18 403,7.87 403.07,6.12 403.13,5.97 403.2,7.44 403.27,10.51 403.33,15.12 403.4,21.18 403.46,28.56 403.53,37.1 403.6,46.65 403.66,56.99 403.73,67.91 403.8,79.2 403.86,90.63 403.93,101.94 404,112.92 404.06,123.34 404.13,132.99 404.2,141.66 404.26,149.19 404.33,155.41 404.39,160.19 404.46,163.45 404.53,165.11 404.59,165.14 404.66,163.57 404.73,160.44 404.79,155.81 404.86,149.78 404.93,142.47 404.99,134.03 405.06,124.64 405.13,114.48 405.19,103.76 405.26,92.71 405.33,81.55 405.39,70.51 405.46,59.82 405.52,49.7 405.59,40.34 405.66,31.96 405.72,24.71 405.79,18.74 405.86,14.19 405.92,11.13 405.99,9.65 406.06,9.76 406.12,11.47 406.19,14.76 406.26,19.56 406.32,25.77 406.39,33.25 406.45,41.87 406.52,51.43 406.59,61.75 406.65,72.61 406.72,83.8 406.79,95.07 406.85,106.2 406.92,116.96 406.99,127.14 407.05,136.51 407.12,144.89 407.19,152.12 407.25,158.03 407.32,162.5 407.39,165.46 407.45,166.83 407.52,166.58 407.58,164.71 407.65,161.26 407.72,156.29 407.78,149.9 407.85,142.23 407.92,133.44 407.98,123.71 408.05,113.22 408.12,102.21 408.18,90.89 408.25,79.5 408.32,68.28 408.38,57.44 408.45,47.22 408.51,37.82 408.58,29.44 408.65,22.25 408.71,16.39 408.78,11.99 408.85,9.14 408.91,7.89 408.98,8.27 409.05,10.3 409.11,13.92 409.18,19.06 409.25,25.62 409.31,33.47 409.38,42.43 409.45,52.34 409.51,62.98 409.58,74.13 409.64,85.58 409.71,97.08 409.78,108.39 409.84,119.29 409.91,129.55 409.98,138.97 410.04,147.34 410.11,154.49 410.18,160.29 410.24,164.61 410.31,167.36 410.38,168.48 410.44,167.99 410.51,165.93 410.57,162.37 410.64,157.36 410.71,151.01 410.77,143.45 410.84,134.84 410.91,125.35 410.97,115.18 411.04,104.54 411.11,93.64 411.17,82.71 411.24,71.97 411.31,61.65 411.37,51.94 411.44,43.07 411.51,35.19 411.57,28.49 411.64,23.09 411.7,19.1 411.77,16.61 411.84,15.67 411.9,16.27 411.97,18.32 412.04,21.8 412.1,26.63 412.17,32.71 412.24,39.92 412.3,48.11 412.37,57.11 412.44,66.74 412.5,76.8 412.57,87.08 412.63,97.37 412.7,107.46 412.77,117.15 412.83,126.23 412.9,134.53 412.97,141.86 413.03,148.08 413.1,153.06 413.17,156.7 413.23,158.93 413.3,159.69 413.37,158.94 413.43,156.64 413.5,152.85 413.57,147.63 413.63,141.11 413.7,133.41 413.76,124.69 413.83,115.13 413.9,104.92 413.96,94.28 414.03,83.42 414.1,72.57 414.16,61.94 414.23,51.76 414.3,42.24 414.36,33.57 414.43,25.92 414.5,19.46 414.56,14.32 414.63,10.6 414.69,8.38 414.76,7.7 414.83,8.66 414.89,11.29 414.96,15.54 415.03,21.31 415.09,28.5 415.16,36.96 415.23,46.5 415.29,56.94 415.36,68.07 415.43,79.64 415.49,91.43 415.56,103.2 415.63,114.69 415.69,125.69 415.76,135.95 415.82,145.28 415.89,153.47 415.96,160.37 416.02,165.82 416.09,169.72 416.16,172 416.22,172.59 416.29,171.55 416.36,168.93 416.42,164.8 416.49,159.22 416.56,152.32 416.62,144.23 416.69,135.13 416.75,125.2 416.82,114.65 416.89,103.68 416.95,92.53 417.02,81.42 417.09,70.59 417.15,60.24 417.22,50.61 417.29,41.88 417.35,34.23 417.42,27.82 417.49,22.78 417.55,19.22 417.62,17.2 417.69,16.77 417.75,17.86 417.82,20.41 417.88,24.38 417.95,29.67 418.02,36.18 418.08,43.78 418.15,52.31 418.22,61.6 418.28,71.46 418.35,81.68 418.42,92.05 418.48,102.36 418.55,112.4 418.62,121.97 418.68,130.87 418.75,138.91 418.81,145.93 418.88,151.78 418.95,156.36 419.01,159.55 419.08,161.3 419.15,161.57 419.21,160.3 419.28,157.48 419.35,153.18 419.41,147.49 419.48,140.53 419.55,132.43 419.61,123.36 419.68,113.52 419.74,103.09 419.81,92.3 419.88,81.37 419.94,70.51 420.01,59.96 420.08,49.93 420.14,40.63 420.21,32.24 420.28,24.93 420.34,18.87 420.41,14.17 420.48,10.93 420.54,9.21 420.61,9.06 420.68,10.57 420.74,13.71 420.81,18.44 420.87,24.65 420.94,32.21 421.01,40.97 421.07,50.75 421.14,61.35 421.21,72.55 421.27,84.12 421.34,95.82 421.41,107.42 421.47,118.67 421.54,129.35 421.61,139.24 421.67,148.13 421.74,155.84 421.8,162.21 421.87,167.12 421.94,170.45 422,172.15 422.07,172.18 422.14,170.54 422.2,167.27 422.27,162.44 422.34,156.14 422.4,148.5 422.47,139.68 422.54,129.87 422.6,119.26 422.67,108.06 422.74,96.52 422.8,84.86 422.87,73.33 422.93,62.16 423,51.58 423.07,41.81 423.13,33.05 423.2,25.47 423.27,19.24 423.33,14.48 423.4,11.29 423.47,9.74 423.53,9.83 423.6,11.48 423.67,14.65 423.73,19.27 423.8,25.24 423.86,32.45 423.93,40.74 424,49.95 424.06,59.88 424.13,70.34 424.2,81.1 424.26,91.95 424.33,102.66 424.4,113.02 424.46,122.82 424.53,131.84 424.6,139.91 424.66,146.86 424.73,152.55 424.8,156.86 424.86,159.7 424.93,161.02 424.99,160.78 425.06,158.97 425.13,155.61 425.19,150.78 425.26,144.57 425.33,137.13 425.39,128.58 425.46,119.12 425.53,108.94 425.59,98.24 425.66,87.24 425.73,76.18 425.79,65.27 425.86,54.74 425.92,44.81 425.99,35.68 426.06,27.53 426.12,20.54 426.19,14.85 426.26,10.58 426.32,7.8 426.39,6.59 426.46,6.98 426.52,9 426.59,12.62 426.66,17.76 426.72,24.33 426.79,32.17 426.86,41.13 426.92,51.04 426.99,61.68 427.05,72.83 427.12,84.27 427.19,95.77 427.25,107.08 427.32,117.98 427.39,128.24 427.45,137.65 427.52,146.02 427.59,153.18 427.65,158.97 427.72,163.29 427.79,166.04 427.85,167.17 427.92,166.67 427.98,164.63 428.05,161.08 428.12,156.1 428.18,149.78 428.25,142.27 428.32,374.43 428.38,374.48 428.45,374.58 428.52,374.74 428.58,374.95 428.65,375.21 428.72,375.53 428.78,375.9 428.85,376.32 428.92,376.79 428.98,377.31 429.05,377.88 429.11,378.49 429.18,379.14 429.25,379.84 429.31,380.57 429.38,381.34 429.45,382.14 429.51,382.97 429.58,383.83 429.65,384.72 429.71,385.62 429.78,386.55 429.85,387.5 429.91,388.46 429.98,389.43 430.04,390.41 430.11,391.39 430.18,392.37 430.24,393.35 430.31,394.33 430.38,395.3 430.44,396.26 430.51,397.2 430.58,398.13 430.64,399.03 430.71,399.91 430.78,400.77 430.84,401.6 430.91,402.4 430.97,403.16 431.04,403.89 431.11,404.57 431.17,405.22 431.24,405.83 431.31,406.39 431.37,406.9 431.44,407.36 431.51,407.78 431.57,408.14 431.64,408.45 431.71,408.71 431.77,408.92 431.84,409.07 431.91,409.16 431.97,409.2 432.04,409.05 432.1,408.45 432.17,407.4 432.24,405.91 432.3,403.98 432.37,401.64 432.44,398.9 432.5,395.79 432.57,392.35 432.64,388.59 432.7,384.55 432.77,380.28 432.84,375.8 432.9,371.15 432.97,366.38 433.03,361.53 433.1,356.64 433.17,351.76 433.23,346.93 433.3,342.19 433.37,337.59 433.43,333.16 433.5,328.94 433.57,324.98 433.63,321.3 433.7,317.94 433.77,314.93 433.83,312.3 433.9,310.06 433.97,308.25 434.03,306.87 434.1,305.94 434.16,305.47 434.23,305.45 434.3,305.9 434.36,306.8 434.43,308.15 434.5,309.93 434.56,312.14 434.63,314.75 434.7,317.73 434.76,321.07 434.83,324.73 434.9,328.67 434.96,332.87 435.03,337.29 435.09,341.89 435.16,346.62 435.23,351.45 435.29,356.32 435.36,361.21 435.43,366.07 435.49,370.84 435.56,375.5 435.63,379.99 435.69,384.28 435.76,388.33 435.83,392.11 435.89,395.58 435.96,398.71 436.03,401.47 436.09,403.84 436.16,405.79 436.22,407.32 436.29,408.4 436.36,409.03 436.42,409.2 436.49,408.9 436.56,408.15 436.62,406.95 436.69,405.31 436.76,403.24 436.82,400.77 436.89,397.9 436.96,394.68 437.02,391.13 437.09,387.27 437.15,383.15 437.22,378.8 437.29,374.26 437.35,369.57 437.42,364.77 437.49,359.9 437.55,355.02 437.62,350.15 437.69,345.34 437.75,340.64 437.82,336.09 437.89,331.72 437.95,327.59 438.02,323.72 438.09,320.14 438.15,316.9 438.22,314.01 438.28,311.51 438.35,309.41 438.42,307.74 438.48,306.51 438.55,305.73 438.62,305.41 438.68,305.55 438.75,306.15 438.82,307.2 438.88,308.69 438.95,310.62 439.02,312.96 439.08,315.7 439.15,318.81 439.21,322.25 439.28,326.01 439.35,330.05 439.41,334.32 439.48,338.8 439.55,343.45 439.61,348.22 439.68,353.07 439.75,357.96 439.81,362.84 439.88,367.67 439.95,372.41 440.01,377.01 440.08,381.44 440.15,385.66 440.21,389.62 440.28,393.3 440.34,396.66 440.41,399.67 440.48,402.3 440.54,404.54 440.61,406.35 440.68,407.73 440.74,408.66 440.81,409.13 440.88,409.15 440.94,408.7 441.01,407.8 441.08,406.45 441.14,404.67 441.21,402.46 441.27,399.85 441.34,396.87 441.41,393.53 441.47,389.87 441.54,385.93 441.61,381.73 441.67,377.31 441.74,372.71 441.81,367.98 441.87,363.15 441.94,358.28 442.01,353.39 442.07,348.53 442.14,343.76 442.21,339.1 442.27,334.61 442.34,330.32 442.4,326.27 442.47,322.49 442.54,319.02 442.6,315.89 442.67,313.13 442.74,310.76 442.8,308.81 442.87,307.28 442.94,306.2 443,305.57 443.07,305.4 443.14,305.7 443.2,306.45 443.27,307.65 443.33,309.29 443.4,311.36 443.47,313.83 443.53,316.7 443.6,319.92 443.67,323.47 443.73,327.33 443.8,331.45 443.87,335.8 443.93,340.34 444,345.03 444.07,349.83 444.13,354.7 444.2,359.58 444.26,364.45 444.33,369.26 444.4,373.96 444.46,378.51 444.53,382.88 444.6,387.01 444.66,390.88 444.73,394.46 444.8,397.7 444.86,400.59 444.93,403.09 445,405.19 445.06,406.86 445.13,408.09 445.2,408.87 445.26,409.19 445.33,409.05 445.39,408.45 445.46,407.4 445.53,405.91 445.59,403.98 445.66,401.64 445.73,398.9 445.79,395.79 445.86,392.35 445.93,388.59 445.99,384.55 446.06,380.28 446.13,375.8 446.19,371.15 446.26,366.38 446.32,361.53 446.39,356.6 446.46,351.36 446.52,346.17 446.59,341.08 446.66,336.14 446.72,331.39 446.79,326.86 446.86,322.61 446.92,318.66 446.99,315.05 447.06,311.82 447.12,309 447.19,306.6 447.26,304.65 447.32,303.17 447.39,302.18 447.45,301.67 447.52,301.65 447.59,302.13 447.65,303.09 447.72,304.54 447.79,306.46 447.85,308.83 447.92,311.63 447.99,314.83 448.05,318.41 448.12,322.34 448.19,326.57 448.25,331.08 448.32,335.82 448.38,340.76 448.45,345.84 448.52,351.02 448.58,356.25 448.65,361.21 448.72,366.07 448.78,370.84 448.85,375.5 448.92,379.99 448.98,384.28 449.05,388.33 449.12,392.11 449.18,395.58 449.25,398.71 449.32,401.47 449.38,403.84 449.45,405.79 449.51,407.32 449.58,408.4 449.65,409.03 449.71,409.2 449.78,408.9 449.85,408.15 449.91,406.95 449.98,405.31 450.05,403.24 450.11,400.77 450.18,397.9 450.25,394.68 450.31,391.13 450.38,387.27 450.44,383.15 450.51,378.8 450.58,374.26 450.64,369.57 450.71,364.77 450.78,359.9 450.84,355.02 450.91,350.15 450.98,345.34 451.04,340.64 451.11,336.09 451.18,331.72 451.24,327.59 451.31,323.72 451.38,320.14 451.44,316.9 451.51,314.01 451.57,311.51 451.64,309.41 451.71,307.74 451.77,306.51 451.84,305.73 451.91,305.41 451.97,305.55 452.04,306.15 452.11,307.2 452.17,308.69 452.24,310.62 452.31,312.96 452.37,315.7 452.44,318.81 452.5,322.25 452.57,326.01 452.64,330.05 452.7,334.32 452.77,338.8 452.84,343.45 452.9,348.22 452.97,353.07 453.04,357.96 453.1,362.84 453.17,367.67 453.24,372.41 453.3,377.01 453.37,381.44 453.44,385.66 453.5,389.62 453.57,393.3 453.63,396.66 453.7,399.67 453.77,402.3 453.83,404.54 453.9,406.35 453.97,407.73 454.03,408.66 454.1,409.13 454.17,409.15 454.23,408.7 454.3,407.8 454.37,406.45 454.43,404.67 454.5,402.46 454.56,399.85 454.63,396.87 454.7,393.53 454.76,389.87 454.83,385.93 454.9,381.73 454.96,377.31 455.03,372.71 455.1,367.98 455.16,363.15 455.23,358.28 455.3,353.39 455.36,348.53 455.43,343.75 455.5,339.09 455.56,334.6 455.63,330.3 455.69,326.25 455.76,322.47 455.83,319 455.89,315.87 455.96,313.11 456.03,310.74 456.09,308.78 456.16,307.25 456.23,306.17 456.29,305.54 456.36,305.38 456.43,305.67 456.49,306.42 456.56,307.62 456.62,309.26 456.69,311.33 456.76,313.81 456.82,316.67 456.89,319.9 456.96,323.45 457.02,327.31 457.09,331.43 457.16,335.78 457.22,340.33 457.29,345.02 457.36,349.82 457.42,354.69 457.49,359.58 457.55,364.45 457.62,369.26 457.69,373.96 457.75,378.51 457.82,382.88 457.89,387.01 457.95,390.88 458.02,394.46 458.09,397.7 458.15,400.59 458.22,403.09 458.29,405.19 458.35,406.86 458.42,408.09 458.49,408.87 458.55,409.19 458.62,409.05 458.68,408.45 458.75,407.4 458.82,405.91 458.88,403.98 458.95,401.64 459.02,398.9 459.08,395.79 459.15,392.35 459.22,388.59 459.28,384.55 459.35,380.28 459.42,375.8 459.48,371.15 459.55,366.38 459.61,361.53 459.68,356.59 459.75,351.32 459.81,346.11 459.88,340.99 459.95,336.02 460.01,331.23 460.08,326.68 460.15,322.4 460.21,318.43 460.28,314.8 460.35,311.56 460.41,308.71 460.48,306.3 460.55,304.34 460.61,302.85 460.68,301.85 460.74,301.34 460.81,301.32 460.88,301.8 460.94,302.77 461.01,304.23 461.08,306.16 461.14,308.54 461.21,311.36 461.28,314.58 461.34,318.18 461.41,322.13 461.48,326.39 461.54,330.93 461.61,335.7 461.67,340.66 461.74,345.77 461.81,350.98 461.87,356.25 461.94,361.21 462.01,366.07 462.07,370.84 462.14,375.5 462.21,379.99 462.27,384.28 462.34,388.33 462.41,392.11 462.47,395.58 462.54,398.71 462.61,401.47 462.67,403.84 462.74,405.79 462.8,407.32 462.87,408.4 462.94,409.03 463,409.2 463.07,408.9 463.14,408.15 463.2,406.95 463.27,405.31 463.34,403.24 463.4,400.77 463.47,397.9 463.54,394.68 463.6,391.13 463.67,387.27 463.73,383.15 463.8,378.8 463.87,374.26 463.93,369.57 464,364.77 464.07,359.9 464.13,355.02 464.2,350.15 464.27,345.34 464.33,340.64 464.4,336.09 464.47,331.72 464.53,327.59 464.6,323.72 464.67,320.14 464.73,316.9 464.8,314.01 464.86,311.51 464.93,309.41 465,307.74 465.06,306.51 465.13,305.73 465.2,305.41 465.26,305.55 465.33,306.15 465.4,307.2 465.46,308.69 465.53,310.62 465.6,312.96 465.66,315.7 465.73,318.81 465.79,322.25 465.86,326.01 465.93,330.05 465.99,334.32 466.06,338.8 466.13,343.45 466.19,348.22 466.26,353.07 466.33,357.96 466.39,362.84 466.46,367.67 466.53,372.41 466.59,377.01 466.66,381.44 466.73,385.66 466.79,389.62 466.86,393.3 466.92,396.66 466.99,399.67 467.06,402.3 467.12,404.54 467.19,406.35 467.26,407.73 467.32,408.66 467.39,409.13 467.46,409.15 467.52,408.7 467.59,407.8 467.66,406.45 467.72,404.67 467.79,402.46 467.85,399.85 467.92,396.87 467.99,393.53 468.05,389.87 468.12,385.93 468.19,381.73 468.25,377.31 468.32,372.71 468.39,367.98 468.45,363.15 468.52,358.28 468.59,353.35 468.65,348.44 468.72,343.61 468.79,338.91 468.85,334.36 468.92,330.03 468.98,325.93 469.05,322.11 469.12,318.61 469.18,315.44 469.25,312.65 469.32,310.26 469.38,308.28 469.45,306.74 469.52,305.65 469.58,305.01 469.65,304.84 469.72,305.14 469.78,305.89 469.85,307.11 469.91,308.77 469.98,310.86 470.05,313.36 470.11,316.26 470.18,319.51 470.25,323.1 470.31,327 470.38,331.17 470.45,335.56 470.51,340.15 470.58,344.9 470.65,349.75 470.71,354.67 470.78,359.58 470.84,364.45 470.91,369.26 470.98,373.96 471.04,378.51 471.11,382.88 471.18,387.01 471.24,390.88 471.31,394.46 471.38,397.7 471.44,400.59 471.51,403.09 471.58,405.19 471.64,406.86 471.71,408.09 471.78,408.87 471.84,409.19 471.91,409.05 471.97,408.45 472.04,407.4 472.11,405.91 472.17,403.98 472.24,401.64 472.31,398.9 472.37,395.79 472.44,392.35 472.51,388.59 472.57,384.55 472.64,380.28 472.71,375.8 472.77,371.15 472.84,366.38 472.9,361.53 472.97,356.63 473.04,351.63 473.1,346.69 473.17,341.84 473.24,337.13 473.3,332.59 473.37,328.28 473.44,324.22 473.5,320.46 473.57,317.02 473.64,313.94 473.7,311.25 473.77,308.96 473.84,307.11 473.9,305.7 473.97,304.74 474.03,304.26 474.1,304.24 474.17,304.7 474.23,305.62 474.3,307 474.37,308.83 474.43,311.09 474.5,313.75 474.57,316.81 474.63,320.22 474.7,323.97 474.77,328 474.83,332.3 474.9,336.82 474.96,341.53 475.03,346.37 475.1,351.31 475.16,356.3 475.23,361.21 475.3,366.07 475.36,370.84 475.43,375.5 475.5,379.99 475.56,384.28 475.63,388.33 475.7,392.11 475.76,395.58 475.83,398.71 475.9,401.47 475.96,403.84 476.03,405.79 476.09,407.32 476.16,408.4 476.23,409.03 476.29,409.2 476.36,408.9 476.43,408.15 476.49,406.95 476.56,405.31 476.63,403.24 476.69,400.77 476.76,397.9 476.83,394.68 476.89,391.13 476.96,387.27 477.02,383.15 477.09,378.8 477.16,374.26 477.22,369.57 477.29,364.77 477.36,359.9 477.42,355.02 477.49,350.15 477.56,345.34 477.62,340.64 477.69,336.09 477.76,331.72 477.82,327.59 477.89,323.72 477.96,320.14 478.02,316.9 478.09,314.01 478.15,311.51 478.22,309.41 478.29,307.74 478.35,306.51 478.42,305.73 478.49,305.41 478.55,305.55 478.62,306.15 478.69,307.2 478.75,308.69 478.82,310.62 478.89,312.96 478.95,315.7 479.02,318.81 479.08,322.25 479.15,326.01 479.22,330.05 479.28,334.32 479.35,338.8 479.42,343.45 479.48,348.22 479.55,353.07 479.62,357.96 479.68,362.84 479.75,367.67 479.82,372.41 479.88,377.01 479.95,381.44 480.02,385.66 480.08,389.62 480.15,393.3 480.21,396.66 480.28,399.67 480.35,402.3 480.41,404.54 480.48,406.35 480.55,407.73 480.61,408.66 480.68,409.13 480.75,409.15 480.81,408.7 480.88,407.8 480.95,406.45 481.01,404.67 481.08,402.46 481.14,399.85 481.21,396.87 481.28,393.53 481.34,389.87 481.41,385.93 481.48,381.73 481.54,377.31 481.61,372.71 481.68,367.98 481.74,363.15 481.81,358.28 481.88,353.39 481.94,348.53 482.01,343.76 482.08,339.1 482.14,334.61 482.21,330.32 482.27,326.27 482.34,322.49 482.41,319.02 482.47,315.89 482.54,313.13 482.61,310.76 482.67,308.81 482.74,307.28 482.81,306.2 482.87,305.57 482.94,305.4 483.01,305.7 483.07,306.45 483.14,307.65 483.2,309.29 483.27,311.36 483.34,313.83 483.4,316.7 483.47,319.92 483.54,323.47 483.6,327.33 483.67,331.45 483.74,335.8 483.8,340.34 483.87,345.03 483.94,349.83 484,354.7 484.07,359.58 484.14,364.45 484.2,369.26 484.27,373.96 484.33,378.51 484.4,382.88 484.47,387.01 484.53,390.88 484.6,394.46 484.67,397.7 484.73,400.59 484.8,403.09 484.87,405.19 484.93,406.86 485,408.09 485.07,408.87 485.13,409.19 485.2,409.05 485.26,408.45 485.33,407.4 485.4,405.91 485.46,403.98 485.53,401.64 485.6,398.9 485.66,395.79 485.73,392.35 485.8,388.59 485.86,384.55 485.93,380.28 486,375.8 486.06,371.15 486.13,366.38 486.19,361.53 486.26,356.62 486.33,351.54 486.39,346.51 486.46,341.58 486.53,336.78 486.59,332.17 486.66,327.79 486.73,323.66 486.79,319.83 486.86,316.34 486.93,313.21 486.99,310.47 487.06,308.14 487.13,306.25 487.19,304.82 487.26,303.85 487.32,303.36 487.39,303.34 487.46,303.8 487.52,304.74 487.59,306.15 487.66,308 487.72,310.3 487.79,313.01 487.86,316.12 487.92,319.59 487.99,323.4 488.06,327.51 488.12,331.88 488.19,336.48 488.25,341.26 488.32,346.18 488.39,351.21 488.45,356.29 488.52,361.21 488.59,366.07 488.65,370.84 488.72,375.5 488.79,379.99 488.85,384.28 488.92,388.33 488.99,392.11 489.05,395.58 489.12,398.71 489.19,401.47 489.25,403.84 489.32,405.79 489.38,407.32 489.45,408.4 489.52,409.03 489.58,409.2 489.65,408.9 489.72,408.15 489.78,406.95 489.85,405.31 489.92,403.24 489.98,400.77 490.05,397.9 490.12,394.68 490.18,391.13 490.25,387.27 490.31,383.15 490.38,378.8 490.45,374.26 490.51,369.57 490.58,364.77 490.65,359.9 490.71,355.02 490.78,350.15 490.85,345.34 490.91,340.64 490.98,336.09 491.05,331.72 491.11,327.59 491.18,323.72 491.25,320.14 491.31,316.9 491.38,314.01 491.44,311.51 491.51,309.41 491.58,307.74 491.64,306.51 491.71,305.73 491.78,305.41 491.84,305.55 491.91,306.15 491.98,307.2 492.04,308.69 492.11,310.62 492.18,312.96 492.24,315.7 492.31,318.81 492.37,322.25 492.44,326.01 492.51,330.05 492.57,334.32 492.64,338.8 492.71,343.45 492.77,348.22 492.84,353.07 492.91,357.96 492.97,362.84 493.04,367.67 493.11,372.41 493.17,377.01 493.24,381.44 493.31,385.66 493.37,389.62 493.44,393.3 493.5,396.66 493.57,399.67 493.64,402.3 493.7,404.54 493.77,406.35 493.84,407.73 493.9,408.66 493.97,409.13 494.04,409.15 494.1,408.7 494.17,407.8 494.24,406.45 494.3,404.67 494.37,402.46 494.43,399.85 494.5,396.87 494.57,393.53 494.63,389.87 494.7,385.93 494.77,381.73 494.83,377.31 494.9,372.71 494.97,367.98 495.03,363.15 495.1,358.28 495.17,353.21 495.23,348.14 495.3,343.15 495.37,338.29 495.43,333.59 495.5,329.1 495.56,324.87 495.63,320.92 495.7,317.3 495.76,314.03 495.83,311.14 495.9,308.67 495.96,306.62 496.03,305.03 496.1,303.9 496.16,303.24 496.23,303.07 496.3,303.37 496.36,304.16 496.43,305.41 496.49,307.13 496.56,309.29 496.63,311.88 496.69,314.87 496.76,318.24 496.83,321.95 496.89,325.98 496.96,330.28 497.03,334.83 497.09,339.57 497.16,344.48 497.23,349.49 497.29,354.58 497.36,359.58 497.42,364.45 497.49,369.26 497.56,373.96 497.62,378.51 497.69,382.88 497.76,387.01 497.82,390.88 497.89,394.46 497.96,397.7 498.02,400.59 498.09,403.09 498.16,405.19 498.22,406.86 498.29,408.09 498.36,408.87 498.42,409.19 498.49,409.05 498.55,408.45 498.62,407.4 498.69,405.91 498.75,403.98 498.82,401.64 498.89,398.9 498.95,395.79 499.02,392.35 499.09,388.59 499.15,384.55 499.22,380.28 499.29,375.8 499.35,371.15 499.42,366.38 499.48,361.53 499.55,356.64 499.62,351.76 499.68,346.93 499.75,342.19 499.82,337.59 499.88,333.16 499.95,328.94 500.02,324.98 500.08,321.3 500.15,317.94 500.22,314.93 500.28,312.3 500.35,310.06 500.42,308.25 500.48,306.87 500.55,305.94 500.61,305.47 500.68,305.45 500.75,305.9 500.81,306.8 500.88,308.15 500.95,309.93 501.01,312.14 501.08,314.75 501.15,317.73 501.21,321.07 501.28,324.73 501.35,328.67 501.41,332.87 501.48,337.29 501.54,341.89 501.61,346.62 501.68,351.45 501.74,356.32 501.81,361.21 501.88,366.07 501.94,370.84 502.01,375.5 502.08,379.99 502.14,384.28 502.21,388.33 502.28,392.11 502.34,395.58 502.41,398.71 502.48,401.47 502.54,403.84 502.61,405.79 502.67,407.32 502.74,408.4 502.81,409.03 502.87,409.2 502.94,408.9 503.01,408.15 503.07,406.95 503.14,405.31 503.21,403.24 503.27,400.77 503.34,397.9 503.41,394.68 503.47,391.13 503.54,387.27 503.6,383.15 503.67,378.8 503.74,374.26 503.8,369.57 503.87,364.77 503.94,359.9 504,355.02 504.07,350.15 504.14,345.34 504.2,340.64 504.27,336.09 504.34,331.72 504.4,327.59 504.47,323.72 504.54,320.14 504.6,316.9 504.67,314.01 504.73,311.51 504.8,309.41 504.87,307.74 504.93,306.51 505,305.73 505.07,305.41 505.13,305.55 505.2,306.15 505.27,307.2 505.33,308.69 505.4,310.62 505.47,312.96 505.53,315.7 505.6,318.81 505.66,322.25 505.73,326.01 505.8,330.05 505.86,334.32 505.93,338.8 506,343.45 506.06,348.22 506.13,353.07 506.2,357.96 506.26,362.84 506.33,367.67 506.4,372.41 506.46,377.01 506.53,381.44 506.6,385.66 506.66,389.62 506.73,393.3 506.79,396.66 506.86,399.67 506.93,402.3 506.99,404.54 507.06,406.35 507.13,407.73 507.19,408.66 507.26,409.13 507.33,409.15 507.39,408.7 507.46,407.8 507.53,406.45 507.59,404.67 507.66,402.46 507.72,399.85 507.79,396.87 507.86,393.53 507.92,389.87 507.99,385.93 508.06,381.73 508.12,377.31 508.19,372.71 508.26,367.98 508.32,363.15 508.39,358.28 508.46,353.39 508.52,348.53" stroke="#000" stroke-width="2.0"/>
<polyline points="65.5,85.21 65.72,85.85 65.94,86.48 66.16,87.12 66.39,87.76 66.61,88.39 66.83,89.03 67.05,89.66 67.27,90.3 67.49,90.94 67.72,91.57 67.94,92.21 68.16,92.85 68.38,93.48 68.6,94.12 68.82,94.75 69.04,95.39 69.27,96.03 69.49,96.66 69.71,95.31 69.93,91.7 70.15,88.1 70.37,84.49 70.59,80.89 70.82,81.42 71.04,82.06 71.26,82.69 71.48,83.33 71.7,83.96 71.92,84.6 72.14,85.24 72.37,85.87 72.59,86.51 72.81,87.15 73.03,87.78 73.25,88.42 73.47,89.05 73.7,89.69 73.92,90.33 74.14,90.96 74.36,91.6 74.58,92.24 74.8,92.87 75.02,93.51 75.25,94.14 75.47,94.78 75.69,95.42 75.91,96.05 76.13,96.69 76.35,95.16 76.58,91.56 76.8,87.95 77.02,84.35 77.24,80.81 77.46,81.45 77.68,82.08 77.9,82.72 78.13,83.35 78.35,83.99 78.57,84.63 78.79,85.26 79.01,85.9 79.23,86.54 79.45,87.17 79.68,87.81 79.9,88.44 80.12,89.08 80.34,89.72 80.56,90.35 80.78,90.99 81,91.62 81.23,92.26 81.45,92.9 81.67,93.53 81.89,94.17 82.11,94.81 82.33,95.44 82.56,96.08 82.78,96.71 83,95.02 83.22,91.41 83.44,87.81 83.66,84.2 83.88,80.84 84.11,81.47 84.33,82.11 84.55,82.74 84.77,83.38 84.99,84.02 85.21,84.65 85.44,85.29 85.66,85.93 85.88,86.56 86.1,87.2 86.32,87.83 86.54,88.47 86.76,89.11 86.99,89.74 87.21,90.38 87.43,91.01 87.65,91.65 87.87,92.29 88.09,92.92 88.31,93.56 88.54,94.2 88.76,94.83 88.98,95.47 89.2,96.1 89.42,96.74 89.64,94.87 89.87,91.26 90.09,87.66 90.31,84.05 90.53,80.86 90.75,81.5 90.97,82.13 91.19,82.77 91.42,83.41 91.64,84.04 91.86,84.68 92.08,85.31 92.3,85.95 92.52,86.59 92.74,87.22 92.97,87.86 93.19,88.5 93.41,89.13 93.63,89.77 93.85,90.4 94.07,91.04 94.3,91.68 94.52,92.31 94.74,92.95 94.96,93.58 95.18,94.22 95.4,94.86 95.62,95.49 95.85,96.13 96.07,96.77 96.29,94.72 96.51,91.12 96.73,87.51 96.95,83.91 97.17,80.89 97.4,81.52 97.62,82.16 97.84,82.8 98.06,83.43 98.28,84.07 98.5,84.7 98.72,85.34 98.95,85.98 99.17,86.61 99.39,87.25 99.61,87.89 99.83,88.52 100.05,89.16 100.28,89.79 100.5,90.43 100.72,91.07 100.94,91.7 101.16,92.34 101.38,92.97 101.6,93.61 101.83,94.25 102.05,94.88 102.27,95.52 102.49,96.16 102.71,96.79 102.93,94.58 103.16,90.97 103.38,87.37 103.6,83.76 103.82,80.91 104.04,81.55 104.26,82.19 104.48,82.82 104.71,83.46 104.93,84.09 105.15,84.73 105.37,85.37 105.59,86 105.81,86.64 106.03,87.28 106.26,87.91 106.48,88.55 106.7,89.18 106.92,89.82 107.14,90.46 107.36,91.09 107.59,91.73 107.81,92.36 108.03,93 108.25,93.64 108.47,94.27 108.69,94.91 108.91,95.55 109.14,96.18 109.36,96.82 109.58,94.43 109.8,90.83 110.02,87.22 110.24,83.62 110.46,80.94 110.69,81.58 110.91,82.21 111.13,82.85 111.35,83.48 111.57,84.12 111.79,84.76 112.02,85.39 112.24,86.03 112.46,86.66 112.68,87.3 112.9,87.94 113.12,88.57 113.34,89.21 113.57,89.85 113.79,90.48 114.01,91.12 114.23,91.75 114.45,92.39 114.67,93.03 114.89,93.66 115.12,94.3 115.34,94.93 115.56,95.57 115.78,96.21 116,96.84 116.22,94.28 116.44,90.68 116.67,87.07 116.89,83.47 117.11,80.97 117.33,81.6 117.55,82.24 117.77,82.87 118,83.51 118.22,84.15 118.44,84.78 118.66,85.42 118.88,86.05 119.1,86.69 119.32,87.33 119.55,87.96 119.77,88.6 119.99,89.24 120.21,89.87 120.43,90.51 120.65,91.14 120.88,91.78 121.1,92.42 121.32,93.05 121.54,93.69 121.76,94.32 121.98,94.96 122.2,95.6 122.43,96.23 122.65,96.87 122.87,94.14 123.09,90.53 123.31,86.93 123.53,83.32 123.75,80.99 123.98,81.63 124.2,82.26 124.42,82.9 124.64,83.54 124.86,84.17 125.08,84.81 125.31,85.44 125.53,86.08 125.75,86.72 125.97,87.35 126.19,87.99 126.41,88.62 126.63,89.26 126.86,89.9 127.08,90.53 127.3,91.17 127.52,91.81 127.74,92.44 127.96,93.08 128.18,93.71 128.41,94.35 128.63,94.99 128.85,95.62 129.07,96.26 129.29,96.89 129.51,93.99 129.74,90.39 129.96,86.78 130.18,83.18 130.4,81.02 130.62,81.65 130.84,82.29 131.06,82.93 131.29,83.56 131.51,84.2 131.73,84.83 131.95,85.47 132.17,86.11 132.39,86.74 132.61,87.38 132.84,88.01 133.06,88.65 133.28,89.29 133.5,89.92 133.72,90.56 133.94,91.2 134.16,91.83 134.39,92.47 134.61,93.1 134.83,93.74 135.05,94.38 135.27,95.01 135.49,95.65 135.72,96.28 135.94,96.92 136.16,93.84 136.38,90.24 136.6,86.63 136.82,83.03 137.04,81.04 137.27,81.68 137.49,82.31 137.71,82.95 137.93,83.59 138.15,84.22 138.37,84.86 138.59,85.5 138.82,86.13 139.04,86.77 139.26,87.4 139.48,88.04 139.7,88.68 139.92,89.31 140.15,89.95 140.37,90.59 140.59,91.22 140.81,91.86 141.03,92.49 141.25,93.13 141.47,93.77 141.7,94.4 141.92,95.04 142.14,95.67 142.36,96.31 142.58,96.95 142.8,93.7 143.02,90.09 143.25,86.49 143.47,82.88 143.69,81.07 143.91,81.7 144.13,82.34 144.35,82.98 144.58,83.61 144.8,84.25 145.02,84.89 145.24,85.52 145.46,86.16 145.68,86.79 145.9,87.43 146.13,88.07 146.35,88.7 146.57,89.34 146.79,89.97 147.01,90.61 147.23,91.25 147.45,91.88 147.68,92.52 147.9,93.16 148.12,93.79 148.34,94.43 148.56,95.06 148.78,95.7 149.01,96.34 149.23,96.97 149.45,93.55 149.67,89.95 149.89,86.34 150.11,82.74 150.33,81.09 150.56,81.73 150.78,82.37 151,83 151.22,83.64 151.44,84.28 151.66,84.91 151.88,85.55 152.11,86.18 152.33,86.82 152.55,87.46 152.77,88.09 152.99,88.73 153.21,89.36 153.44,90 153.66,90.64 153.88,91.27 154.1,91.91 154.32,92.55 154.54,93.18 154.76,93.82 154.99,94.45 155.21,95.09 155.43,95.73 155.65,96.36 155.87,97 156.09,93.4 156.31,89.8 156.54,86.2 156.76,82.59 156.98,81.12 157.2,81.76 157.42,82.39 157.64,83.03 157.87,83.66 158.09,84.3 158.31,84.94 158.53,85.57 158.75,86.21 158.97,86.85 159.19,87.48 159.42,88.12 159.64,88.75 159.86,89.39 160.08,90.03 160.3,90.66 160.52,91.3 160.75,91.93 160.97,92.57 161.19,93.21 161.41,93.84 161.63,94.48 161.85,95.12 162.07,95.75 162.3,96.39 162.52,96.86 162.74,93.26 162.96,89.65 163.18,86.05 163.4,82.44 163.62,81.15 163.85,81.78 164.07,82.42 164.29,83.05 164.51,83.69 164.73,84.33 164.95,84.96 165.18,85.6 165.4,86.24 165.62,86.87 165.84,87.51 166.06,88.14 166.28,88.78 166.5,89.42 166.73,90.05 166.95,90.69 167.17,91.32 167.39,91.96 167.61,92.6 167.83,93.23 168.05,93.87 168.28,94.51 168.5,95.14 168.72,95.78 168.94,96.41 169.16,96.72 169.38,93.11 169.61,89.51 169.83,85.9 170.05,82.3 170.27,81.17 170.49,81.81 170.71,82.44 170.93,83.08 171.16,83.72 171.38,84.35 171.6,84.99 171.82,85.63 172.04,86.26 172.26,86.9 172.48,87.53 172.71,88.17 172.93,88.81 173.15,89.44 173.37,90.08 173.59,90.71 173.81,91.35 174.03,91.99 174.26,92.62 174.48,93.26 174.7,93.9 174.92,94.53 175.14,95.17 175.36,95.8 175.59,96.44 175.81,96.57 176.03,92.97 176.25,89.36 176.47,85.76 176.69,82.15 176.91,81.2 177.14,81.83 177.36,82.47 177.58,83.11 177.8,83.74 178.02,84.38 178.24,85.01 178.47,85.65 178.69,86.29 178.91,86.92 179.13,87.56 179.35,88.2 179.57,88.83 179.79,89.47 180.02,90.1 180.24,90.74 180.46,91.38 180.68,92.01 180.9,92.65 181.12,93.28 181.34,93.92 181.57,94.56 181.79,95.19 182.01,95.83 182.23,96.47 182.45,96.42 182.67,92.82 182.89,89.21 183.12,85.61 183.34,82 183.56,81.22 183.78,81.86 184,82.5 184.22,83.13 184.45,83.77 184.67,84.4 184.89,85.04 185.11,85.68 185.33,86.31 185.55,86.95 185.77,87.59 186,88.22 186.22,88.86 186.44,89.49 186.66,90.13 186.88,90.77 187.1,91.4 187.32,92.04 187.55,92.67 187.77,93.31 187.99,93.95 188.21,94.58 188.43,95.22 188.65,95.86 188.88,96.49 189.1,96.28 189.32,92.67 189.54,89.07 189.76,85.46 189.98,81.86 190.2,81.25 190.43,81.89 190.65,82.52 190.87,83.16 191.09,83.79 191.31,84.43 191.53,85.07 191.75,85.7 191.98,86.34 192.2,86.97 192.42,87.61 192.64,88.25 192.86,88.88 193.08,89.52 193.31,90.16 193.53,90.79 193.75,91.43 193.97,92.06 194.19,92.7 194.41,93.34 194.63,93.97 194.86,94.61 195.08,95.24 195.3,95.88 195.52,96.52 195.74,96.13 195.96,92.53 196.19,88.92 196.41,85.32 196.63,81.71 196.85,81.28 197.07,81.91 197.29,82.55 197.51,83.18 197.74,83.82 197.96,84.46 198.18,85.09 198.4,85.73 198.62,86.36 198.84,87 199.06,87.64 199.29,88.27 199.51,88.91 199.73,89.55 199.95,90.18 200.17,90.82 200.39,91.45 200.62,92.09 200.84,92.73 201.06,93.36 201.28,94 201.5,94.63 201.72,95.27 201.94,95.91 202.17,96.54 202.39,95.98 202.61,50.88 202.83,81.7 203.05,113.38" stroke="#e3151a" stroke-width="1.6"/>
<path d="M202.17 96.54L202.61 50.88M202.61 50.88L203.05 113.38M203.05 113.38L203.49 152.31M203.49 152.31L203.94 134.38M203.94 134.38L204.38 73.98M204.38 73.98L204.82 22.18M204.82 22.18L205.27 23.75M205.27 23.75L205.71 82.5M205.71 82.5L206.15 149.64M206.15 149.64L206.6 168.41M206.6 168.41L207.04 124.09M207.04 124.09L207.48 54.7M207.48 54.7L207.92 18.93M207.92 18.93L208.37 45.23M208.37 45.23L208.81 109.07M208.81 109.07L209.25 156.46M209.25 156.46L209.7 146.52M209.7 146.52L210.14 85.12M210.14 85.12L210.58 23.94M210.58 23.94L211.03 14.77M211.03 14.77L211.47 65.73M211.47 65.73L211.91 133.84M211.91 133.84L212.35 161.49M212.35 161.49L212.8 127.19M212.8 127.19L213.24 61.41M213.24 61.41L213.68 19.79M213.68 19.79L214.13 37.08M214.13 37.08L214.57 97.73M214.57 97.73L215.01 150.41M215.01 150.41L215.46 150.05M215.46 150.05L215.9 94.06M215.9 94.06L216.34 29.27M216.34 29.27L216.78 10.57M216.78 10.57L217.23 56.32M217.23 56.32L217.67 129.05M217.67 129.05L218.11 167.27M218.11 167.27L218.56 139.25M218.56 139.25L219 69.51M219 69.51L219.44 17.03M219.44 17.03L219.89 24.98M219.89 24.98L220.33 82.45M220.33 82.45L220.77 140.42M220.77 140.42L221.21 149.76M221.21 149.76L221.66 101.49M221.66 101.49L222.1 36.1M222.1 36.1L222.54 8.91M222.54 8.91L222.99 46.24M222.99 46.24L223.43 119.2M223.43 119.2L223.87 166.09M223.87 166.09L224.32 148.15M224.32 148.15L224.76 82.51M224.76 82.51L225.2 24.77M225.2 24.77L225.64 23.28M225.64 23.28L226.09 76.43M226.09 76.43L226.53 138.73M226.53 138.73L226.97 157.43M226.97 157.43L227.42 115.59M227.42 115.59L227.86 47.99M227.86 47.99L228.3 11.82M228.3 11.82L228.75 39.25M228.75 39.25L229.19 109.26M229.19 109.26L229.63 162.64M229.63 162.64L230.07 154.65M230.07 154.65L230.52 93.41M230.52 93.41L230.96 30.88M230.96 30.88L231.4 19.64M231.4 19.64L231.85 65.78M231.85 65.78L232.29 129.14M232.29 129.14L232.73 156.14M232.73 156.14L233.18 122.35M233.18 122.35L233.62 55.01M233.62 55.01L234.06 11.07M234.06 11.07L234.5 28.45M234.5 28.45L234.95 94.13M234.95 94.13L235.39 152.63M235.39 152.63L235.83 154.76M235.83 154.76L236.28 100.46M236.28 100.46L236.72 36M236.72 36L237.16 15.88M237.16 15.88L237.61 56.62M237.61 56.62L238.05 123.47M238.05 123.47L238.49 159.89M238.49 159.89L238.93 134.89M238.93 134.89L239.38 69.32M239.38 69.32L239.82 18.64M239.82 18.64L240.26 26.22M240.26 26.22L240.71 87.49M240.71 87.49L241.15 150.85M241.15 150.85L241.59 162.85M241.59 162.85L242.04 115.25M242.04 115.25L242.48 48.96M242.48 48.96L242.92 20.03M242.92 20.03L243.36 51.1M243.36 51.1L243.81 114.26M243.81 114.26L244.25 156.09M244.25 156.09L244.69 140.06M244.69 140.06L245.14 77.01M245.14 77.01L245.58 20.14M245.58 20.14L246.02 17.79M246.02 17.79L246.47 73.52M246.47 73.52L246.91 140.52M246.91 140.52L247.35 162.19M247.35 162.19L247.79 122.51M247.79 122.51L248.24 56.32M248.24 56.32L248.68 19.61M248.68 19.61L249.12 42.79M249.12 42.79L249.57 105.3M249.57 105.3L250.01 154.27M250.01 154.27L250.45 147.35M250.45 147.35L250.9 86.82M250.9 86.82L251.34 23.46M251.34 23.46L251.78 10.96M251.78 10.96L252.22 61.26M252.22 61.26L252.67 132.32M252.67 132.32L253.11 164.03M253.11 164.03L253.55 132.44M253.55 132.44L254 66.9M254 66.9L254.44 22.85M254.44 22.85L254.88 36.7M254.88 36.7L255.33 94.7M255.33 94.7L255.77 147.67M255.77 147.67L256.21 150.38M256.21 150.38L256.65 97.5M256.65 97.5L257.1 33.1M257.1 33.1L257.54 11.69M257.54 11.69L257.98 53.39M257.98 53.39L258.43 124.09M258.43 124.09L258.87 164M258.87 164L259.31 139.83M259.31 139.83L259.76 72.77M259.76 72.77L260.2 19.55M260.2 19.55L260.64 24.71M260.64 24.71L261.08 82.02M261.08 82.02L261.53 142.77M261.53 142.77L261.97 155.45M261.97 155.45L262.41 107.61M262.41 107.61L262.86 39.05M262.86 39.05L263.3 7.77M263.3 7.77L263.74 41.15M263.74 41.15L264.19 111.85M264.19 111.85L264.63 160.07M264.63 160.07L265.07 145.63M265.07 145.63L265.51 82.26M265.51 82.26L265.96 23.65M265.96 23.65L266.4 18.95M266.4 18.95L266.84 69.09M266.84 69.09L267.29 130.95M267.29 130.95L267.73 152.2M267.73 152.2L268.17 114.19M268.17 114.19L268.62 48.65M268.62 48.65L269.06 11.02M269.06 11.02L269.5 34.9M269.5 34.9L269.94 102.96M269.94 102.96L270.39 157.69M270.39 157.69L270.83 153.57M270.83 153.57L271.27 97.37M271.27 97.37L271.72 37.05M271.72 37.05L272.16 23.45M272.16 23.45L272.6 65.19M272.6 65.19L273.05 125.87M273.05 125.87L273.49 154.16M273.49 154.16L273.93 124.08M273.93 124.08L274.37 59M274.37 59L274.82 13.98M274.82 13.98L275.26 28.41M275.26 28.41L275.7 93.63M275.7 93.63L276.15 154.7M276.15 154.7L276.59 160.17M276.59 160.17L277.03 106.96M277.03 106.96L277.48 40.44M277.48 40.44L277.92 16.86M277.92 16.86L278.36 55.2M278.36 55.2L278.8 122.43M278.8 122.43L279.25 161.69M279.25 161.69L279.69 138.84M279.69 138.84L280.13 71.65M280.13 71.65L280.58 16.92M280.58 16.92L281.02 21.14M281.02 21.14L281.46 81.7M281.46 81.7L281.91 147.51M281.91 147.51L282.35 163.06M282.35 163.06L282.79 117.79M282.79 117.79L283.23 51.04M283.23 51.04L283.68 19.26M283.68 19.26L284.12 48.35M284.12 48.35L284.56 112.68M284.56 112.68L285.01 157.84M285.01 157.84L285.45 144.62M285.45 144.62L285.89 81.4M285.89 81.4L286.34 21.47M286.34 21.47L286.78 15.55M286.78 15.55L287.22 69M287.22 69L287.66 136.71M287.66 136.71L288.11 161.42M288.11 161.42L288.55 123.26M288.55 123.26L288.99 55.17M288.99 55.17L289.44 14.75M289.44 14.75L289.88 35.56M289.88 35.56L290.32 98.89M290.32 98.89L290.77 151.15M290.77 151.15L291.21 148.2M291.21 148.2L291.65 92.76M291.65 92.76L292.09 31.76M292.09 31.76L292.54 16.92M292.54 16.92L292.98 63.11M292.98 63.11L293.42 132.24M293.42 132.24L293.87 165.84M293.87 165.84L294.31 137.13M294.31 137.13L294.75 72.22M294.75 72.22L295.2 26M295.2 26L295.64 36.14M295.64 36.14L296.08 89.93M296.08 89.93L296.52 141.56M296.52 141.56L296.97 146.96M296.97 146.96L297.41 97.99M297.41 97.99L297.85 35.14M297.85 35.14L298.3 11.61M298.3 11.61L298.74 51.57M298.74 51.57L299.18 124.13M299.18 124.13L299.63 167.92M299.63 167.92L300.07 147.26M300.07 147.26L300.51 82.13M300.51 82.13L300.95 27.68M300.95 27.68L301.4 29.31M301.4 29.31L301.84 82.49M301.84 82.49L302.28 141.75M302.28 141.75L302.73 156.8M302.73 156.8L303.17 111.72M303.17 111.72L303.61 43.25M303.61 43.25L304.06 9.3M304.06 9.3L304.5 39.49M304.5 39.49L304.94 109.35M304.94 109.35L305.38 159.78M305.38 159.78L305.83 149.17M305.83 149.17L306.27 89.59M306.27 89.59L306.71 31.68M306.71 31.68L307.16 24.36M307.16 24.36L307.6 73.24M307.6 73.24L308.04 136.83M308.04 136.83L308.49 161.32M308.49 161.32L308.93 124.25M308.93 124.25L309.37 55.73M309.37 55.73L309.81 13.72M309.81 13.72L310.26 33.85M310.26 33.85L310.7 99.31M310.7 99.31L311.14 154.74M311.14 154.74L311.59 153.95M311.59 153.95L312.03 101.15M312.03 101.15L312.47 41.57M312.47 41.57L312.92 25.49M312.92 25.49L313.36 63.85M313.36 63.85L313.8 122.99M313.8 122.99L314.24 152.9M314.24 152.9L314.69 126.43M314.69 126.43L315.13 63.74M315.13 63.74L315.57 17.84M315.57 17.84L316.02 29.12M316.02 29.12L316.46 92.92M316.46 92.92L316.9 155.7M316.9 155.7L317.35 164.47M317.35 164.47L317.79 112.94M317.79 112.94L318.23 45.01M318.23 45.01L318.67 18.1M318.67 18.1L319.12 51.46M319.12 51.46L319.56 114.26M319.56 114.26L320 153.39M320 153.39L320.45 134.84M320.45 134.84L320.89 72.51M320.89 72.51L321.33 19.05M321.33 19.05L321.78 20.48M321.78 20.48L322.22 79.84M322.22 79.84L322.66 147.67M322.66 147.67L323.1 166.68M323.1 166.68L323.55 122.79M323.55 122.79L323.99 54.09M323.99 54.09L324.43 18.66M324.43 18.66L324.88 43.99M324.88 43.99L325.32 105.51M325.32 105.51L325.76 151.16M325.76 151.16L326.21 141.59M326.21 141.59L326.65 82.45M326.65 82.45L327.09 23.52M327.09 23.52L327.53 15M327.53 15L327.98 67.6M327.98 67.6L328.42 137.9M328.42 137.9L328.86 166.43M328.86 166.43L329.31 130.12M329.31 130.12L329.75 60.47M329.75 60.47L330.19 16.4M330.19 16.4L330.64 34.47M330.64 34.47L331.08 97.91M331.08 97.91L331.52 153.02M331.52 153.02L331.96 152.87M331.96 152.87L332.41 95.88M332.41 95.88L332.85 29.94M332.85 29.94L333.29 10.81M333.29 10.81L333.74 54.61M333.74 54.61L334.18 124.27M334.18 124.27L334.62 160.86M334.62 160.86L335.07 134.73M335.07 134.73L335.51 69.66M335.51 69.66L335.95 20.7M335.95 20.7L336.39 29.35M336.39 29.35L336.84 88.58M336.84 88.58L337.28 148.33M337.28 148.33L337.72 158.02M337.72 158.02L338.17 109.04M338.17 109.04L338.61 42.69M338.61 42.69L339.05 15.08M339.05 15.08L339.5 49.5M339.5 49.5L339.94 116.77M339.94 116.77L340.38 160M340.38 160L340.82 142.27M340.82 142.27L341.27 77.79M341.27 77.79L341.71 21.08M341.71 21.08L342.15 19.92M342.15 19.92L342.6 74.3M342.6 74.3L343.04 138.03M343.04 138.03L343.48 157.2M343.48 157.2L343.93 115.24M343.93 115.24L344.37 47.45M344.37 47.45L344.81 11.18M344.81 11.18L345.25 37.38M345.25 37.38L345.7 104.29M345.7 104.29L346.14 155.32M346.14 155.32L346.58 148M346.58 148L347.03 90.99M347.03 90.99L347.47 32.78M347.47 32.78L347.91 22.58M347.91 22.58L348.36 68.9M348.36 68.9L348.8 132.53M348.8 132.53L349.24 159.64M349.24 159.64L349.68 124.96M349.68 124.96L350.13 55.84M350.13 55.84L350.57 10.74M350.57 10.74L351.01 28.26M351.01 28.26L351.46 94.6M351.46 94.6L351.9 153.69M351.9 153.69L352.34 156.08M352.34 156.08L352.79 103M352.79 103L353.23 40M353.23 40L353.67 20.31M353.67 20.31L354.11 58.92M354.11 58.92L354.56 122.28M354.56 122.28L355 156.8M355 156.8L355.44 131.3M355.44 131.3L355.89 64.5M355.89 64.5L356.33 12.87M356.33 12.87L356.77 20.95M356.77 20.95L357.22 85.15M357.22 85.15L357.66 151.53M357.66 151.53L358.1 164.26M358.1 164.26L358.54 116.51M358.54 116.51L358.99 50.01M358.99 50.01L359.43 21M359.43 21L359.87 51.51M359.87 51.51L360.32 113.55M360.32 113.55L360.76 154.63M360.76 154.63L361.2 138.94M361.2 138.94L361.65 77.21M361.65 77.21L362.09 21.54M362.09 21.54L362.53 19.62M362.53 19.62L362.97 77.13M362.97 77.13L363.42 146.29M363.42 146.29L363.86 168.62M363.86 168.62L364.3 126.55M364.3 126.55L364.75 56.36M364.75 56.36L365.19 17.44M365.19 17.44L365.63 40.76M365.63 40.76L366.08 103.73M366.08 103.73L366.52 153.05M366.52 153.05L366.96 146.76M366.96 146.76L367.4 89.19M367.4 89.19L367.85 28.93M367.85 28.93L368.29 17.09M368.29 17.09L368.73 65.69M368.73 65.69L369.18 134.34M369.18 134.34L369.62 164.98M369.62 164.98L370.06 132.15M370.06 132.15L370.51 64.06M370.51 64.06L370.95 18.29M370.95 18.29L371.39 32.25M371.39 32.25L371.83 90.93M371.83 90.93L372.28 144.53M372.28 144.53L372.72 147.44M372.72 147.44L373.16 95.33M373.16 95.33L373.61 31.86M373.61 31.86L374.05 10.77M374.05 10.77L374.49 52.27M374.49 52.27L374.94 122.63M374.94 122.63L375.38 162.34M375.38 162.34L375.82 138.49M375.82 138.49L376.26 72.3M376.26 72.3L376.71 19.77M376.71 19.77L377.15 24.73M377.15 24.73L377.59 80.55M377.59 80.55L378.04 139.71M378.04 139.71L378.48 152.11M378.48 152.11L378.92 106.23M378.92 106.23L379.37 40.49M379.37 40.49L379.81 10.49M379.81 10.49L380.25 43.63M380.25 43.63L380.69 113.82M380.69 113.82L381.14 161.69M381.14 161.69L381.58 148.05M381.58 148.05L382.02 87.73M382.02 87.73L382.47 31.93M382.47 31.93L382.91 27.67M382.91 27.67L383.35 77.15M383.35 77.15L383.8 138.2M383.8 138.2L384.24 159.15M384.24 159.15L384.68 120.1M384.68 120.1L385.12 52.77M385.12 52.77L385.57 14.11M385.57 14.11L386.01 37.75M386.01 37.75L386.45 105.2M386.45 105.2L386.9 159.44M386.9 159.44L387.34 155.07M387.34 155.07L387.78 97.82M387.78 97.82L388.23 36.37M388.23 36.37L388.67 22.55M388.67 22.55L389.11 65.58M389.11 65.58L389.55 128.13M389.55 128.13L390 157.29M390 157.29L390.44 125.68M390.44 125.68L390.88 57.3M390.88 57.3L391.33 9.99M391.33 9.99L391.77 24.52M391.77 24.52L392.21 90.65M392.21 90.65L392.66 152.57M392.66 152.57L393.1 158.25M393.1 158.25L393.54 105.46M393.54 105.46L393.98 39.47M393.98 39.47L394.43 16.07M394.43 16.07L394.87 53.69M394.87 53.69L395.31 119.66M395.31 119.66L395.76 158.18M395.76 158.18L396.2 136.23M396.2 136.23L396.64 71.62M396.64 71.62L397.09 18.98M397.09 18.98L397.53 23.22M397.53 23.22L397.97 82.4M397.97 82.4L398.41 146.71M398.41 146.71L398.86 161.87M398.86 161.87L399.3 117.09M399.3 117.09L399.74 51.05M399.74 51.05L400.19 19.61M400.19 19.61L400.63 48.15M400.63 48.15L401.07 111.27M401.07 111.27L401.52 155.58M401.52 155.58L401.96 142.4M401.96 142.4L402.4 79.6M402.4 79.6L402.84 20.06M402.84 20.06L403.29 14.24M403.29 14.24L403.73 67.96M403.73 67.96L404.17 135.99M404.17 135.99L404.62 160.82M404.62 160.82L405.06 122.28M405.06 122.28L405.5 53.53M405.5 53.53L405.95 12.71M405.95 12.71L406.39 34.83M406.39 34.83L406.83 102M406.83 102L407.27 157.45M407.27 157.45L407.72 154.36M407.72 154.36L408.16 95.81M408.16 95.81L408.6 31.39M408.6 31.39L409.05 15.6M409.05 15.6L409.49 62.27M409.49 62.27L409.93 132.1M409.93 132.1L410.38 166.04M410.38 166.04L410.82 136.76M410.82 136.76L411.26 70.53M411.26 70.53L411.7 23.38M411.7 23.38L412.15 33.91M412.15 33.91L412.59 89.54M412.59 89.54L413.03 142.94M413.03 142.94L413.48 148.65M413.48 148.65L413.92 99.27M413.92 99.27L414.36 35.9M414.36 35.9L414.81 12.17M414.81 12.17L415.25 51.45M415.25 51.45L415.69 122.78M415.69 122.78L416.13 165.83M416.13 165.83L416.58 145.75M416.58 145.75L417.02 82.43M417.02 82.43L417.46 29.48M417.46 29.48L417.91 31.19M417.91 31.19L418.35 83.61M418.35 83.61L418.79 142.02M418.79 142.02L419.24 156.86M419.24 156.86L419.68 112.38M419.68 112.38L420.12 44.82M420.12 44.82L420.56 11.32M420.56 11.32L421.01 41.77M421.01 41.77L421.45 112.21M421.45 112.21L421.89 163.07M421.89 163.07L422.34 151.75M422.34 151.75L422.78 89.09M422.78 89.09L423.22 28.18M423.22 28.18L423.67 20.16M423.67 20.16L424.11 68.27M424.11 68.27L424.55 130.86M424.55 130.86L424.99 154.97M424.99 154.97L425.44 119.3M425.44 119.3L425.88 53.36M425.88 53.36L426.32 12.93M426.32 12.93L426.77 33.28M426.77 33.28L427.21 99.28M427.21 99.28L427.65 155.17M427.65 155.17L428.1 154.27M428.1 154.27L428.54 374.79M428.54 374.79L428.98 377.27M428.98 377.27L429.42 381.76M429.42 381.76L429.87 387.62M429.87 387.62L430.31 394.03M430.31 394.03L430.75 400.1M430.75 400.1L431.2 404.96M431.2 404.96L431.64 407.95M431.64 407.95L432.08 408.19M432.08 408.19L432.53 394.31M432.53 394.31L432.97 366.29M432.97 366.29L433.41 334.84M433.41 334.84L433.85 311.97M433.85 311.97L434.3 306.41M434.3 306.41L434.74 320.29M434.74 320.29L435.18 348.31M435.18 348.31L435.63 379.76M435.63 379.76L436.07 402.63M436.07 402.63L436.51 408.19M436.51 408.19L436.96 394.31M436.96 394.31L437.4 366.29M437.4 366.29L437.84 334.84M437.84 334.84L438.28 311.97M438.28 311.97L438.73 306.41M438.73 306.41L439.17 320.29M439.17 320.29L439.61 348.31M439.61 348.31L440.06 379.76M440.06 379.76L440.5 402.63M440.5 402.63L440.94 408.19M440.94 408.19L441.39 394.31M441.39 394.31L441.83 366.29M441.83 366.29L442.27 334.84M442.27 334.84L442.71 311.97M442.71 311.97L443.16 306.41M443.16 306.41L443.6 320.29M443.6 320.29L444.04 348.31M444.04 348.31L444.49 379.76M444.49 379.76L444.93 402.63M444.93 402.63L445.37 408.19M445.37 408.19L445.82 394.31M445.82 394.31L446.26 366.29M446.26 366.29L446.7 334.84M446.7 334.84L447.14 311.97M447.14 311.97L447.59 306.41M447.59 306.41L448.03 320.29M448.03 320.29L448.47 348.31M448.47 348.31L448.92 379.76M448.92 379.76L449.36 402.63M449.36 402.63L449.8 408.19M449.8 408.19L450.25 394.31M450.25 394.31L450.69 366.29M450.69 366.29L451.13 334.84M451.13 334.84L451.57 311.97M451.57 311.97L452.02 306.41M452.02 306.41L452.46 320.29M452.46 320.29L452.9 348.31M452.9 348.31L453.35 379.76M453.35 379.76L453.79 402.63M453.79 402.63L454.23 408.19M454.23 408.19L454.68 394.31M454.68 394.31L455.12 366.29M455.12 366.29L455.56 334.84M455.56 334.84L456 311.97M456 311.97L456.45 306.41M456.45 306.41L456.89 320.29M456.89 320.29L457.33 348.31M457.33 348.31L457.78 379.76M457.78 379.76L458.22 402.63M458.22 402.63L458.66 408.19M458.66 408.19L459.11 394.31M459.11 394.31L459.55 366.29M459.55 366.29L459.99 334.84M459.99 334.84L460.43 311.97M460.43 311.97L460.88 306.41M460.88 306.41L461.32 320.29M461.32 320.29L461.76 348.31M461.76 348.31L462.21 379.76M462.21 379.76L462.65 402.63M462.65 402.63L463.09 408.19M463.09 408.19L463.54 394.31M463.54 394.31L463.98 366.29M463.98 366.29L464.42 334.84M464.42 334.84L464.86 311.97M464.86 311.97L465.31 306.41M465.31 306.41L465.75 320.29M465.75 320.29L466.19 348.31M466.19 348.31L466.64 379.76M466.64 379.76L467.08 402.63M467.08 402.63L467.52 408.19M467.52 408.19L467.97 394.31M467.97 394.31L468.41 366.29M468.41 366.29L468.85 334.84M468.85 334.84L469.29 311.97M469.29 311.97L469.74 306.41M469.74 306.41L470.18 320.29M470.18 320.29L470.62 348.31M470.62 348.31L471.07 379.76M471.07 379.76L471.51 402.63M471.51 402.63L471.95 408.19M471.95 408.19L472.4 394.31M472.4 394.31L472.84 366.29M472.84 366.29L473.28 334.84M473.28 334.84L473.72 311.97M473.72 311.97L474.17 306.41M474.17 306.41L474.61 320.29M474.61 320.29L475.05 348.31M475.05 348.31L475.5 379.76M475.5 379.76L475.94 402.63M475.94 402.63L476.38 408.19M476.38 408.19L476.83 394.31M476.83 394.31L477.27 366.29M477.27 366.29L477.71 334.84M477.71 334.84L478.15 311.97M478.15 311.97L478.6 306.41M478.6 306.41L479.04 320.29M479.04 320.29L479.48 348.31M479.48 348.31L479.93 379.76M479.93 379.76L480.37 402.63M480.37 402.63L480.81 408.19M480.81 408.19L481.26 394.31M481.26 394.31L481.7 366.29M481.7 366.29L482.14 334.84M482.14 334.84L482.58 311.97M482.58 311.97L483.03 306.41M483.03 306.41L483.47 320.29M483.47 320.29L483.91 348.31M483.91 348.31L484.36 379.76M484.36 379.76L484.8 402.63M484.8 402.63L485.24 408.19M485.24 408.19L485.69 394.31M485.69 394.31L486.13 366.29M486.13 366.29L486.57 334.84M486.57 334.84L487.01 311.97M487.01 311.97L487.46 306.41M487.46 306.41L487.9 320.29M487.9 320.29L488.34 348.31M488.34 348.31L488.79 379.76M488.79 379.76L489.23 402.63M489.23 402.63L489.67 408.19M489.67 408.19L490.12 394.31M490.12 394.31L490.56 366.29M490.56 366.29L491 334.84M491 334.84L491.44 311.97M491.44 311.97L491.89 306.41M491.89 306.41L492.33 320.29M492.33 320.29L492.77 348.31M492.77 348.31L493.22 379.76M493.22 379.76L493.66 402.63M493.66 402.63L494.1 408.19M494.1 408.19L494.55 394.31M494.55 394.31L494.99 366.29M494.99 366.29L495.43 334.84M495.43 334.84L495.87 311.97M495.87 311.97L496.32 306.41M496.32 306.41L496.76 320.29M496.76 320.29L497.2 348.31M497.2 348.31L497.65 379.76M497.65 379.76L498.09 402.63M498.09 402.63L498.53 408.19M498.53 408.19L498.98 394.31M498.98 394.31L499.42 366.29M499.42 366.29L499.86 334.84M499.86 334.84L500.3 311.97M500.3 311.97L500.75 306.41M500.75 306.41L501.19 320.29M501.19 320.29L501.63 348.31M501.63 348.31L502.08 379.76M502.08 379.76L502.52 402.63M502.52 402.63L502.96 408.19M502.96 408.19L503.41 394.31M503.41 394.31L503.85 366.29M503.85 366.29L504.29 334.84M504.29 334.84L504.73 311.97M504.73 311.97L505.18 306.41M505.18 306.41L505.62 320.29M505.62 320.29L506.06 348.31M506.06 348.31L506.51 379.76M506.51 379.76L506.95 402.63M506.95 402.63L507.39 408.19" stroke="#e3151a" stroke-width="2.0" stroke-dasharray="11 10"/>
<polyline points="65.5,84.7 65.94,86.07 66.39,87.44 66.83,88.81 67.27,90.18 67.72,91.55 68.16,92.92 68.6,94.29 69.04,95.67 69.49,97.04 69.93,91.67 70.37,83.87 70.82,80.55 71.26,81.91 71.7,83.28 72.14,84.65 72.59,86.02 73.03,87.39 73.47,88.76 73.92,90.13 74.36,91.5 74.8,92.87 75.25,94.24 75.69,95.61 76.13,96.98 76.58,91.47 77.02,83.71 77.46,80.6 77.9,81.96 78.35,83.33 78.79,84.7 79.23,86.07 79.68,87.44 80.12,88.81 80.56,90.17 81,91.54 81.45,92.91 81.89,94.28 82.33,95.65 82.78,97.02 83.22,91.42 83.66,83.79 84.11,80.91 84.55,82.27 84.99,83.63 85.44,84.99 85.88,86.35 86.32,87.71 86.76,89.08 87.21,90.44 87.65,91.8 88.09,93.16 88.54,94.52 88.98,95.88 89.42,97.24 89.87,91.25 90.31,83.37 90.75,80.58 91.19,81.96 91.64,83.34 92.08,84.73 92.52,86.11 92.97,87.5 93.41,88.88 93.85,90.26 94.3,91.65 94.74,93.03 95.18,94.42 95.62,95.8 96.07,97.18 96.51,91.05 96.95,83.21 97.4,80.63 97.84,82.03 98.28,83.43 98.72,84.83 99.17,86.23 99.61,87.63 100.05,89.03 100.5,90.43 100.94,91.83 101.38,93.23 101.83,94.63 102.27,96.03 102.71,97.43 103.16,91.09 103.6,83.24 104.04,80.83 104.48,82.21 104.93,83.59 105.37,84.97 105.81,86.35 106.26,87.74 106.7,89.12 107.14,90.5 107.59,91.88 108.03,93.26 108.47,94.64 108.91,96.03 109.36,97.41 109.8,90.89 110.24,83.04 110.69,80.82 111.13,82.19 111.57,83.57 112.02,84.94 112.46,86.31 112.9,87.69 113.34,89.06 113.79,90.43 114.23,91.81 114.67,93.18 115.12,94.55 115.56,95.93 116,97.3 116.44,90.73 116.89,83.05 117.33,81.06 117.77,82.43 118.22,83.8 118.66,85.17 119.1,86.53 119.55,87.9 119.99,89.27 120.43,90.64 120.88,92.01 121.32,93.37 121.76,94.74 122.2,96.11 122.65,97.48 123.09,90.62 123.53,82.82 123.98,80.97 124.42,82.33 124.86,83.68 125.31,85.03 125.75,86.39 126.19,87.74 126.63,89.09 127.08,90.45 127.52,91.8 127.96,93.15 128.41,94.51 128.85,95.86 129.29,97.22 129.74,90.21 130.18,82.45 130.62,80.82 131.06,82.22 131.51,83.61 131.95,85.01 132.39,86.4 132.84,87.8 133.28,89.19 133.72,90.58 134.16,91.98 134.61,93.37 135.05,94.77 135.49,96.16 135.94,97.55 136.38,90.23 136.82,82.32 137.27,80.84 137.71,82.24 138.15,83.63 138.59,85.03 139.04,86.42 139.48,87.82 139.92,89.22 140.37,90.61 140.81,92.01 141.25,93.4 141.7,94.8 142.14,96.2 142.58,97.59 143.02,90.1 143.47,82.23 143.91,80.94 144.35,82.33 144.8,83.72 145.24,85.11 145.68,86.5 146.13,87.89 146.57,89.28 147.01,90.67 147.45,92.06 147.9,93.45 148.34,94.84 148.78,96.23 149.23,97.62 149.67,90.06 150.11,82.29 150.56,81.19 151,82.54 151.44,83.88 151.88,85.23 152.33,86.58 152.77,87.92 153.21,89.27 153.66,90.61 154.1,91.96 154.54,93.31 154.99,94.65 155.43,96 155.87,97.34 156.31,89.69 156.76,82.02 157.2,81.15 157.64,82.53 158.09,83.9 158.53,85.28 158.97,86.65 159.42,88.02 159.86,89.4 160.3,90.77 160.75,92.15 161.19,93.52 161.63,94.9 162.07,96.27 162.52,97.47 162.96,89.54 163.4,81.61 163.85,80.86 164.29,82.24 164.73,83.62 165.18,85 165.62,86.38 166.06,87.75 166.5,89.13 166.95,90.51 167.39,91.89 167.83,93.27 168.28,94.64 168.72,96.02 169.16,97.04 169.61,89.36 170.05,81.68 170.49,81.16 170.93,82.51 171.38,83.86 171.82,85.22 172.26,86.57 172.71,87.92 173.15,89.27 173.59,90.63 174.03,91.98 174.48,93.33 174.92,94.68 175.36,96.04 175.81,96.85 176.25,89.14 176.69,81.43 177.14,81.1 177.58,82.47 178.02,83.84 178.47,85.21 178.91,86.58 179.35,87.95 179.79,89.32 180.24,90.69 180.68,92.06 181.12,93.43 181.57,94.8 182.01,96.17 182.45,96.81 182.89,89.11 183.34,81.41 183.78,81.25 184.22,82.6 184.67,83.95 185.11,85.3 185.55,86.65 186,88 186.44,89.35 186.88,90.7 187.32,92.05 187.77,93.4 188.21,94.75 188.65,96.1 189.1,96.54 189.54,88.8 189.98,81.06 190.43,81.09 190.87,82.45 191.31,83.82 191.75,85.18 192.2,86.55 192.64,87.91 193.08,89.28 193.53,90.64 193.97,92.01 194.41,93.37 194.86,94.74 195.3,96.11 195.74,96.37 196.19,88.59 196.63,80.82 197.07,81.05 197.51,82.45 197.96,83.84 198.4,85.24 198.84,86.63 199.29,88.02 199.73,89.42 200.17,90.81 200.62,92.2 201.06,93.6 201.5,94.99 201.94,96.39 202.39,96.48 202.83,75.74" stroke="#3a3af8" stroke-width="1.6"/>
<path d="M202.39 96.48L202.83 75.74M202.83 75.74L203.27 108.82M203.27 108.82L203.72 115.89M203.72 115.89L204.16 91.84M204.16 91.84L204.6 57.45M204.6 57.45L205.04 41.88M205.04 41.88L205.49 59.33M205.49 59.33L205.93 96.01M205.93 96.01L206.37 121M206.37 121L206.82 113.76M206.82 113.76L207.26 81.77M207.26 81.77L207.7 52.27M207.7 52.27L208.15 50.13M208.15 50.13L208.59 76.13M208.59 76.13L209.03 108.09M209.03 108.09L209.47 119.07M209.47 119.07L209.92 98.93M209.92 98.93L210.36 64.27M210.36 64.27L210.8 44.47M210.8 44.47L211.25 56.2M211.25 56.2L211.69 89.33M211.69 89.33L212.13 115.91M212.13 115.91L212.58 113.66M212.58 113.66L213.02 84.91M213.02 84.91L213.46 54.14M213.46 54.14L213.91 47.44M213.91 47.44L214.35 70.45M214.35 70.45L214.79 103.74M214.79 103.74L215.23 119.26M215.23 119.26L215.68 104.22M215.68 104.22L216.12 71.68M216.12 71.68L216.56 49.28M216.56 49.28L217.01 55.95M217.01 55.95L217.45 86M217.45 86L217.89 114.06M217.89 114.06L218.34 116.38M218.34 116.38L218.78 90M218.78 90L219.22 57.1M219.22 57.1L219.66 45.59M219.66 45.59L220.11 66.04M220.11 66.04L220.55 101.71M220.55 101.71L220.99 122.51M220.99 122.51L221.44 111.26M221.44 111.26L221.88 78.06M221.88 78.06L222.32 51.12M222.32 51.12L222.77 53.1M222.77 53.1L223.21 81.66M223.21 81.66L223.65 112.59M223.65 112.59L224.09 119.9M224.09 119.9L224.54 98.42M224.54 98.42L224.98 66.79M224.98 66.79L225.42 51.86M225.42 51.86L225.87 66.48M225.87 66.48L226.31 98.55M226.31 98.55L226.75 121.02M226.75 121.02L227.19 114.49M227.19 114.49L227.64 83.16M227.64 83.16L228.08 53.55M228.08 53.55L228.52 50.84M228.52 50.84L228.97 78.08M228.97 78.08L229.41 112.44M229.41 112.44L229.85 124.98M229.85 124.98L230.3 105.26M230.3 105.26L230.74 70.1M230.74 70.1L231.18 49.31M231.18 49.31L231.62 59.99M231.62 59.99L232.07 92.19M232.07 92.19L232.51 118.73M232.51 118.73L232.95 117.25M232.95 117.25L233.4 89.03M233.4 89.03L233.84 58.04M233.84 58.04L234.28 50.59M234.28 50.59L234.73 73.84M234.73 73.84L235.17 108.51M235.17 108.51L235.61 125.36M235.61 125.36L236.06 111.52M236.06 111.52L236.5 80.22M236.5 80.22L236.94 58.01M236.94 58.01L237.38 63.33M237.38 63.33L237.83 90.54M237.83 90.54L238.27 116.6M238.27 116.6L238.71 119.37M238.71 119.37L239.16 94.83M239.16 94.83L239.6 63.37M239.6 63.37L240.04 51.68M240.04 51.68L240.48 70.41M240.48 70.41L240.93 104.24M240.93 104.24L241.37 124.64M241.37 124.64L241.81 115.35M241.81 115.35L242.26 85.95M242.26 85.95L242.7 61.44M242.7 61.44L243.14 62.74M243.14 62.74L243.59 89.39M243.59 89.39L244.03 119.01M244.03 119.01L244.47 126.59M244.47 126.59L244.91 104.56M244.91 104.56L245.36 71.13M245.36 71.13L245.8 54.65M245.8 54.65L246.24 68.93M246.24 68.93L246.69 101.74M246.69 101.74L247.13 125.4M247.13 125.4L247.57 119.76M247.57 119.76L248.02 88.93M248.02 88.93L248.46 59.04M248.46 59.04L248.9 55.33M248.9 55.33L249.34 80.21M249.34 80.21L249.79 112.46M249.79 112.46L250.23 124.92M250.23 124.92L250.67 108.72M250.67 108.72L251.12 78.77M251.12 78.77L251.56 60.49M251.56 60.49L252 69.29M252 69.29L252.45 97.61M252.45 97.61L252.89 121.54M252.89 121.54L253.33 120.88M253.33 120.88L253.77 95.91M253.77 95.91L254.22 67.8M254.22 67.8L254.66 60.35M254.66 60.35L255.1 79.23M255.1 79.23L255.55 108.22M255.55 108.22L255.99 122.87M255.99 122.87L256.43 110.07M256.43 110.07L256.88 79.7M256.88 79.7L257.32 57.56M257.32 57.56L257.76 62.73M257.76 62.73L258.21 91.91M258.21 91.91L258.65 120.56M258.65 120.56L259.09 124.63M259.09 124.63L259.53 101.48M259.53 101.48L259.98 71M259.98 71L260.42 58.87M260.42 58.87L260.86 75.1M260.86 75.1L261.31 105.73M261.31 105.73L261.75 124.86M261.75 124.86L262.19 116.08M262.19 116.08L262.63 86.38M262.63 86.38L263.08 60.86M263.08 60.86L263.52 60.99M263.52 60.99L263.96 86M263.96 86L264.41 114.63M264.41 114.63L264.85 122.72M264.85 122.72L265.29 105.18M265.29 105.18L265.74 77.65M265.74 77.65L266.18 63.41M266.18 63.41L266.62 75.51M266.62 75.51L267.06 104.95M267.06 104.95L267.51 126.86M267.51 126.86L267.95 122.21M267.95 122.21L268.39 93.45M268.39 93.45L268.84 64.74M268.84 64.74L269.28 60.39M269.28 60.39L269.72 84.28M269.72 84.28L270.17 116.28M270.17 116.28L270.61 129.31M270.61 129.31L271.05 112.32M271.05 112.32L271.5 79.65M271.5 79.65L271.94 58.92M271.94 58.92L272.38 67.95M272.38 67.95L272.82 99.65M272.82 99.65L273.27 127.23M273.27 127.23L273.71 127.2M273.71 127.2L274.15 98.78M274.15 98.78L274.6 65.83M274.6 65.83L275.04 56.2M275.04 56.2L275.48 77.08M275.48 77.08L275.92 110.36M275.92 110.36L276.37 127.88M276.37 127.88L276.81 115.93M276.81 115.93L277.25 86.09M277.25 86.09L277.7 63.58M277.7 63.58L278.14 67.37M278.14 67.37L278.58 93.97M278.58 93.97L279.03 120.86M279.03 120.86L279.47 125.23M279.47 125.23L279.91 102.83M279.91 102.83L280.36 72.42M280.36 72.42L280.8 59.73M280.8 59.73L281.24 76.44M281.24 76.44L281.68 109.19M281.68 109.19L282.13 130.29M282.13 130.29L282.57 121.65M282.57 121.65L283.01 90.13M283.01 90.13L283.46 62.35M283.46 62.35L283.9 61.85M283.9 61.85L284.34 89.27M284.34 89.27L284.78 121.46M284.78 121.46L285.23 131.2M285.23 131.2L285.67 110.82M285.67 110.82L286.11 77.83M286.11 77.83L286.56 60.13M286.56 60.13L287 71.66M287 71.66L287.44 101.25M287.44 101.25L287.89 123.86M287.89 123.86L288.33 119.99M288.33 119.99L288.77 91.61M288.77 91.61L289.21 62.57M289.21 62.57L289.66 57.63M289.66 57.63L290.1 83.14M290.1 83.14L290.54 118.26M290.54 118.26L290.99 133.26M290.99 133.26L291.43 115.26M291.43 115.26L291.87 79.3M291.87 79.3L292.32 55.78M292.32 55.78L292.76 64.64M292.76 64.64L293.2 98.41M293.2 98.41L293.64 128.55M293.64 128.55L294.09 129.72M294.09 129.72L294.53 102.02M294.53 102.02L294.97 69.07M294.97 69.07L295.42 58.7M295.42 58.7L295.86 77.73M295.86 77.73L296.3 109.04M296.3 109.04L296.75 126.15M296.75 126.15L297.19 114.12M297.19 114.12L297.63 82.48M297.63 82.48L298.07 57.97M298.07 57.97L298.52 61.77M298.52 61.77L298.96 92.23M298.96 92.23L299.4 123.78M299.4 123.78L299.85 129.76M299.85 129.76L300.29 105.66M300.29 105.66L300.73 72.01M300.73 72.01L301.18 57.3M301.18 57.3L301.62 73.84M301.62 73.84L302.06 107.56M302.06 107.56L302.5 129.94M302.5 129.94L302.95 122.26M302.95 122.26L303.39 91.56M303.39 91.56L303.83 63.8M303.83 63.8L304.28 62.26M304.28 62.26L304.72 86.71M304.72 86.71L305.16 116.17M305.16 116.17L305.61 125.71M305.61 125.71L306.05 107.37M306.05 107.37L306.49 76.7M306.49 76.7L306.94 59.64M306.94 59.64L307.38 71.47M307.38 71.47L307.82 103.44M307.82 103.44L308.26 128.53M308.26 128.53L308.71 125.02M308.71 125.02L309.15 94.07M309.15 94.07L309.59 61.6M309.59 61.6L310.04 55.11M310.04 55.11L310.48 80.19M310.48 80.19L310.92 115.69M310.92 115.69L311.37 131.58M311.37 131.58L311.81 113.92M311.81 113.92L312.25 77.22M312.25 77.22L312.69 52.5M312.69 52.5L313.14 60.86M313.14 60.86L313.58 95.64M313.58 95.64L314.02 127.46M314.02 127.46L314.47 129.38M314.47 129.38L314.91 99.72M314.91 99.72L315.35 63.49M315.35 63.49L315.79 51.29M315.79 51.29L316.24 72.1M316.24 72.1L316.68 107.58M316.68 107.58L317.12 127.68M317.12 127.68L317.57 115.72M317.57 115.72L318.01 82.33M318.01 82.33L318.45 55.71M318.45 55.71L318.9 58.43M318.9 58.43L319.34 88.29M319.34 88.29L319.78 120.06M319.78 120.06L320.23 126.84M320.23 126.84L320.67 103.31M320.67 103.31L321.11 69.47M321.11 69.47L321.55 53.93M321.55 53.93L322 70.01M322 70.01L322.44 104.3M322.44 104.3L322.88 127.78M322.88 127.78L323.33 120.15M323.33 120.15L323.77 86.9M323.77 86.9L324.21 56.02M324.21 56.02L324.66 53.79M324.66 53.79L325.1 82.98M325.1 82.98L325.54 119.14M325.54 119.14L325.98 131.65M325.98 131.65L326.43 110.5M326.43 110.5L326.87 73.88M326.87 73.88L327.31 52.76M327.31 52.76L327.76 64.8M327.76 64.8L328.2 99.51M328.2 99.51L328.64 127.52M328.64 127.52L329.08 125.09M329.08 125.09L329.53 94.3M329.53 94.3L329.97 61.12M329.97 61.12L330.41 53.74M330.41 53.74L330.86 79.99M330.86 79.99L331.3 118.31M331.3 118.31L331.74 136.24M331.74 136.24L332.19 117.91M332.19 117.91L332.63 78.11M332.63 78.11L333.07 50.45M333.07 50.45L333.51 58.23M333.51 58.23L333.96 94.52M333.96 94.52L334.4 128.61M334.4 128.61L334.84 131.68M334.84 131.68L335.29 101.66M335.29 101.66L335.73 64.01M335.73 64.01L336.17 50.55M336.17 50.55L336.62 71.65M336.62 71.65L337.06 108.84M337.06 108.84L337.5 130.63M337.5 130.63L337.94 118.9M337.94 118.9L338.39 84.12M338.39 84.12L338.83 55.66M338.83 55.66L339.27 58.1M339.27 58.1L339.72 91.4M339.72 91.4L340.16 127.73M340.16 127.73L340.6 136.29M340.6 136.29L341.05 109.82M341.05 109.82L341.49 70.66M341.49 70.66L341.93 51.92M341.93 51.92L342.38 68.55M342.38 68.55L342.82 105.54M342.82 105.54L343.26 131.61M343.26 131.61L343.7 124.38M343.7 124.38L344.15 89.26M344.15 89.26L344.59 55.84M344.59 55.84L345.03 52.52M345.03 52.52L345.48 83.06M345.48 83.06L345.92 121.88M345.92 121.88L346.36 136.1M346.36 136.1L346.81 113.37M346.81 113.37L347.25 72.68M347.25 72.68L347.69 48.41M347.69 48.41L348.13 60.32M348.13 60.32L348.58 96.94M348.58 96.94L349.02 127.27M349.02 127.27L349.46 125.67M349.46 125.67L349.91 93.87M349.91 93.87L350.35 58.76M350.35 58.76L350.79 50.11M350.79 50.11L351.24 76.57M351.24 76.57L351.68 116.33M351.68 116.33L352.12 135.73M352.12 135.73L352.56 117.19M352.56 117.19L353.01 75.13M353.01 75.13L353.45 45.07M353.45 45.07L353.89 52.32M353.89 52.32L354.34 90.34M354.34 90.34L354.78 126.96M354.78 126.96L355.22 131.31M355.22 131.31L355.66 101.13M355.66 101.13L356.11 62.26M356.11 62.26L356.55 47.58M356.55 47.58L356.99 69.88M356.99 69.88L357.44 110.56M357.44 110.56L357.88 135.19M357.88 135.19L358.32 122.57M358.32 122.57L358.77 82.78M358.77 82.78L359.21 49.39M359.21 49.39L359.65 50.88M359.65 50.88L360.09 86.92M360.09 86.92L360.54 127.21M360.54 127.21L360.98 137.62M360.98 137.62L361.42 109.45M361.42 109.45L361.87 66.52M361.87 66.52L362.31 45.13M362.31 45.13L362.75 63.18M362.75 63.18L363.2 105.18M363.2 105.18L363.64 135.59M363.64 135.59L364.08 128.25M364.08 128.25L364.52 88.16M364.52 88.16L364.97 49.08M364.97 49.08L365.41 44.08M365.41 44.08L365.85 77.44M365.85 77.44L366.3 120.98M366.3 120.98L366.74 137.83M366.74 137.83L367.18 113.91M367.18 113.91L367.63 69.54M367.63 69.54L368.07 42.23M368.07 42.23L368.51 54.37M368.51 54.37L368.95 94.32M368.95 94.32L369.4 128.25M369.4 128.25L369.84 127.25M369.84 127.25L370.28 91.34M370.28 91.34L370.73 50.7M370.73 50.7L371.17 39.77M371.17 39.77L371.61 69.29M371.61 69.29L372.06 114.98M372.06 114.98L372.5 138.16M372.5 138.16L372.94 119.62M372.94 119.62L373.38 75.52M373.38 75.52L373.83 43.13M373.83 43.13L374.27 49.93M374.27 49.93L374.71 90.41M374.71 90.41L375.16 130.36M375.16 130.36L375.6 135.97M375.6 135.97L376.04 102.88M376.04 102.88L376.49 59.13M376.49 59.13L376.93 41.71M376.93 41.71L377.37 65.11M377.37 65.11L377.81 109.36M377.81 109.36L378.26 137.01M378.26 137.01L378.7 124.12M378.7 124.12L379.14 80.55M379.14 80.55L379.59 43.06M379.59 43.06L380.03 43.19M380.03 43.19L380.47 79.79M380.47 79.79L380.92 121.83M380.92 121.83L381.36 133.73M381.36 133.73L381.8 106.44M381.8 106.44L382.25 63.46M382.25 63.46L382.69 41.16M382.69 41.16L383.13 60.01M383.13 60.01L383.57 106.07M383.57 106.07L384.02 140.42M384.02 140.42L384.46 133.79M384.46 133.79L384.9 91.2M384.9 91.2L385.35 48.57M385.35 48.57L385.79 42.03M385.79 42.03L386.23 77.19M386.23 77.19L386.67 124.39M386.67 124.39L387.12 143.69M387.12 143.69L387.56 119.44M387.56 119.44L388 72.64M388 72.64L388.45 42.87M388.45 42.87L388.89 54.66M388.89 54.66L389.33 96.57M389.33 96.57L389.78 133.16M389.78 133.16L390.22 133.35M390.22 133.35L390.66 96.59M390.66 96.59L391.11 53.84M391.11 53.84L391.55 41.33M391.55 41.33L391.99 69.95M391.99 69.95L392.43 115.72M392.43 115.72L392.88 139.91M392.88 139.91L393.32 121.55M393.32 121.55L393.76 75.5M393.76 75.5L394.21 40.69M394.21 40.69L394.65 46.52M394.65 46.52L395.09 87.71M395.09 87.71L395.53 129.45M395.53 129.45L395.98 136.25M395.98 136.25L396.42 100.97M396.42 100.97L396.86 52.94M396.86 52.94L397.31 32.83M397.31 32.83L397.75 59.53M397.75 59.53L398.19 112M398.19 112L398.64 145.87M398.64 145.87L399.08 133.1M399.08 133.1L399.52 85.84M399.52 85.84L399.96 44.09M399.96 44.09L400.41 42.88M400.41 42.88L400.85 81.14M400.85 81.14L401.29 126.19M401.29 126.19L401.74 139.85M401.74 139.85L402.18 109.44M402.18 109.44L402.62 60.06M402.62 60.06L403.07 33.49M403.07 33.49L403.51 53.15M403.51 53.15L403.95 103.64M403.95 103.64L404.39 142.33M404.39 142.33L404.84 136.25M404.84 136.25L405.28 89.95M405.28 89.95L405.72 42.46M405.72 42.46L406.17 33.96M406.17 33.96L406.61 70.85M406.61 70.85L407.05 121.75M407.05 121.75L407.5 143.59M407.5 143.59L407.94 118.29M407.94 118.29L408.38 67.57M408.38 67.57L408.82 34.32M408.82 34.32L409.27 47.17M409.27 47.17L409.71 96.25M409.71 96.25L410.15 140.17M410.15 140.17L410.6 141.84M410.6 141.84L411.04 100.69M411.04 100.69L411.48 51.63M411.48 51.63L411.93 36.22M411.93 36.22L412.37 67.93M412.37 67.93L412.81 120.21M412.81 120.21L413.25 148.85M413.25 148.85L413.7 129.42M413.7 129.42L414.14 78.1M414.14 78.1L414.58 38.26M414.58 38.26L415.03 43.54M415.03 43.54L415.47 89.01M415.47 89.01L415.91 136.22M415.91 136.22L416.36 145.09M416.36 145.09L416.8 106.8M416.8 106.8L417.24 53.23M417.24 53.23L417.69 29.73M417.69 29.73L418.13 57.25M418.13 57.25L418.57 113.47M418.57 113.47L419.01 150.87M419.01 150.87L419.46 137.67M419.46 137.67L419.9 84.81M419.9 84.81L420.34 36.91M420.34 36.91L420.79 34.62M420.79 34.62L421.23 80.26M421.23 80.26L421.67 135.44M421.67 135.44L422.12 153.46M422.12 153.46L422.56 120.02M422.56 120.02L423 63.85M423 63.85L423.44 32.5M423.44 32.5L423.89 51.94M423.89 51.94L424.33 104.86M424.33 104.86L424.77 146.56M424.77 146.56L425.22 141.39M425.22 141.39L425.66 92.58M425.66 92.58L426.1 41.19M426.1 41.19L426.55 30.77M426.55 30.77L426.99 69.79M426.99 69.79L427.43 125.22M427.43 125.22L427.87 150.17M427.87 150.17L428.32 374.43" stroke="#3a3af8" stroke-width="2.0" stroke-dasharray="11 4 1.5 4"/>
<mask id="bandmask" maskUnits="userSpaceOnUse" x="0" y="0" width="520" height="923"><rect width="520" height="923" fill="#fff"/><rect x="430" y="335.3" width="90" height="3.4" fill="#000"/><rect x="430" y="341.6" width="90" height="3.4" fill="#000"/><rect x="430" y="365.6" width="90" height="3.4" fill="#000"/><rect x="430" y="371.9" width="90" height="3.4" fill="#000"/></mask>
<polyline points="428.32,374.43 428.76,375.59 429.2,378.71 429.65,383.33 430.09,388.83 430.53,394.41 430.97,399.3 431.42,402.81 431.86,404.45 432.3,399.78 432.75,379.53 433.19,350.79 433.63,324.54 434.08,310.8 434.52,314.82 434.96,335.07 435.4,363.81 435.85,390.06 436.29,403.8 436.73,399.78 437.18,379.53 437.62,350.79 438.06,324.54 438.51,310.8 438.95,314.82 439.39,335.07 439.83,363.81 440.28,390.06 440.72,403.8 441.16,399.78 441.61,379.53 442.05,350.79 442.49,324.54 442.94,310.8 443.38,314.82 443.82,335.07 444.26,363.81 444.71,390.06 445.15,403.8 445.59,399.78 446.04,379.53 446.48,350.79 446.92,324.54 447.37,310.8 447.81,314.82 448.25,335.07 448.69,363.81 449.14,390.06 449.58,403.8 450.02,399.78 450.47,379.53 450.91,350.79 451.35,324.54 451.8,310.8 452.24,314.82 452.68,335.07 453.12,363.81 453.57,390.06 454.01,403.8 454.45,399.78 454.9,379.53 455.34,350.79 455.78,324.54 456.23,310.8 456.67,314.82 457.11,335.07 457.55,363.81 458,390.06 458.44,403.8 458.88,399.78 459.33,379.53 459.77,350.79 460.21,324.54 460.66,310.8 461.1,314.82 461.54,335.07 461.99,363.81 462.43,390.06 462.87,403.8 463.31,399.78 463.76,379.53 464.2,350.79 464.64,324.54 465.09,310.8 465.53,314.82 465.97,335.07 466.42,363.81 466.86,390.06 467.3,403.8 467.74,399.78 468.19,379.53 468.63,350.79 469.07,324.54 469.52,310.8 469.96,314.82 470.4,335.07 470.84,363.81 471.29,390.06 471.73,403.8 472.17,399.78 472.62,379.53 473.06,350.79 473.5,324.54 473.95,310.8 474.39,314.82 474.83,335.07 475.27,363.81 475.72,390.06 476.16,403.8 476.6,399.78 477.05,379.53 477.49,350.79 477.93,324.54 478.38,310.8 478.82,314.82 479.26,335.07 479.7,363.81 480.15,390.06 480.59,403.8 481.03,399.78 481.48,379.53 481.92,350.79 482.36,324.54 482.81,310.8 483.25,314.82 483.69,335.07 484.14,363.81 484.58,390.06 485.02,403.8 485.46,399.78 485.91,379.53 486.35,350.79 486.79,324.54 487.24,310.8 487.68,314.82 488.12,335.07 488.56,363.81 489.01,390.06 489.45,403.8 489.89,399.78 490.34,379.53 490.78,350.79 491.22,324.54 491.67,310.8 492.11,314.82 492.55,335.07 493,363.81 493.44,390.06 493.88,403.8 494.32,399.78 494.77,379.53 495.21,350.79 495.65,324.54 496.1,310.8 496.54,314.82 496.98,335.07 497.42,363.81 497.87,390.06 498.31,403.8 498.75,399.78 499.2,379.53 499.64,350.79 500.08,324.54 500.53,310.8 500.97,314.82 501.41,335.07 501.85,363.81 502.3,390.06 502.74,403.8 503.18,399.78 503.63,379.53 504.07,350.79 504.51,324.54 504.96,310.8 505.4,314.82 505.84,335.07 506.29,363.81 506.73,390.06 507.17,403.8" stroke="#3a3af8" stroke-width="2.0" mask="url(#bandmask)"/>
</g>
<line x1="65.5" y1="3.5" x2="65.5" y2="410.2" stroke="#000" stroke-width="2"/>
<line x1="64.5" y1="409.2" x2="509.5" y2="409.2" stroke="#000" stroke-width="2"/>
<line x1="65.5" y1="407.9" x2="75.5" y2="407.9" stroke="#000" stroke-width="1.8"/>
<line x1="65.5" y1="409.2" x2="75.5" y2="409.2" stroke="#000" stroke-width="1.8"/>
<line x1="65.5" y1="398.82" x2="70.5" y2="398.82" stroke="#333" stroke-width="1.0"/>
<line x1="65.5" y1="388.44" x2="70.5" y2="388.44" stroke="#333" stroke-width="1.0"/>
<line x1="65.5" y1="378.06" x2="70.5" y2="378.06" stroke="#333" stroke-width="1.0"/>
<line x1="65.5" y1="367.68" x2="70.5" y2="367.68" stroke="#333" stroke-width="1.0"/>
<line x1="65.5" y1="357.3" x2="75.5" y2="357.3" stroke="#000" stroke-width="1.8"/>
<line x1="65.5" y1="346.92" x2="70.5" y2="346.92" stroke="#333" stroke-width="1.0"/>
<line x1="65.5" y1="336.54" x2="70.5" y2="336.54" stroke="#333" stroke-width="1.0"/>
<line x1="65.5" y1="326.16" x2="70.5" y2="326.16" stroke="#333" stroke-width="1.0"/>
<line x1="65.5" y1="315.78" x2="70.5" y2="315.78" stroke="#333" stroke-width="1.0"/>
<line x1="65.5" y1="305.4" x2="75.5" y2="305.4" stroke="#000" stroke-width="1.8"/>
<line x1="65.5" y1="295.02" x2="70.5" y2="295.02" stroke="#333" stroke-width="1.0"/>
<line x1="65.5" y1="284.64" x2="70.5" y2="284.64" stroke="#333" stroke-width="1.0"/>
<line x1="65.5" y1="274.26" x2="70.5" y2="274.26" stroke="#333" stroke-width="1.0"/>
<line x1="65.5" y1="263.88" x2="70.5" y2="263.88" stroke="#333" stroke-width="1.0"/>
<line x1="65.5" y1="253.5" x2="75.5" y2="253.5" stroke="#000" stroke-width="1.8"/>
<line x1="65.5" y1="243.12" x2="70.5" y2="243.12" stroke="#333" stroke-width="1.0"/>
<line x1="65.5" y1="232.74" x2="70.5" y2="232.74" stroke="#333" stroke-width="1.0"/>
<line x1="65.5" y1="222.36" x2="70.5" y2="222.36" stroke="#333" stroke-width="1.0"/>
<line x1="65.5" y1="211.98" x2="70.5" y2="211.98" stroke="#333" stroke-width="1.0"/>
<line x1="65.5" y1="201.6" x2="75.5" y2="201.6" stroke="#000" stroke-width="1.8"/>
<line x1="65.5" y1="191.22" x2="70.5" y2="191.22" stroke="#333" stroke-width="1.0"/>
<line x1="65.5" y1="180.84" x2="70.5" y2="180.84" stroke="#333" stroke-width="1.0"/>
<line x1="65.5" y1="170.46" x2="70.5" y2="170.46" stroke="#333" stroke-width="1.0"/>
<line x1="65.5" y1="160.08" x2="70.5" y2="160.08" stroke="#333" stroke-width="1.0"/>
<line x1="65.5" y1="149.7" x2="75.5" y2="149.7" stroke="#000" stroke-width="1.8"/>
<line x1="65.5" y1="139.32" x2="70.5" y2="139.32" stroke="#333" stroke-width="1.0"/>
<line x1="65.5" y1="128.94" x2="70.5" y2="128.94" stroke="#333" stroke-width="1.0"/>
<line x1="65.5" y1="118.56" x2="70.5" y2="118.56" stroke="#333" stroke-width="1.0"/>
<line x1="65.5" y1="108.18" x2="70.5" y2="108.18" stroke="#333" stroke-width="1.0"/>
<line x1="65.5" y1="97.8" x2="75.5" y2="97.8" stroke="#000" stroke-width="1.8"/>
<line x1="65.5" y1="87.42" x2="70.5" y2="87.42" stroke="#333" stroke-width="1.0"/>
<line x1="65.5" y1="77.04" x2="70.5" y2="77.04" stroke="#333" stroke-width="1.0"/>
<line x1="65.5" y1="66.66" x2="70.5" y2="66.66" stroke="#333" stroke-width="1.0"/>
<line x1="65.5" y1="56.28" x2="70.5" y2="56.28" stroke="#333" stroke-width="1.0"/>
<line x1="65.5" y1="45.9" x2="75.5" y2="45.9" stroke="#000" stroke-width="1.8"/>
<line x1="65.5" y1="35.52" x2="70.5" y2="35.52" stroke="#333" stroke-width="1.0"/>
<line x1="65.5" y1="25.14" x2="70.5" y2="25.14" stroke="#333" stroke-width="1.0"/>
<line x1="65.5" y1="14.76" x2="70.5" y2="14.76" stroke="#333" stroke-width="1.0"/>
<line x1="65.5" y1="4.38" x2="70.5" y2="4.38" stroke="#333" stroke-width="1.0"/>
<line x1="65.5" y1="409.2" x2="65.5" y2="399.2" stroke="#000" stroke-width="1.8"/>
<line x1="74.36" y1="409.2" x2="74.36" y2="403.2" stroke="#333" stroke-width="1.0"/>
<line x1="83.22" y1="409.2" x2="83.22" y2="403.2" stroke="#333" stroke-width="1.0"/>
<line x1="92.08" y1="409.2" x2="92.08" y2="403.2" stroke="#333" stroke-width="1.0"/>
<line x1="100.94" y1="409.2" x2="100.94" y2="403.2" stroke="#333" stroke-width="1.0"/>
<line x1="109.8" y1="409.2" x2="109.8" y2="399.2" stroke="#000" stroke-width="1.8"/>
<line x1="118.66" y1="409.2" x2="118.66" y2="403.2" stroke="#333" stroke-width="1.0"/>
<line x1="127.52" y1="409.2" x2="127.52" y2="403.2" stroke="#333" stroke-width="1.0"/>
<line x1="136.38" y1="409.2" x2="136.38" y2="403.2" stroke="#333" stroke-width="1.0"/>
<line x1="145.24" y1="409.2" x2="145.24" y2="403.2" stroke="#333" stroke-width="1.0"/>
<line x1="154.1" y1="409.2" x2="154.1" y2="399.2" stroke="#000" stroke-width="1.8"/>
<line x1="162.96" y1="409.2" x2="162.96" y2="403.2" stroke="#333" stroke-width="1.0"/>
<line x1="171.82" y1="409.2" x2="171.82" y2="403.2" stroke="#333" stroke-width="1.0"/>
<line x1="180.68" y1="409.2" x2="180.68" y2="403.2" stroke="#333" stroke-width="1.0"/>
<line x1="189.54" y1="409.2" x2="189.54" y2="403.2" stroke="#333" stroke-width="1.0"/>
<line x1="198.4" y1="409.2" x2="198.4" y2="399.2" stroke="#000" stroke-width="1.8"/>
<line x1="207.26" y1="409.2" x2="207.26" y2="403.2" stroke="#333" stroke-width="1.0"/>
<line x1="216.12" y1="409.2" x2="216.12" y2="403.2" stroke="#333" stroke-width="1.0"/>
<line x1="224.98" y1="409.2" x2="224.98" y2="403.2" stroke="#333" stroke-width="1.0"/>
<line x1="233.84" y1="409.2" x2="233.84" y2="403.2" stroke="#333" stroke-width="1.0"/>
<line x1="242.7" y1="409.2" x2="242.7" y2="399.2" stroke="#000" stroke-width="1.8"/>
<line x1="251.56" y1="409.2" x2="251.56" y2="403.2" stroke="#333" stroke-width="1.0"/>
<line x1="260.42" y1="409.2" x2="260.42" y2="403.2" stroke="#333" stroke-width="1.0"/>
<line x1="269.28" y1="409.2" x2="269.28" y2="403.2" stroke="#333" stroke-width="1.0"/>
<line x1="278.14" y1="409.2" x2="278.14" y2="403.2" stroke="#333" stroke-width="1.0"/>
<line x1="287" y1="409.2" x2="287" y2="399.2" stroke="#000" stroke-width="1.8"/>
<line x1="295.86" y1="409.2" x2="295.86" y2="403.2" stroke="#333" stroke-width="1.0"/>
<line x1="304.72" y1="409.2" x2="304.72" y2="403.2" stroke="#333" stroke-width="1.0"/>
<line x1="313.58" y1="409.2" x2="313.58" y2="403.2" stroke="#333" stroke-width="1.0"/>
<line x1="322.44" y1="409.2" x2="322.44" y2="403.2" stroke="#333" stroke-width="1.0"/>
<line x1="331.3" y1="409.2" x2="331.3" y2="399.2" stroke="#000" stroke-width="1.8"/>
<line x1="340.16" y1="409.2" x2="340.16" y2="403.2" stroke="#333" stroke-width="1.0"/>
<line x1="349.02" y1="409.2" x2="349.02" y2="403.2" stroke="#333" stroke-width="1.0"/>
<line x1="357.88" y1="409.2" x2="357.88" y2="403.2" stroke="#333" stroke-width="1.0"/>
<line x1="366.74" y1="409.2" x2="366.74" y2="403.2" stroke="#333" stroke-width="1.0"/>
<line x1="375.6" y1="409.2" x2="375.6" y2="399.2" stroke="#000" stroke-width="1.8"/>
<line x1="384.46" y1="409.2" x2="384.46" y2="403.2" stroke="#333" stroke-width="1.0"/>
<line x1="393.32" y1="409.2" x2="393.32" y2="403.2" stroke="#333" stroke-width="1.0"/>
<line x1="402.18" y1="409.2" x2="402.18" y2="403.2" stroke="#333" stroke-width="1.0"/>
<line x1="411.04" y1="409.2" x2="411.04" y2="403.2" stroke="#333" stroke-width="1.0"/>
<line x1="419.9" y1="409.2" x2="419.9" y2="399.2" stroke="#000" stroke-width="1.8"/>
<line x1="428.76" y1="409.2" x2="428.76" y2="403.2" stroke="#333" stroke-width="1.0"/>
<line x1="437.62" y1="409.2" x2="437.62" y2="403.2" stroke="#333" stroke-width="1.0"/>
<line x1="446.48" y1="409.2" x2="446.48" y2="403.2" stroke="#333" stroke-width="1.0"/>
<line x1="455.34" y1="409.2" x2="455.34" y2="403.2" stroke="#333" stroke-width="1.0"/>
<line x1="464.2" y1="409.2" x2="464.2" y2="399.2" stroke="#000" stroke-width="1.8"/>
<line x1="473.06" y1="409.2" x2="473.06" y2="403.2" stroke="#333" stroke-width="1.0"/>
<line x1="481.92" y1="409.2" x2="481.92" y2="403.2" stroke="#333" stroke-width="1.0"/>
<line x1="490.78" y1="409.2" x2="490.78" y2="403.2" stroke="#333" stroke-width="1.0"/>
<line x1="499.64" y1="409.2" x2="499.64" y2="403.2" stroke="#333" stroke-width="1.0"/>
<line x1="508.5" y1="409.2" x2="508.5" y2="399.2" stroke="#000" stroke-width="1.8"/>
<g font-family="'Liberation Sans', Arial, Helvetica, sans-serif" font-size="20" fill="#000" stroke="#000" stroke-width="0.3"><text x="59.5" y="414.8" text-anchor="end">0.9</text><text x="59.5" y="364.1" text-anchor="end">1</text><text x="59.5" y="312.2" text-anchor="end">1.1</text><text x="59.5" y="260.3" text-anchor="end">1.2</text><text x="59.5" y="208.4" text-anchor="end">1.3</text><text x="59.5" y="156.5" text-anchor="end">1.4</text><text x="59.5" y="104.6" text-anchor="end">1.5</text><text x="59.5" y="52.7" text-anchor="end">1.6</text><text x="65.5" y="429" text-anchor="middle">0</text><text x="109.8" y="429" text-anchor="middle">1</text><text x="154.1" y="429" text-anchor="middle">2</text><text x="198.4" y="429" text-anchor="middle">3</text><text x="242.7" y="429" text-anchor="middle">4</text><text x="287" y="429" text-anchor="middle">5</text><text x="331.3" y="429" text-anchor="middle">6</text><text x="375.6" y="429" text-anchor="middle">7</text><text x="419.9" y="429" text-anchor="middle">8</text><text x="464.2" y="429" text-anchor="middle">9</text><text x="508.5" y="429" text-anchor="middle">10</text></g>
<text x="286.5" y="450.4" text-anchor="middle" font-family="'Liberation Sans', Arial, Helvetica, sans-serif" font-size="29" font-weight="bold">x</text>
<text x="-0.6" y="15.8" font-family="'Liberation Sans', Arial, Helvetica, sans-serif" font-size="21.6">(a)</text>
<text transform="translate(17.5,207.5) rotate(-90)" text-anchor="middle" font-family="'Liberation Sans', Arial, Helvetica, sans-serif" font-size="27" stroke="#000" stroke-width="0.6">ρ</text>
<line x1="98.8" y1="345.5" x2="170.4" y2="345.5" stroke="#000" stroke-width="2"/>
<line x1="98.8" y1="364" x2="170.4" y2="364" stroke="#cf1420" stroke-width="2" stroke-dasharray="11 10"/>
<line x1="98.8" y1="383.3" x2="170.4" y2="383.3" stroke="#2c2ce0" stroke-width="2" stroke-dasharray="11 4 1.5 4"/>
<g font-family="'Liberation Sans', Arial, Helvetica, sans-serif" font-size="15.5" font-weight="bold"><text x="182" y="350.2">h=1/1000</text><text x="182" y="368.7">h=1/100</text><text x="182" y="387.4">h=1/50</text></g>
<polyline points="65.5,640 66.48,655.44 67.47,670.73 68.45,685.72 69.44,700.27 70.42,714.24 71.41,727.5 72.39,739.92 73.38,751.37 74.36,761.75 75.34,770.96 76.33,778.9 77.31,785.51 78.3,790.72 79.28,794.47 80.27,796.74 81.25,797.5 83.16,794.76 85.06,786.65 86.97,773.48 88.88,755.76 90.78,734.17 92.69,709.53 94.59,682.8 96.5,655 98.41,627.2 100.31,600.47 102.22,575.83 104.12,554.24 106.03,536.52 107.94,523.35 109.84,515.24 111.75,512.5 113.52,514.99 115.28,522.35 117.05,534.3 118.81,550.39 120.58,570 122.34,592.37 124.11,616.64 125.88,641.88 127.64,667.11 129.41,691.38 131.17,713.75 132.94,733.36 134.7,749.45 136.47,761.4 138.23,768.76 140,771.25 141.75,768.72 143.5,761.21 145.25,749.03 147,732.62 148.75,712.64 150.5,689.84 152.25,665.1 154,639.38 155.75,613.65 157.5,588.91 159.25,566.11 161,546.13 162.75,529.72 164.5,517.54 166.25,510.03 168,507.5 169.84,510.25 171.69,518.39 173.53,531.62 175.38,549.42 177.22,571.11 179.06,595.85 180.91,622.7 182.75,650.62 184.59,678.55 186.44,705.4 188.28,730.14 190.12,751.83 191.97,769.63 193.81,782.86 195.66,791 197.5,793.75 199.42,791.15 201.34,783.46 203.27,770.98 205.19,754.17 207.11,733.7 209.03,710.34 210.95,684.99 212.88,658.62 214.8,632.26 216.72,606.91 218.64,583.55 220.56,563.08 222.48,546.27 224.41,533.79 226.33,526.1 228.25,523.5 229.97,525.93 231.69,533.12 233.41,544.8 235.12,560.51 236.84,579.66 238.56,601.51 240.28,625.22 242,649.88 243.72,674.53 245.44,698.24 247.16,720.09 248.88,739.24 250.59,754.95 252.31,766.63 254.03,773.82 255.75,776.25 257.62,773.6 259.5,765.74 261.38,752.97 263.25,735.79 265.12,714.86 267,690.98 268.88,665.07 270.75,638.12 272.62,611.18 274.5,585.27 276.38,561.39 278.25,540.46 280.12,523.28 282,510.51 283.88,502.65 285.75,500 287.53,502.74 289.31,510.87 291.09,524.06 292.88,541.81 294.66,563.44 296.44,588.12 298.22,614.9 300,642.75 301.78,670.6 303.56,697.38 305.34,722.06 307.12,743.69 308.91,761.44 310.69,774.63 312.47,782.76 314.25,785.5 316.06,783.02 317.88,775.66 319.69,763.72 321.5,747.64 323.31,728.06 325.12,705.71 326.94,681.47 328.75,656.25 330.56,631.03 332.38,606.79 334.19,584.44 336,564.86 337.81,548.78 339.62,536.84 341.44,529.48 343.25,527 345.05,529.5 346.84,536.9 348.64,548.91 350.44,565.08 352.23,584.78 354.03,607.25 355.83,631.64 357.62,657 359.42,682.36 361.22,706.75 363.02,729.22 364.81,748.92 366.61,765.09 368.41,777.1 370.2,784.5 372,787 373.83,784.24 375.66,776.08 377.48,762.82 379.31,744.97 381.14,723.22 382.97,698.42 384.8,671.5 386.62,643.5 388.45,615.5 390.28,588.58 392.11,563.78 393.94,542.03 395.77,524.18 397.59,510.92 399.42,502.76 401.25,500 403.12,502.65 404.99,510.5 406.87,523.24 408.74,540.39 410.61,561.29 412.48,585.13 414.35,611 416.23,637.9 418.1,664.8 419.97,690.67 421.84,714.51 423.71,735.41 425.58,752.56 427.46,765.3 429.33,773.15 431.2,775.8 432.98,773.35 434.76,766.11 436.54,754.35 438.32,738.53 440.11,719.25 441.89,697.25 443.67,673.38 445.45,648.55 447.23,623.72 449.01,599.85 450.79,577.85 452.57,558.57 454.36,542.75 456.14,530.99 457.92,523.75 459.7,521.3 461.49,524 463.27,531.98 465.06,544.95 466.85,562.41 468.64,583.68 470.43,607.94 472.21,634.27 474,661.65 475.79,689.03 477.57,715.36 479.36,739.62 481.15,760.89 482.94,778.35 484.73,791.32 486.51,799.3 488.3,802 496,758.7 497,882" fill="none" stroke="#000" stroke-width="2.2" stroke-linejoin="round"/>
<path d="M66.35 694.1h8.3v8.3h-8.3zM70.1 749.1h8.3v8.3h-8.3zM74.6 782.85h8.3v8.3h-8.3zM78.85 789.1h8.3v8.3h-8.3zM83.85 765.85h8.3v8.3h-8.3zM87.85 719.1h8.3v8.3h-8.3zM91.75 658.45h8.3v8.3h-8.3zM96.6 595.85h8.3v8.3h-8.3zM100.35 544.6h8.3v8.3h-8.3zM104.6 514.6h8.3v8.3h-8.3zM110.85 514.6h8.3v8.3h-8.3zM114.6 544.6h8.3v8.3h-8.3zM119.1 595.1h8.3v8.3h-8.3zM122.85 655.85h8.3v8.3h-8.3zM127.6 710.85h8.3v8.3h-8.3zM132.1 750.35h8.3v8.3h-8.3zM136.35 762.85h8.3v8.3h-8.3zM140.85 744.6h8.3v8.3h-8.3zM145.1 700.85h8.3v8.3h-8.3zM149.6 640.85h8.3v8.3h-8.3zM153.85 579.1h8.3v8.3h-8.3zM158.35 530.85h8.3v8.3h-8.3zM162.85 506.35h8.3v8.3h-8.3zM167.1 510.85h8.3v8.3h-8.3zM171.6 545.85h8.3v8.3h-8.3zM175.85 600.85h8.3v8.3h-8.3zM180.35 664.1h8.3v8.3h-8.3zM184.6 723.35h8.3v8.3h-8.3zM188.85 767.1h8.3v8.3h-8.3zM193.35 787.1h8.3v8.3h-8.3zM198.35 775.85h8.3v8.3h-8.3zM202.6 738.35h8.3v8.3h-8.3zM207.1 680.85h8.3v8.3h-8.3zM211.35 619.6h8.3v8.3h-8.3zM215.35 567.1h8.3v8.3h-8.3zM219.6 533.35h8.3v8.3h-8.3zM224.6 523.85h8.3v8.3h-8.3zM228.85 542.85h8.3v8.3h-8.3zM233.35 585.35h8.3v8.3h-8.3zM237.85 641.35h8.3v8.3h-8.3zM242.1 699.1h8.3v8.3h-8.3zM246.6 743.85h8.3v8.3h-8.3zM250.85 765.85h8.3v8.3h-8.3zM255.35 759.6h8.3v8.3h-8.3zM260.1 723.85h8.3v8.3h-8.3zM264.35 666.85h8.3v8.3h-8.3zM268.35 602.1h8.3v8.3h-8.3zM272.85 545.85h8.3v8.3h-8.3zM277.1 509.6h8.3v8.3h-8.3zM281.6 499.6h8.3v8.3h-8.3zM286.35 520.1h8.3v8.3h-8.3zM290.35 565.35h8.3v8.3h-8.3zM295.1 627.1h8.3v8.3h-8.3zM299.6 691.6h8.3v8.3h-8.3zM303.85 744.6h8.3v8.3h-8.3zM307.85 774.1h8.3v8.3h-8.3zM313.35 774.1h8.3v8.3h-8.3zM317.1 745.85h8.3v8.3h-8.3zM321.6 695.85h8.3v8.3h-8.3zM325.85 636.35h8.3v8.3h-8.3zM330.35 580.85h8.3v8.3h-8.3zM334.6 541.35h8.3v8.3h-8.3zM338.85 525.85h8.3v8.3h-8.3zM343.35 538.35h8.3v8.3h-8.3zM347.85 576.35h8.3v8.3h-8.3zM352.85 629.6h8.3v8.3h-8.3zM356.6 687.1h8.3v8.3h-8.3zM360.85 739.1h8.3v8.3h-8.3zM365.1 772.1h8.3v8.3h-8.3zM370.1 777.1h8.3v8.3h-8.3zM374.6 751.6h8.3v8.3h-8.3zM378.85 702.1h8.3v8.3h-8.3zM383.35 637.85h8.3v8.3h-8.3zM387.6 573.35h8.3v8.3h-8.3zM392.1 523.35h8.3v8.3h-8.3zM396.35 499.6h8.3v8.3h-8.3zM400.85 505.1h8.3v8.3h-8.3zM405.1 538.35h8.3v8.3h-8.3zM409.6 595.1h8.3v8.3h-8.3zM413.85 659.1h8.3v8.3h-8.3zM418.45 716.55h8.3v8.3h-8.3zM422.75 755.85h8.3v8.3h-8.3zM427.05 768.45h8.3v8.3h-8.3zM431.65 749.85h8.3v8.3h-8.3zM436.15 706.65h8.3v8.3h-8.3zM440.35 648.85h8.3v8.3h-8.3zM444.95 589.1h8.3v8.3h-8.3zM449.25 544.65h8.3v8.3h-8.3zM453.85 523.85h8.3v8.3h-8.3zM458.35 528.15h8.3v8.3h-8.3zM462.55 558.85h8.3v8.3h-8.3zM466.85 610.25h8.3v8.3h-8.3zM471.45 669.95h8.3v8.3h-8.3zM475.65 731.05h8.3v8.3h-8.3zM480.05 776.35h8.3v8.3h-8.3zM484.45 778.35h8.3v8.3h-8.3zM489.85 770.55h8.3v8.3h-8.3z" fill="none" stroke="#c8102e" stroke-width="1.7"/>
<path d="M74.25 726.41L79.45 735.21L69.05 735.21zM83 758.16L88.2 766.96L77.8 766.96zM92 706.66L97.2 715.46L86.8 715.46zM100.75 607.16L105.95 615.96L95.55 615.96zM109.5 543.91L114.7 552.71L104.3 552.71zM118.75 564.66L123.95 573.46L113.55 573.46zM127 650.16L132.2 658.96L121.8 658.96zM136.25 723.41L141.45 732.21L131.05 732.21zM145 718.91L150.2 727.71L139.8 727.71zM153.75 639.66L158.95 648.46L148.55 648.46zM162 552.16L167.2 560.96L156.8 560.96zM171.25 537.16L176.45 545.96L166.05 545.96zM180 606.91L185.2 615.71L174.8 615.71zM188.75 708.91L193.95 717.71L183.55 717.71zM197.5 758.91L202.7 767.71L192.3 767.71zM206.75 721.41L211.95 730.21L201.55 730.21zM215.5 627.16L220.7 635.96L210.3 635.96zM224.5 556.41L229.7 565.21L219.3 565.21zM233 565.16L238.2 573.96L227.8 573.96zM242 641.16L247.2 649.96L236.8 649.96zM250.75 722.16L255.95 730.96L245.55 730.96zM260 735.91L265.2 744.71L254.8 744.71zM268.5 664.16L273.7 672.96L263.3 672.96zM277.5 562.66L282.7 571.46L272.3 571.46zM286.25 523.91L291.45 532.71L281.05 532.71zM295 577.66L300.2 586.46L289.8 586.46zM303.5 679.91L308.7 688.71L298.3 688.71zM312 748.91L317.2 757.71L306.8 757.71zM321.25 729.66L326.45 738.46L316.05 738.46zM330 638.91L335.2 647.71L324.8 647.71zM338.75 559.66L343.95 568.46L333.55 568.46zM348 558.41L353.2 567.21L342.8 567.21zM357 632.16L362.2 640.96L351.8 640.96zM365 723.91L370.2 732.71L359.8 732.71zM374.25 753.91L379.45 762.71L369.05 762.71zM383.25 692.16L388.45 700.96L378.05 700.96zM391.75 586.41L396.95 595.21L386.55 595.21zM400.5 523.91L405.7 532.71L395.3 532.71zM409.5 552.66L414.7 561.46L404.3 561.46zM418 649.16L423.2 657.96L412.8 657.96zM426.5 732.86L431.7 741.66L421.3 741.66zM436.4 731.16L441.6 739.96L431.2 739.96zM444.5 650.56L449.7 659.36L439.3 659.36zM453.4 562.96L458.6 571.76L448.2 571.76zM461.8 546.46L467 555.26L456.6 555.26zM471.3 622.16L476.5 630.96L466.1 630.96zM479.8 707.06L485 715.86L474.6 715.86zM487.5 766.66L492.7 775.46L482.3 775.46zM492.5 768.96L497.7 777.76L487.3 777.76z" fill="none" stroke="#2a2ad2" stroke-width="1.7" stroke-linejoin="miter"/>
<line x1="65.5" y1="478.3" x2="65.5" y2="883" stroke="#000" stroke-width="2"/>
<line x1="64.5" y1="882" x2="507.5" y2="882" stroke="#000" stroke-width="2"/>
<line x1="65.5" y1="881.85" x2="70.5" y2="881.85" stroke="#333" stroke-width="1.0"/>
<line x1="65.5" y1="863.55" x2="70.5" y2="863.55" stroke="#333" stroke-width="1.0"/>
<line x1="65.5" y1="845.25" x2="75.5" y2="845.25" stroke="#000" stroke-width="1.8"/>
<line x1="65.5" y1="826.95" x2="70.5" y2="826.95" stroke="#333" stroke-width="1.0"/>
<line x1="65.5" y1="808.65" x2="70.5" y2="808.65" stroke="#333" stroke-width="1.0"/>
<line x1="65.5" y1="790.35" x2="70.5" y2="790.35" stroke="#333" stroke-width="1.0"/>
<line x1="65.5" y1="772.05" x2="70.5" y2="772.05" stroke="#333" stroke-width="1.0"/>
<line x1="65.5" y1="753.75" x2="75.5" y2="753.75" stroke="#000" stroke-width="1.8"/>
<line x1="65.5" y1="735.45" x2="70.5" y2="735.45" stroke="#333" stroke-width="1.0"/>
<line x1="65.5" y1="717.15" x2="70.5" y2="717.15" stroke="#333" stroke-width="1.0"/>
<line x1="65.5" y1="698.85" x2="70.5" y2="698.85" stroke="#333" stroke-width="1.0"/>
<line x1="65.5" y1="680.55" x2="70.5" y2="680.55" stroke="#333" stroke-width="1.0"/>
<line x1="65.5" y1="662.25" x2="75.5" y2="662.25" stroke="#000" stroke-width="1.8"/>
<line x1="65.5" y1="643.95" x2="70.5" y2="643.95" stroke="#333" stroke-width="1.0"/>
<line x1="65.5" y1="625.65" x2="70.5" y2="625.65" stroke="#333" stroke-width="1.0"/>
<line x1="65.5" y1="607.35" x2="70.5" y2="607.35" stroke="#333" stroke-width="1.0"/>
<line x1="65.5" y1="589.05" x2="70.5" y2="589.05" stroke="#333" stroke-width="1.0"/>
<line x1="65.5" y1="570.75" x2="75.5" y2="570.75" stroke="#000" stroke-width="1.8"/>
<line x1="65.5" y1="552.45" x2="70.5" y2="552.45" stroke="#333" stroke-width="1.0"/>
<line x1="65.5" y1="534.15" x2="70.5" y2="534.15" stroke="#333" stroke-width="1.0"/>
<line x1="65.5" y1="515.85" x2="70.5" y2="515.85" stroke="#333" stroke-width="1.0"/>
<line x1="65.5" y1="497.55" x2="70.5" y2="497.55" stroke="#333" stroke-width="1.0"/>
<line x1="65.5" y1="479.25" x2="75.5" y2="479.25" stroke="#000" stroke-width="1.8"/>
<line x1="65.5" y1="882" x2="65.5" y2="872" stroke="#000" stroke-width="1.8"/>
<line x1="83.14" y1="882" x2="83.14" y2="876" stroke="#333" stroke-width="1.0"/>
<line x1="100.78" y1="882" x2="100.78" y2="876" stroke="#333" stroke-width="1.0"/>
<line x1="118.42" y1="882" x2="118.42" y2="876" stroke="#333" stroke-width="1.0"/>
<line x1="136.06" y1="882" x2="136.06" y2="876" stroke="#333" stroke-width="1.0"/>
<line x1="153.7" y1="882" x2="153.7" y2="872" stroke="#000" stroke-width="1.8"/>
<line x1="171.34" y1="882" x2="171.34" y2="876" stroke="#333" stroke-width="1.0"/>
<line x1="188.98" y1="882" x2="188.98" y2="876" stroke="#333" stroke-width="1.0"/>
<line x1="206.62" y1="882" x2="206.62" y2="876" stroke="#333" stroke-width="1.0"/>
<line x1="224.26" y1="882" x2="224.26" y2="876" stroke="#333" stroke-width="1.0"/>
<line x1="241.9" y1="882" x2="241.9" y2="872" stroke="#000" stroke-width="1.8"/>
<line x1="259.54" y1="882" x2="259.54" y2="876" stroke="#333" stroke-width="1.0"/>
<line x1="277.18" y1="882" x2="277.18" y2="876" stroke="#333" stroke-width="1.0"/>
<line x1="294.82" y1="882" x2="294.82" y2="876" stroke="#333" stroke-width="1.0"/>
<line x1="312.46" y1="882" x2="312.46" y2="876" stroke="#333" stroke-width="1.0"/>
<line x1="330.1" y1="882" x2="330.1" y2="872" stroke="#000" stroke-width="1.8"/>
<line x1="347.74" y1="882" x2="347.74" y2="876" stroke="#333" stroke-width="1.0"/>
<line x1="365.38" y1="882" x2="365.38" y2="876" stroke="#333" stroke-width="1.0"/>
<line x1="383.02" y1="882" x2="383.02" y2="876" stroke="#333" stroke-width="1.0"/>
<line x1="400.66" y1="882" x2="400.66" y2="876" stroke="#333" stroke-width="1.0"/>
<line x1="418.3" y1="882" x2="418.3" y2="872" stroke="#000" stroke-width="1.8"/>
<line x1="435.94" y1="882" x2="435.94" y2="876" stroke="#333" stroke-width="1.0"/>
<line x1="453.58" y1="882" x2="453.58" y2="876" stroke="#333" stroke-width="1.0"/>
<line x1="471.22" y1="882" x2="471.22" y2="876" stroke="#333" stroke-width="1.0"/>
<line x1="488.86" y1="882" x2="488.86" y2="876" stroke="#333" stroke-width="1.0"/>
<line x1="506.5" y1="882" x2="506.5" y2="872" stroke="#000" stroke-width="1.8"/>
<g font-family="'Liberation Sans', Arial, Helvetica, sans-serif" font-size="20" fill="#000" stroke="#000" stroke-width="0.3"><text x="59.5" y="853.05" text-anchor="end">1.3</text><text x="59.5" y="761.55" text-anchor="end">1.4</text><text x="59.5" y="670.05" text-anchor="end">1.5</text><text x="59.5" y="578.55" text-anchor="end">1.6</text><text x="59.5" y="487.05" text-anchor="end">1.7</text><text x="65.5" y="901.2" text-anchor="middle">7.7</text><text x="153.7" y="901.2" text-anchor="middle">7.8</text><text x="241.9" y="901.2" text-anchor="middle">7.9</text><text x="330.1" y="901.2" text-anchor="middle">8</text><text x="418.3" y="901.2" text-anchor="middle">8.1</text><text x="506.5" y="901.2" text-anchor="middle">8.2</text></g>
<text x="286" y="923.5" text-anchor="middle" font-family="'Liberation Sans', Arial, Helvetica, sans-serif" font-size="29" font-weight="bold">x</text>
<text x="-0.6" y="472.9" font-family="'Liberation Sans', Arial, Helvetica, sans-serif" font-size="21.6">(b)</text>
<text transform="translate(18.5,681) rotate(-90)" text-anchor="middle" font-family="'Liberation Sans', Arial, Helvetica, sans-serif" font-size="27" stroke="#000" stroke-width="0.6">ρ</text>
<line x1="100" y1="818.3" x2="169.5" y2="818.3" stroke="#000" stroke-width="2.2"/>
<path d="M130.35 832.75h8.3v8.3h-8.3z" fill="none" stroke="#c8102e" stroke-width="1.7"/>
<path d="M134.6 850.36L139.8 859.16L129.4 859.16z" fill="none" stroke="#2a2ad2" stroke-width="1.7"/>
<g font-family="'Liberation Sans', Arial, Helvetica, sans-serif" font-size="15.5" font-weight="bold"><text x="182" y="823.2">h=1/1000</text><text x="182" y="841.8">h=1/100</text><text x="182" y="860.5">h=1/50</text></g>
</svg></body></html>
